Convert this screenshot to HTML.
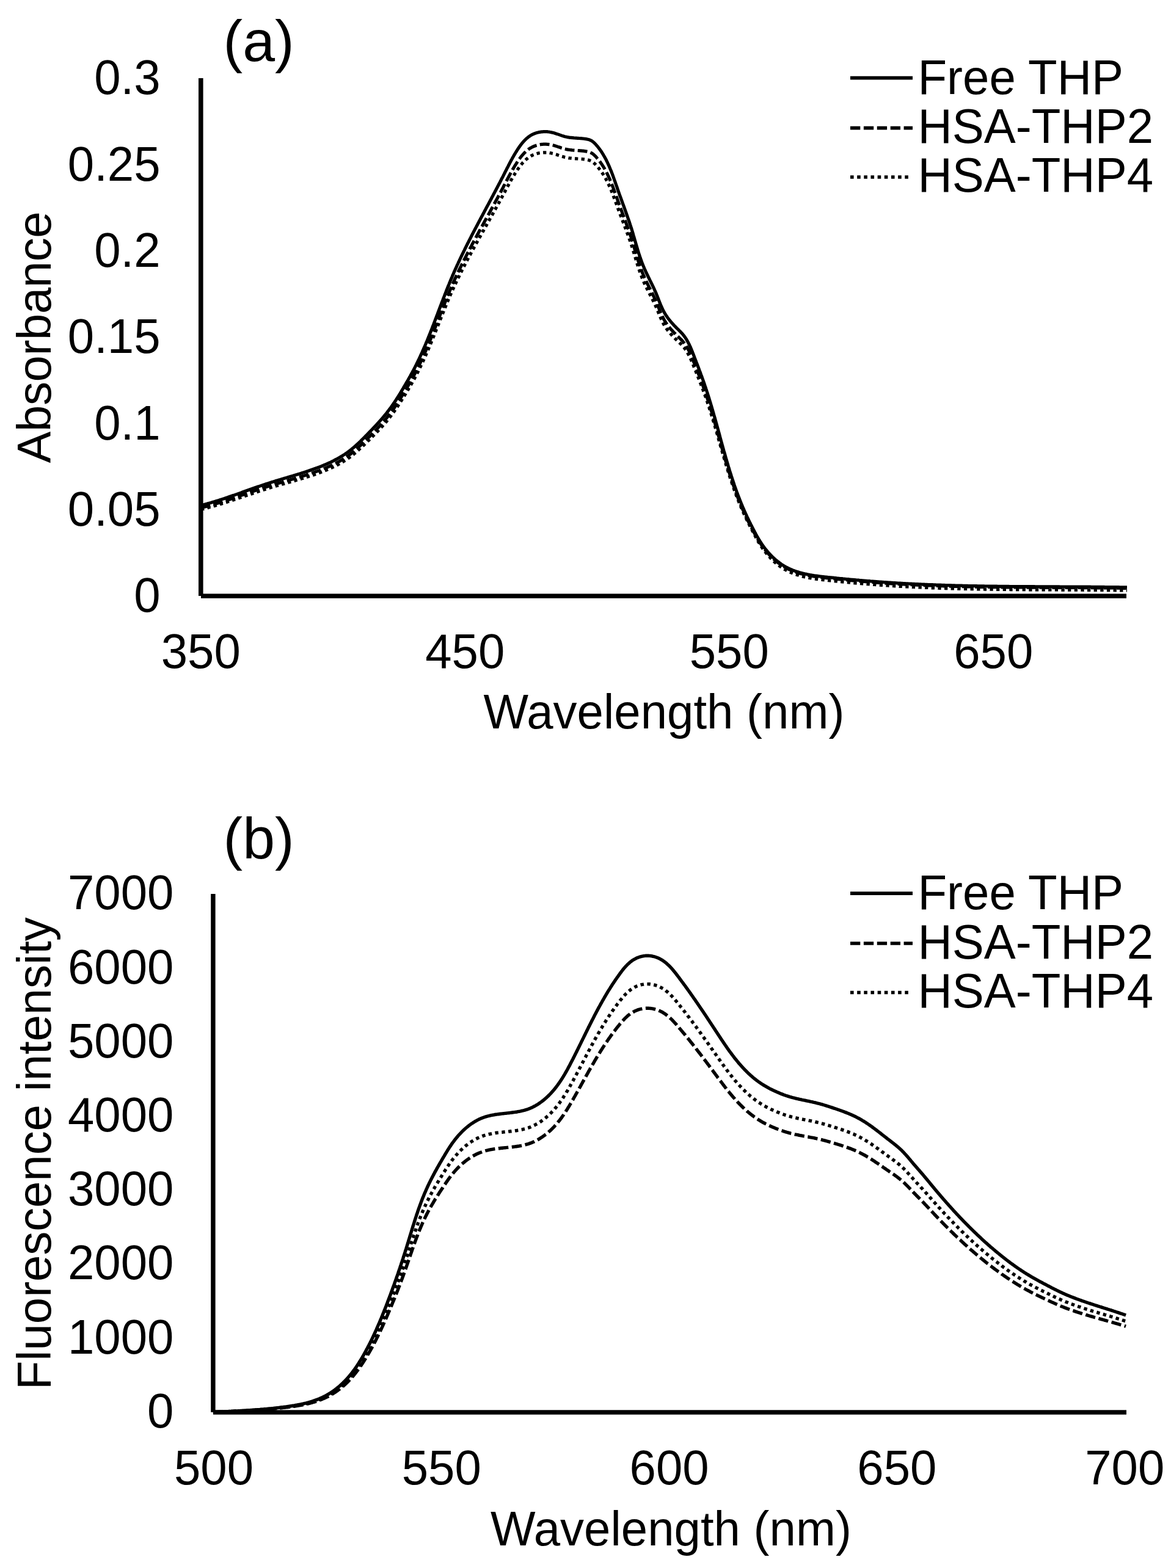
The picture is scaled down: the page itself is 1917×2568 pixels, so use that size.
<!DOCTYPE html>
<html><head><meta charset="utf-8"><title>Absorbance and fluorescence spectra</title>
<style>html,body{margin:0;padding:0;background:#fff;overflow:hidden;}svg{display:block;}</style></head>
<body>
<svg width="1917" height="2568" viewBox="0 0 1917 2568" font-family="'Liberation Sans', sans-serif" font-size="78" fill="#000">
<rect width="1917" height="2568" fill="#fff"/>
<!-- panel a -->
<text x="365.5" y="100.3" font-size="95">(a)</text>
<path d="M329.0 827.7L330.5 827.3L331.9 826.9L333.4 826.5L334.8 826.2L336.3 825.8L337.7 825.4L339.2 825.0L340.6 824.6L342.1 824.2L343.5 823.8L345.0 823.4L346.4 822.9L347.8 822.5L349.3 822.1L350.7 821.7L352.1 821.2L353.6 820.8L355.0 820.3L356.4 819.9L357.9 819.4L359.3 819.0L360.7 818.5L362.2 818.1L363.6 817.6L365.0 817.1L366.5 816.7L367.9 816.2L369.3 815.7L370.7 815.2L372.2 814.8L373.6 814.3L375.0 813.8L376.4 813.3L377.8 812.8L379.3 812.3L380.7 811.8L382.1 811.3L383.5 810.9L384.9 810.4L386.4 809.9L387.8 809.4L389.2 808.9L390.6 808.4L392.0 807.9L393.4 807.4L394.9 806.9L396.3 806.3L397.7 805.8L399.1 805.3L400.5 804.8L401.9 804.3L403.4 803.8L404.8 803.3L406.2 802.8L407.6 802.3L409.0 801.8L410.4 801.3L411.9 800.8L413.3 800.3L414.7 799.8L416.1 799.3L417.5 798.8L418.9 798.3L420.4 797.8L421.8 797.3L423.2 796.8L424.6 796.4L426.0 795.9L427.5 795.4L428.9 794.9L430.3 794.4L431.7 793.9L433.2 793.5L434.6 793.0L436.0 792.5L437.4 792.1L438.9 791.6L440.3 791.1L441.7 790.7L443.1 790.2L444.6 789.8L446.0 789.3L447.4 788.9L448.9 788.4L450.3 788.0L451.7 787.5L453.2 787.1L454.6 786.7L456.0 786.2L457.5 785.8L458.9 785.4L460.3 784.9L461.8 784.5L463.2 784.1L464.7 783.6L466.1 783.2L467.5 782.8L469.0 782.4L470.4 781.9L471.8 781.5L473.3 781.1L474.7 780.6L476.2 780.2L477.6 779.8L479.0 779.4L480.5 778.9L481.9 778.5L483.4 778.1L484.8 777.6L486.2 777.2L487.7 776.8L489.1 776.3L490.5 775.9L492.0 775.4L493.4 775.0L494.8 774.5L496.3 774.1L497.7 773.6L499.1 773.1L500.6 772.7L502.0 772.2L503.4 771.7L504.8 771.3L506.3 770.8L507.7 770.3L509.1 769.8L510.5 769.3L512.0 768.8L513.4 768.3L514.8 767.8L516.2 767.3L517.6 766.8L519.0 766.3L520.5 765.7L521.9 765.2L523.3 764.7L524.7 764.1L526.1 763.6L527.5 763.0L528.9 762.4L530.2 761.8L531.6 761.3L533.0 760.7L534.4 760.1L535.8 759.5L537.1 758.9L538.5 758.2L539.9 757.6L541.2 757.0L542.6 756.3L543.9 755.7L545.2 755.0L546.6 754.3L547.9 753.6L549.2 752.9L550.6 752.2L551.9 751.5L553.2 750.8L554.5 750.1L555.8 749.3L557.0 748.6L558.3 747.8L559.6 747.0L560.9 746.2L562.1 745.4L563.4 744.6L564.6 743.8L565.8 743.0L567.1 742.1L568.3 741.3L569.5 740.4L570.7 739.5L571.9 738.6L573.1 737.7L574.3 736.8L575.4 735.8L576.6 734.9L577.7 733.9L578.9 733.0L580.0 732.0L581.2 731.0L582.3 730.0L583.4 729.0L584.5 728.0L585.6 726.9L586.7 725.9L587.8 724.9L588.9 723.8L590.0 722.8L591.1 721.7L592.1 720.7L593.2 719.6L594.3 718.5L595.4 717.5L596.4 716.4L597.5 715.3L598.6 714.2L599.6 713.2L600.7 712.1L601.7 711.0L602.8 709.9L603.8 708.8L604.9 707.7L605.9 706.7L607.0 705.6L608.0 704.5L609.1 703.4L610.1 702.3L611.1 701.2L612.2 700.1L613.2 699.0L614.2 697.9L615.3 696.8L616.3 695.7L617.3 694.6L618.3 693.5L619.3 692.4L620.3 691.3L621.3 690.2L622.3 689.1L623.3 687.9L624.3 686.8L625.3 685.7L626.2 684.6L627.2 683.4L628.2 682.3L629.1 681.1L630.1 680.0L631.0 678.8L632.0 677.7L632.9 676.5L633.8 675.3L634.7 674.1L635.6 673.0L636.5 671.8L637.4 670.6L638.3 669.4L639.2 668.2L640.1 667.0L640.9 665.8L641.8 664.6L642.7 663.3L643.5 662.1L644.4 660.9L645.2 659.6L646.0 658.4L646.8 657.2L647.7 655.9L648.5 654.7L649.3 653.4L650.1 652.1L650.9 650.9L651.7 649.6L652.5 648.4L653.3 647.1L654.1 645.8L654.9 644.5L655.6 643.3L656.4 642.0L657.2 640.7L658.0 639.4L658.7 638.1L659.5 636.8L660.3 635.5L661.0 634.2L661.8 632.9L662.6 631.6L663.3 630.3L664.1 629.0L664.8 627.7L665.6 626.4L666.4 625.1L667.1 623.8L667.9 622.5L668.6 621.2L669.3 619.9L670.1 618.6L670.8 617.3L671.6 616.0L672.3 614.6L673.0 613.3L673.7 612.0L674.5 610.7L675.2 609.3L675.9 608.0L676.6 606.7L677.3 605.4L678.0 604.0L678.7 602.7L679.4 601.4L680.0 600.0L680.7 598.7L681.4 597.3L682.1 596.0L682.7 594.6L683.4 593.3L684.0 591.9L684.7 590.6L685.3 589.2L686.0 587.9L686.6 586.5L687.3 585.2L687.9 583.8L688.5 582.4L689.1 581.1L689.8 579.7L690.4 578.3L691.0 577.0L691.6 575.6L692.2 574.2L692.8 572.9L693.4 571.5L694.0 570.1L694.6 568.7L695.2 567.3L695.8 566.0L696.4 564.6L697.0 563.2L697.5 561.8L698.1 560.4L698.7 559.1L699.3 557.7L699.8 556.3L700.4 554.9L701.0 553.5L701.5 552.1L702.1 550.7L702.6 549.3L703.2 547.9L703.8 546.6L704.3 545.2L704.9 543.8L705.4 542.4L706.0 541.0L706.5 539.6L707.1 538.2L707.6 536.8L708.1 535.4L708.7 534.0L709.2 532.6L709.8 531.2L710.3 529.8L710.8 528.4L711.4 527.0L711.9 525.6L712.4 524.2L713.0 522.8L713.5 521.4L714.0 520.0L714.6 518.6L715.1 517.2L715.6 515.8L716.2 514.4L716.7 512.9L717.2 511.5L717.8 510.1L718.3 508.7L718.8 507.3L719.3 505.9L719.9 504.5L720.4 503.1L720.9 501.7L721.5 500.3L722.0 498.9L722.5 497.5L723.1 496.1L723.6 494.7L724.1 493.3L724.7 491.9L725.2 490.5L725.7 489.1L726.3 487.7L726.8 486.3L727.4 484.9L727.9 483.5L728.4 482.1L729.0 480.7L729.5 479.3L730.1 477.9L730.6 476.5L731.2 475.1L731.7 473.7L732.3 472.3L732.8 470.9L733.4 469.5L733.9 468.1L734.5 466.8L735.1 465.4L735.6 464.0L736.2 462.6L736.8 461.2L737.3 459.8L737.9 458.4L738.5 457.0L739.1 455.7L739.7 454.3L740.3 452.9L740.8 451.5L741.4 450.1L742.0 448.8L742.6 447.4L743.2 446.0L743.8 444.6L744.4 443.3L745.0 441.9L745.7 440.5L746.3 439.2L746.9 437.8L747.5 436.4L748.1 435.1L748.7 433.7L749.4 432.3L750.0 431.0L750.6 429.6L751.3 428.3L751.9 426.9L752.5 425.5L753.2 424.2L753.8 422.8L754.5 421.5L755.1 420.1L755.8 418.8L756.4 417.4L757.1 416.1L757.7 414.7L758.4 413.4L759.0 412.0L759.7 410.7L760.4 409.3L761.0 408.0L761.7 406.6L762.4 405.3L763.0 403.9L763.7 402.6L764.4 401.2L765.0 399.9L765.7 398.6L766.4 397.2L767.1 395.9L767.8 394.5L768.4 393.2L769.1 391.9L769.8 390.5L770.5 389.2L771.2 387.8L771.9 386.5L772.5 385.2L773.2 383.8L773.9 382.5L774.6 381.2L775.3 379.8L776.0 378.5L776.7 377.2L777.4 375.8L778.1 374.5L778.8 373.2L779.5 371.9L780.2 370.5L780.9 369.2L781.6 367.9L782.3 366.5L783.0 365.2L783.7 363.9L784.4 362.6L785.1 361.2L785.8 359.9L786.5 358.6L787.2 357.2L787.9 355.9L788.6 354.6L789.4 353.3L790.1 351.9L790.8 350.6L791.5 349.3L792.2 348.0L792.9 346.6L793.6 345.3L794.3 344.0L795.0 342.7L795.7 341.3L796.4 340.0L797.1 338.7L797.8 337.4L798.6 336.0L799.3 334.7L800.0 333.4L800.7 332.1L801.4 330.8L802.1 329.4L802.8 328.1L803.5 326.8L804.2 325.5L804.9 324.1L805.6 322.8L806.3 321.5L807.0 320.2L807.7 318.8L808.4 317.5L809.1 316.2L809.8 314.9L810.5 313.5L811.2 312.2L811.9 310.9L812.6 309.6L813.3 308.2L814.0 306.9L814.7 305.6L815.4 304.3L816.1 302.9L816.8 301.6L817.5 300.3L818.2 299.0L818.9 297.6L819.6 296.3L820.2 295.0L820.9 293.6L821.6 292.3L822.3 291.0L823.0 289.7L823.7 288.3L824.3 287.0L825.0 285.7L825.7 284.3L826.4 283.0L827.0 281.7L827.7 280.3L828.4 279.0L829.1 277.7L829.7 276.3L830.4 275.0L831.1 273.7L831.8 272.4L832.5 271.0L833.1 269.7L833.8 268.4L834.5 267.1L835.2 265.7L835.9 264.4L836.6 263.1L837.3 261.8L838.1 260.5L838.8 259.1L839.5 257.8L840.3 256.5L841.0 255.2L841.8 253.9L842.5 252.6L843.3 251.3L844.1 250.0L844.9 248.7L845.7 247.5L846.5 246.2L847.3 244.9L848.1 243.6L849.0 242.4L849.8 241.1L850.7 239.9L851.6 238.6L852.5 237.4L853.4 236.2L854.3 235.0L855.3 233.8L856.3 232.7L857.3 231.6L858.3 230.5L859.3 229.4L860.4 228.4L861.4 227.4L862.5 226.4L863.7 225.4L864.8 224.5L866.0 223.7L867.2 222.8L868.4 222.0L869.7 221.3L870.9 220.6L872.3 219.9L873.6 219.3L875.0 218.8L876.4 218.2L877.8 217.8L879.2 217.3L880.7 217.0L882.1 216.6L883.6 216.3L885.1 216.1L886.6 215.9L888.1 215.8L889.7 215.7L891.2 215.6L892.7 215.6L894.2 215.7L895.7 215.7L897.3 215.9L898.8 216.0L900.3 216.3L901.8 216.5L903.2 216.9L904.7 217.2L906.2 217.6L907.6 218.0L909.1 218.5L910.5 219.0L911.9 219.4L913.4 219.9L914.8 220.4L916.2 220.9L917.6 221.4L919.0 221.9L920.5 222.4L921.9 222.8L923.3 223.3L924.7 223.7L926.2 224.0L927.6 224.3L929.0 224.6L930.5 224.8L931.9 225.1L933.4 225.3L934.9 225.4L936.4 225.6L937.8 225.7L939.3 225.9L940.8 226.0L942.3 226.1L943.8 226.2L945.3 226.3L946.8 226.4L948.4 226.5L949.9 226.6L951.4 226.7L953.0 226.8L954.5 227.0L956.1 227.2L957.6 227.3L959.1 227.6L960.7 227.9L962.2 228.2L963.6 228.6L965.0 229.0L966.4 229.6L967.7 230.2L969.0 230.9L970.2 231.8L971.3 232.7L972.4 233.6L973.4 234.7L974.5 235.7L975.5 236.8L976.5 237.9L977.4 239.0L978.4 240.1L979.3 241.3L980.2 242.5L981.1 243.6L982.0 244.9L982.9 246.1L983.7 247.3L984.6 248.6L985.4 249.8L986.2 251.1L987.0 252.4L987.8 253.7L988.5 255.0L989.3 256.3L990.0 257.6L990.7 258.9L991.5 260.3L992.2 261.6L992.8 263.0L993.5 264.3L994.2 265.7L994.8 267.0L995.4 268.4L996.1 269.8L996.7 271.1L997.3 272.5L997.9 273.9L998.5 275.3L999.0 276.7L999.6 278.1L1000.2 279.4L1000.7 280.8L1001.3 282.2L1001.8 283.6L1002.3 285.0L1002.9 286.4L1003.4 287.8L1003.9 289.3L1004.4 290.7L1004.9 292.1L1005.4 293.5L1005.9 294.9L1006.4 296.3L1006.9 297.7L1007.4 299.1L1007.9 300.6L1008.4 302.0L1008.9 303.4L1009.4 304.8L1009.9 306.2L1010.4 307.6L1010.8 309.1L1011.3 310.5L1011.8 311.9L1012.3 313.3L1012.8 314.7L1013.3 316.1L1013.8 317.5L1014.3 319.0L1014.8 320.4L1015.3 321.8L1015.9 323.2L1016.4 324.6L1016.9 326.0L1017.4 327.4L1017.9 328.8L1018.4 330.2L1018.9 331.6L1019.4 333.1L1019.9 334.5L1020.5 335.9L1021.0 337.3L1021.5 338.7L1022.0 340.1L1022.5 341.5L1023.0 342.9L1023.5 344.3L1024.0 345.8L1024.5 347.2L1025.0 348.6L1025.5 350.0L1026.0 351.4L1026.5 352.8L1027.0 354.2L1027.5 355.7L1028.0 357.1L1028.5 358.5L1029.0 359.9L1029.5 361.3L1030.0 362.8L1030.4 364.2L1030.9 365.6L1031.4 367.0L1031.8 368.5L1032.3 369.9L1032.8 371.3L1033.2 372.8L1033.7 374.2L1034.1 375.6L1034.6 377.1L1035.0 378.5L1035.4 379.9L1035.9 381.4L1036.3 382.8L1036.7 384.3L1037.1 385.7L1037.6 387.2L1038.0 388.6L1038.4 390.1L1038.8 391.5L1039.2 393.0L1039.6 394.4L1040.1 395.8L1040.5 397.3L1040.9 398.7L1041.3 400.2L1041.7 401.6L1042.2 403.1L1042.6 404.5L1043.0 406.0L1043.4 407.4L1043.9 408.8L1044.3 410.3L1044.7 411.7L1045.2 413.1L1045.6 414.6L1046.1 416.0L1046.6 417.4L1047.0 418.9L1047.5 420.3L1048.0 421.7L1048.5 423.1L1049.0 424.5L1049.5 425.9L1050.0 427.4L1050.5 428.8L1051.0 430.2L1051.5 431.6L1052.1 432.9L1052.6 434.3L1053.2 435.7L1053.8 437.1L1054.4 438.5L1054.9 439.9L1055.6 441.2L1056.2 442.6L1056.8 444.0L1057.4 445.3L1058.0 446.7L1058.7 448.0L1059.3 449.4L1060.0 450.7L1060.6 452.1L1061.3 453.4L1061.9 454.8L1062.6 456.1L1063.3 457.5L1063.9 458.8L1064.6 460.2L1065.3 461.5L1065.9 462.9L1066.6 464.2L1067.3 465.6L1067.9 466.9L1068.6 468.3L1069.2 469.6L1069.8 471.0L1070.5 472.4L1071.1 473.7L1071.7 475.1L1072.4 476.5L1073.0 477.9L1073.6 479.3L1074.1 480.6L1074.7 482.0L1075.3 483.4L1075.9 484.8L1076.4 486.2L1077.0 487.7L1077.5 489.1L1078.1 490.5L1078.6 491.9L1079.2 493.3L1079.7 494.7L1080.3 496.1L1080.8 497.5L1081.4 498.9L1082.0 500.3L1082.6 501.6L1083.2 503.0L1083.8 504.4L1084.4 505.7L1085.1 507.1L1085.7 508.4L1086.4 509.7L1087.1 511.0L1087.8 512.3L1088.6 513.6L1089.3 514.9L1090.1 516.1L1090.9 517.3L1091.8 518.6L1092.6 519.8L1093.5 521.0L1094.4 522.2L1095.3 523.3L1096.2 524.5L1097.2 525.7L1098.1 526.8L1099.1 528.0L1100.1 529.1L1101.1 530.2L1102.1 531.3L1103.1 532.4L1104.1 533.5L1105.2 534.6L1106.2 535.7L1107.3 536.8L1108.4 537.9L1109.5 538.9L1110.6 540.0L1111.6 541.1L1112.7 542.1L1113.8 543.2L1114.8 544.3L1115.9 545.4L1116.9 546.5L1117.9 547.7L1118.8 548.8L1119.8 550.0L1120.6 551.2L1121.5 552.4L1122.3 553.6L1123.2 554.9L1123.9 556.2L1124.7 557.4L1125.4 558.7L1126.1 560.0L1126.8 561.4L1127.5 562.7L1128.2 564.0L1128.8 565.4L1129.5 566.8L1130.1 568.1L1130.7 569.5L1131.3 570.9L1131.8 572.3L1132.4 573.7L1133.0 575.1L1133.5 576.5L1134.1 577.9L1134.6 579.3L1135.2 580.7L1135.7 582.1L1136.2 583.5L1136.8 585.0L1137.3 586.4L1137.9 587.8L1138.4 589.2L1139.0 590.6L1139.5 592.0L1140.0 593.4L1140.6 594.8L1141.1 596.2L1141.6 597.6L1142.2 599.0L1142.7 600.4L1143.2 601.8L1143.8 603.2L1144.3 604.6L1144.8 606.0L1145.3 607.4L1145.9 608.8L1146.4 610.2L1146.9 611.6L1147.4 613.0L1147.9 614.4L1148.5 615.8L1149.0 617.2L1149.5 618.7L1150.0 620.1L1150.5 621.5L1151.0 622.9L1151.5 624.3L1152.0 625.7L1152.5 627.1L1153.0 628.5L1153.5 629.9L1153.9 631.3L1154.4 632.8L1154.9 634.2L1155.4 635.6L1155.8 637.0L1156.3 638.4L1156.8 639.9L1157.2 641.3L1157.7 642.7L1158.2 644.1L1158.6 645.6L1159.1 647.0L1159.5 648.4L1160.0 649.8L1160.4 651.3L1160.9 652.7L1161.3 654.1L1161.7 655.6L1162.2 657.0L1162.6 658.4L1163.0 659.9L1163.5 661.3L1163.9 662.8L1164.3 664.2L1164.8 665.6L1165.2 667.1L1165.6 668.5L1166.0 670.0L1166.4 671.4L1166.9 672.8L1167.3 674.3L1167.7 675.7L1168.1 677.2L1168.5 678.6L1168.9 680.1L1169.3 681.5L1169.7 682.9L1170.2 684.4L1170.6 685.8L1171.0 687.3L1171.4 688.7L1171.8 690.2L1172.2 691.6L1172.6 693.1L1173.0 694.5L1173.4 696.0L1173.8 697.4L1174.2 698.9L1174.6 700.3L1175.0 701.8L1175.4 703.2L1175.8 704.7L1176.2 706.1L1176.6 707.6L1177.0 709.0L1177.4 710.5L1177.8 711.9L1178.1 713.4L1178.5 714.8L1178.9 716.3L1179.3 717.7L1179.7 719.2L1180.1 720.7L1180.5 722.1L1180.9 723.6L1181.3 725.0L1181.7 726.5L1182.1 727.9L1182.5 729.4L1182.9 730.8L1183.3 732.3L1183.7 733.7L1184.1 735.2L1184.5 736.6L1184.9 738.1L1185.3 739.5L1185.8 740.9L1186.2 742.4L1186.6 743.8L1187.0 745.3L1187.4 746.7L1187.8 748.2L1188.2 749.6L1188.6 751.1L1189.1 752.5L1189.5 754.0L1189.9 755.4L1190.3 756.8L1190.7 758.3L1191.2 759.7L1191.6 761.2L1192.0 762.6L1192.4 764.0L1192.9 765.5L1193.3 766.9L1193.8 768.3L1194.2 769.8L1194.6 771.2L1195.1 772.7L1195.5 774.1L1196.0 775.5L1196.4 776.9L1196.9 778.4L1197.3 779.8L1197.8 781.2L1198.3 782.7L1198.7 784.1L1199.2 785.5L1199.7 786.9L1200.1 788.4L1200.6 789.8L1201.1 791.2L1201.6 792.6L1202.0 794.0L1202.5 795.5L1203.0 796.9L1203.5 798.3L1204.0 799.7L1204.5 801.1L1205.0 802.5L1205.5 803.9L1206.0 805.3L1206.5 806.7L1207.1 808.1L1207.6 809.5L1208.1 810.9L1208.6 812.3L1209.2 813.7L1209.7 815.1L1210.3 816.5L1210.8 817.9L1211.3 819.3L1211.9 820.7L1212.5 822.1L1213.0 823.5L1213.6 824.9L1214.2 826.3L1214.7 827.6L1215.3 829.0L1215.9 830.4L1216.5 831.8L1217.1 833.2L1217.7 834.5L1218.3 835.9L1218.9 837.3L1219.5 838.6L1220.1 840.0L1220.7 841.4L1221.4 842.7L1222.0 844.1L1222.6 845.4L1223.2 846.8L1223.9 848.2L1224.5 849.5L1225.2 850.9L1225.8 852.2L1226.5 853.6L1227.1 854.9L1227.8 856.2L1228.5 857.6L1229.1 858.9L1229.8 860.3L1230.5 861.6L1231.2 862.9L1231.8 864.3L1232.5 865.6L1233.2 866.9L1233.9 868.3L1234.6 869.6L1235.3 870.9L1236.0 872.2L1236.7 873.5L1237.4 874.9L1238.1 876.2L1238.8 877.5L1239.6 878.8L1240.3 880.1L1241.0 881.4L1241.8 882.7L1242.6 884.0L1243.4 885.2L1244.2 886.5L1245.0 887.8L1245.8 889.0L1246.6 890.3L1247.5 891.5L1248.3 892.8L1249.2 894.0L1250.1 895.2L1251.0 896.5L1251.9 897.7L1252.8 898.9L1253.8 900.1L1254.7 901.2L1255.7 902.4L1256.7 903.6L1257.6 904.7L1258.6 905.8L1259.7 907.0L1260.7 908.1L1261.7 909.2L1262.8 910.2L1263.8 911.3L1264.9 912.4L1266.0 913.4L1267.1 914.4L1268.2 915.4L1269.3 916.4L1270.5 917.4L1271.6 918.4L1272.8 919.3L1274.0 920.2L1275.2 921.1L1276.4 922.0L1277.6 922.9L1278.8 923.8L1280.0 924.6L1281.3 925.4L1282.5 926.2L1283.8 927.0L1285.1 927.7L1286.4 928.5L1287.7 929.2L1289.0 929.8L1290.4 930.5L1291.7 931.2L1293.1 931.8L1294.4 932.4L1295.8 933.0L1297.2 933.6L1298.6 934.1L1300.0 934.6L1301.4 935.2L1302.8 935.7L1304.3 936.1L1305.7 936.6L1307.1 937.0L1308.6 937.5L1310.0 937.9L1311.5 938.3L1313.0 938.7L1314.4 939.1L1315.9 939.4L1317.4 939.8L1318.9 940.1L1320.3 940.4L1321.8 940.7L1323.3 941.0L1324.8 941.3L1326.3 941.6L1327.8 941.8L1329.3 942.1L1330.7 942.3L1332.2 942.6L1333.7 942.8L1335.2 943.0L1336.7 943.2L1338.2 943.4L1339.7 943.6L1341.2 943.8L1342.6 944.0L1344.1 944.2L1345.6 944.3L1347.1 944.5L1348.6 944.7L1350.1 944.8L1351.6 945.0L1353.1 945.1L1354.5 945.3L1356.0 945.5L1357.5 945.6L1359.0 945.8L1360.5 945.9L1362.0 946.1L1363.5 946.2L1365.0 946.4L1366.5 946.6L1368.0 946.7L1369.5 946.9L1370.9 947.0L1372.4 947.2L1373.9 947.3L1375.4 947.5L1376.9 947.6L1378.4 947.7L1379.9 947.9L1381.4 948.0L1382.9 948.2L1384.4 948.3L1385.9 948.5L1387.4 948.6L1388.9 948.7L1390.4 948.9L1391.8 949.0L1393.3 949.2L1394.8 949.3L1396.3 949.4L1397.8 949.6L1399.3 949.7L1400.8 949.8L1402.3 950.0L1403.8 950.1L1405.3 950.2L1406.8 950.4L1408.3 950.5L1409.8 950.6L1411.3 950.8L1412.8 950.9L1414.3 951.0L1415.8 951.1L1417.3 951.3L1418.8 951.4L1420.3 951.5L1421.8 951.6L1423.3 951.7L1424.8 951.9L1426.3 952.0L1427.8 952.1L1429.3 952.2L1430.8 952.3L1432.3 952.4L1433.7 952.6L1435.2 952.7L1436.7 952.8L1438.2 952.9L1439.7 953.0L1441.2 953.1L1442.7 953.2L1444.2 953.3L1445.7 953.4L1447.2 953.5L1448.7 953.6L1450.2 953.7L1451.7 953.8L1453.2 953.9L1454.7 954.0L1456.2 954.1L1457.7 954.2L1459.2 954.3L1460.7 954.4L1462.2 954.5L1463.7 954.6L1465.2 954.7L1466.7 954.8L1468.2 954.9L1469.7 955.0L1471.2 955.1L1472.7 955.2L1474.2 955.2L1475.7 955.3L1477.2 955.4L1478.7 955.5L1480.2 955.6L1481.7 955.7L1483.2 955.8L1484.7 955.8L1486.2 955.9L1487.7 956.0L1489.2 956.1L1490.7 956.1L1492.2 956.2L1493.7 956.3L1495.2 956.4L1496.7 956.4L1498.2 956.5L1499.7 956.6L1501.2 956.7L1502.7 956.7L1504.2 956.8L1505.7 956.9L1507.2 956.9L1508.7 957.0L1510.2 957.1L1511.7 957.1L1513.2 957.2L1514.7 957.3L1516.2 957.3L1517.7 957.4L1519.2 957.5L1520.7 957.5L1522.2 957.6L1523.7 957.6L1525.2 957.7L1526.7 957.7L1528.2 957.8L1529.7 957.9L1531.2 957.9L1532.7 958.0L1534.2 958.0L1535.7 958.1L1537.2 958.1L1538.7 958.2L1540.2 958.2L1541.7 958.3L1543.2 958.3L1544.7 958.4L1546.2 958.4L1547.7 958.5L1549.2 958.5L1550.7 958.6L1552.2 958.6L1553.7 958.7L1555.2 958.7L1556.7 958.7L1558.2 958.8L1559.7 958.8L1561.2 958.9L1562.7 958.9L1564.2 959.0L1565.7 959.0L1567.2 959.0L1568.7 959.1L1570.2 959.1L1571.7 959.2L1573.2 959.2L1574.7 959.2L1576.2 959.3L1577.7 959.3L1579.2 959.3L1580.7 959.4L1582.2 959.4L1583.7 959.4L1585.2 959.5L1586.7 959.5L1588.2 959.5L1589.7 959.6L1591.2 959.6L1592.7 959.6L1594.2 959.6L1595.7 959.7L1597.2 959.7L1598.8 959.7L1600.3 959.8L1601.8 959.8L1603.3 959.8L1604.8 959.8L1606.3 959.9L1607.8 959.9L1609.3 959.9L1610.8 959.9L1612.3 960.0L1613.8 960.0L1615.3 960.0L1616.8 960.0L1618.3 960.1L1619.8 960.1L1621.3 960.1L1622.8 960.1L1624.3 960.1L1625.8 960.2L1627.3 960.2L1628.8 960.2L1630.3 960.2L1631.8 960.2L1633.3 960.3L1634.8 960.3L1636.3 960.3L1637.8 960.3L1639.3 960.3L1640.8 960.3L1642.3 960.4L1643.8 960.4L1645.3 960.4L1646.8 960.4L1648.3 960.4L1649.8 960.4L1651.3 960.4L1652.8 960.5L1654.3 960.5L1655.8 960.5L1657.3 960.5L1658.8 960.5L1660.3 960.5L1661.8 960.5L1663.3 960.5L1664.8 960.6L1666.3 960.6L1667.8 960.6L1669.3 960.6L1670.8 960.6L1672.3 960.6L1673.8 960.6L1675.3 960.6L1676.8 960.6L1678.3 960.7L1679.8 960.7L1681.3 960.7L1682.8 960.7L1684.3 960.7L1685.8 960.7L1687.3 960.7L1688.8 960.7L1690.3 960.7L1691.8 960.7L1693.3 960.7L1694.8 960.8L1696.3 960.8L1697.9 960.8L1699.4 960.8L1700.9 960.8L1702.4 960.8L1703.9 960.8L1705.4 960.8L1706.9 960.8L1708.4 960.8L1709.9 960.8L1711.4 960.8L1712.9 960.8L1714.4 960.9L1715.9 960.9L1717.4 960.9L1718.9 960.9L1720.4 960.9L1721.9 960.9L1723.4 960.9L1724.9 960.9L1726.4 960.9L1727.9 960.9L1729.4 960.9L1730.9 960.9L1732.4 960.9L1733.9 960.9L1735.4 961.0L1736.9 961.0L1738.4 961.0L1739.9 961.0L1741.4 961.0L1742.9 961.0L1744.4 961.0L1745.9 961.0L1747.4 961.0L1748.9 961.0L1750.4 961.0L1751.9 961.0L1753.4 961.0L1754.9 961.0L1756.4 961.1L1757.9 961.1L1759.4 961.1L1760.9 961.1L1762.4 961.1L1763.9 961.1L1765.4 961.1L1766.9 961.1L1768.4 961.1L1769.9 961.1L1771.4 961.1L1772.9 961.2L1774.4 961.2L1775.9 961.2L1777.4 961.2L1778.9 961.2L1780.4 961.2L1781.9 961.2L1783.4 961.2L1784.9 961.2L1786.4 961.3L1787.9 961.3L1789.4 961.3L1791.0 961.3L1792.5 961.3L1794.0 961.3L1795.5 961.3L1797.0 961.3L1798.5 961.4L1800.0 961.4L1801.5 961.4L1803.0 961.4L1804.5 961.4L1806.0 961.4L1807.5 961.4L1809.0 961.5L1810.5 961.5L1812.0 961.5L1813.5 961.5L1815.0 961.5L1816.5 961.5L1818.0 961.6L1819.5 961.6L1821.0 961.6L1822.5 961.6L1824.0 961.6L1825.5 961.7L1827.0 961.7L1828.5 961.7L1830.0 961.7L1831.5 961.7L1833.0 961.8L1834.5 961.8L1836.0 961.8L1837.5 961.8L1839.0 961.8L1840.5 961.9L1842.0 961.9L1843.5 961.9L1845.0 961.9" fill="none" stroke="#000" stroke-width="5.2" stroke-linejoin="round"/>
<path d="M329.0 831.7L330.5 831.3L331.9 830.9L333.4 830.6L334.8 830.2L336.3 829.8L337.7 829.5L339.2 829.1L340.6 828.7L342.1 828.3L343.5 827.9L345.0 827.5L346.4 827.1L347.8 826.7L349.3 826.2L350.7 825.8L352.1 825.4L353.6 825.0L355.0 824.5L356.4 824.1L357.9 823.7L359.3 823.2L360.7 822.8L362.2 822.3L363.6 821.9L365.0 821.4L366.5 821.0L367.9 820.5L369.3 820.0L370.7 819.6L372.2 819.1L373.6 818.6L375.0 818.2L376.4 817.7L377.8 817.2L379.3 816.7L380.7 816.3L382.1 815.8L383.5 815.3L384.9 814.8L386.4 814.3L387.8 813.9L389.2 813.4L390.6 812.9L392.0 812.4L393.4 811.9L394.9 811.4L396.3 810.9L397.7 810.4L399.1 809.9L400.5 809.5L401.9 809.0L403.4 808.5L404.8 808.0L406.2 807.5L407.6 807.0L409.0 806.5L410.4 806.0L411.9 805.5L413.3 805.1L414.7 804.6L416.1 804.1L417.5 803.6L418.9 803.1L420.4 802.6L421.8 802.2L423.2 801.7L424.6 801.2L426.0 800.7L427.5 800.3L428.9 799.8L430.3 799.3L431.7 798.9L433.2 798.4L434.6 797.9L436.0 797.5L437.4 797.0L438.9 796.6L440.3 796.1L441.7 795.7L443.1 795.2L444.6 794.8L446.0 794.3L447.4 793.9L448.9 793.5L450.3 793.0L451.7 792.6L453.2 792.2L454.6 791.8L456.0 791.3L457.5 790.9L458.9 790.5L460.3 790.1L461.8 789.7L463.2 789.2L464.7 788.8L466.1 788.4L467.5 788.0L469.0 787.6L470.4 787.2L471.8 786.8L473.3 786.3L474.7 785.9L476.2 785.5L477.6 785.1L479.0 784.7L480.5 784.2L481.9 783.8L483.4 783.4L484.8 783.0L486.2 782.6L487.7 782.1L489.1 781.7L490.5 781.3L492.0 780.8L493.4 780.4L494.8 780.0L496.3 779.5L497.7 779.1L499.1 778.6L500.6 778.2L502.0 777.7L503.4 777.3L504.8 776.8L506.3 776.3L507.7 775.9L509.1 775.4L510.5 774.9L512.0 774.4L513.4 773.9L514.8 773.4L516.2 772.9L517.6 772.4L519.0 771.9L520.5 771.4L521.9 770.9L523.3 770.4L524.7 769.8L526.1 769.3L527.5 768.7L528.9 768.2L530.2 767.6L531.6 767.1L533.0 766.5L534.4 765.9L535.8 765.3L537.1 764.7L538.5 764.1L539.9 763.5L541.2 762.9L542.6 762.2L543.9 761.6L545.2 761.0L546.6 760.3L547.9 759.6L549.2 759.0L550.6 758.3L551.9 757.6L553.2 756.9L554.5 756.2L555.8 755.4L557.0 754.7L558.3 754.0L559.6 753.2L560.9 752.4L562.1 751.7L563.4 750.9L564.6 750.1L565.8 749.3L567.1 748.4L568.3 747.6L569.5 746.7L570.7 745.9L571.9 745.0L573.1 744.1L574.3 743.2L575.4 742.3L576.6 741.4L577.7 740.5L578.9 739.5L580.0 738.6L581.2 737.6L582.3 736.6L583.4 735.7L584.5 734.7L585.6 733.7L586.7 732.7L587.8 731.7L588.9 730.6L590.0 729.6L591.1 728.6L592.1 727.6L593.2 726.5L594.3 725.5L595.4 724.4L596.4 723.4L597.5 722.4L598.6 721.3L599.6 720.3L600.7 719.2L601.7 718.2L602.8 717.1L603.8 716.0L604.9 715.0L605.9 713.9L607.0 712.9L608.0 711.8L609.1 710.8L610.1 709.7L611.1 708.6L612.2 707.6L613.2 706.5L614.2 705.4L615.3 704.4L616.3 703.3L617.3 702.2L618.3 701.2L619.3 700.1L620.3 699.0L621.3 697.9L622.3 696.8L623.3 695.7L624.3 694.6L625.3 693.5L626.2 692.4L627.2 691.3L628.2 690.2L629.1 689.1L630.1 688.0L631.0 686.8L632.0 685.7L632.9 684.6L633.8 683.4L634.7 682.3L635.6 681.2L636.5 680.0L637.4 678.8L638.3 677.7L639.2 676.5L640.1 675.3L640.9 674.2L641.8 673.0L642.7 671.8L643.5 670.6L644.4 669.4L645.2 668.2L646.0 667.0L646.8 665.8L647.7 664.6L648.5 663.3L649.3 662.1L650.1 660.9L650.9 659.7L651.7 658.4L652.5 657.2L653.3 656.0L654.1 654.7L654.9 653.5L655.6 652.2L656.4 651.0L657.2 649.7L658.0 648.5L658.7 647.2L659.5 646.0L660.3 644.7L661.0 643.5L661.8 642.2L662.6 640.9L663.3 639.7L664.1 638.4L664.8 637.1L665.6 635.9L666.4 634.6L667.1 633.3L667.9 632.1L668.6 630.8L669.3 629.5L670.1 628.2L670.8 627.0L671.6 625.7L672.3 624.4L673.0 623.1L673.7 621.8L674.5 620.5L675.2 619.2L675.9 618.0L676.6 616.7L677.3 615.4L678.0 614.1L678.7 612.8L679.4 611.5L680.0 610.2L680.7 608.9L681.4 607.6L682.1 606.2L682.7 604.9L683.4 603.6L684.0 602.3L684.7 601.0L685.3 599.7L686.0 598.4L686.6 597.0L687.3 595.7L687.9 594.4L688.5 593.1L689.1 591.7L689.8 590.4L690.4 589.1L691.0 587.7L691.6 586.4L692.2 585.1L692.8 583.7L693.4 582.4L694.0 581.1L694.6 579.7L695.2 578.4L695.8 577.0L696.4 575.7L697.0 574.4L697.5 573.0L698.1 571.7L698.7 570.3L699.3 569.0L699.8 567.6L700.4 566.3L701.0 564.9L701.5 563.6L702.1 562.2L702.6 560.9L703.2 559.5L703.8 558.1L704.3 556.8L704.9 555.4L705.4 554.1L706.0 552.7L706.5 551.4L707.1 550.0L707.6 548.6L708.1 547.3L708.7 545.9L709.2 544.6L709.8 543.2L710.3 541.8L710.8 540.5L711.4 539.1L711.9 537.7L712.4 536.4L713.0 535.0L713.5 533.6L714.0 532.3L714.6 530.9L715.1 529.5L715.6 528.2L716.2 526.8L716.7 525.5L717.2 524.1L717.8 522.7L718.3 521.4L718.8 520.0L719.3 518.6L719.9 517.3L720.4 515.9L720.9 514.5L721.5 513.2L722.0 511.8L722.5 510.4L723.1 509.1L723.6 507.7L724.1 506.3L724.7 505.0L725.2 503.6L725.7 502.2L726.3 500.9L726.8 499.5L727.4 498.2L727.9 496.8L728.4 495.4L729.0 494.1L729.5 492.7L730.1 491.4L730.6 490.0L731.2 488.6L731.7 487.3L732.3 485.9L732.8 484.6L733.4 483.2L733.9 481.9L734.5 480.5L735.1 479.2L735.6 477.8L736.2 476.5L736.8 475.1L737.3 473.8L737.9 472.4L738.5 471.1L739.1 469.7L739.7 468.4L740.3 467.0L740.8 465.7L741.4 464.3L742.0 463.0L742.6 461.7L743.2 460.3L743.8 459.0L744.4 457.7L745.0 456.3L745.7 455.0L746.3 453.7L746.9 452.3L747.5 451.0L748.1 449.7L748.7 448.3L749.4 447.0L750.0 445.7L750.6 444.4L751.3 443.0L751.9 441.7L752.5 440.4L753.2 439.1L753.8 437.8L754.5 436.4L755.1 435.1L755.8 433.8L756.4 432.5L757.1 431.2L757.7 429.9L758.4 428.5L759.0 427.2L759.7 425.9L760.4 424.6L761.0 423.3L761.7 422.0L762.4 420.7L763.0 419.4L763.7 418.1L764.4 416.8L765.0 415.5L765.7 414.1L766.4 412.8L767.1 411.5L767.8 410.2L768.4 408.9L769.1 407.6L769.8 406.3L770.5 405.0L771.2 403.7L771.9 402.4L772.5 401.1L773.2 399.8L773.9 398.5L774.6 397.2L775.3 395.9L776.0 394.6L776.7 393.3L777.4 392.0L778.1 390.8L778.8 389.5L779.5 388.2L780.2 386.9L780.9 385.6L781.6 384.3L782.3 383.0L783.0 381.7L783.7 380.4L784.4 379.1L785.1 377.8L785.8 376.5L786.5 375.2L787.2 374.0L787.9 372.7L788.6 371.4L789.4 370.1L790.1 368.8L790.8 367.5L791.5 366.2L792.2 364.9L792.9 363.6L793.6 362.3L794.3 361.1L795.0 359.8L795.7 358.5L796.4 357.2L797.1 355.9L797.8 354.6L798.6 353.3L799.3 352.0L800.0 350.8L800.7 349.5L801.4 348.2L802.1 346.9L802.8 345.6L803.5 344.3L804.2 343.0L804.9 341.7L805.6 340.4L806.3 339.2L807.0 337.9L807.7 336.6L808.4 335.3L809.1 334.0L809.8 332.7L810.5 331.4L811.2 330.1L811.9 328.9L812.6 327.6L813.3 326.3L814.0 325.0L814.7 323.7L815.4 322.4L816.1 321.1L816.8 319.8L817.5 318.5L818.2 317.2L818.9 315.9L819.6 314.7L820.2 313.4L820.9 312.1L821.6 310.8L822.3 309.5L823.0 308.2L823.7 306.9L824.3 305.6L825.0 304.3L825.7 303.0L826.4 301.7L827.0 300.4L827.7 299.1L828.4 297.8L829.1 296.5L829.7 295.2L830.4 293.9L831.1 292.6L831.8 291.4L832.5 290.1L833.1 288.8L833.8 287.5L834.5 286.2L835.2 284.9L835.9 283.6L836.6 282.3L837.3 281.1L838.1 279.8L838.8 278.5L839.5 277.2L840.3 276.0L841.0 274.7L841.8 273.4L842.5 272.2L843.3 270.9L844.1 269.6L844.9 268.4L845.7 267.1L846.5 265.9L847.3 264.6L848.1 263.4L849.0 262.2L849.8 260.9L850.7 259.7L851.6 258.5L852.5 257.3L853.4 256.2L854.3 255.0L855.3 253.9L856.3 252.8L857.3 251.7L858.3 250.6L859.3 249.6L860.4 248.6L861.4 247.6L862.5 246.6L863.7 245.7L864.8 244.8L866.0 244.0L867.2 243.2L868.4 242.4L869.7 241.7L870.9 241.0L872.3 240.3L873.6 239.7L875.0 239.2L876.4 238.7L877.8 238.2L879.2 237.8L880.7 237.5L882.1 237.1L883.6 236.9L885.1 236.6L886.6 236.4L888.1 236.3L889.7 236.2L891.2 236.1L892.7 236.1L894.2 236.2L895.7 236.3L897.3 236.4L898.8 236.6L900.3 236.8L901.8 237.0L903.2 237.4L904.7 237.7L906.2 238.1L907.6 238.5L909.1 238.9L910.5 239.4L911.9 239.9L913.4 240.4L914.8 240.8L916.2 241.3L917.6 241.8L919.0 242.3L920.5 242.7L921.9 243.2L923.3 243.6L924.7 244.0L926.2 244.3L927.6 244.6L929.0 244.9L930.5 245.1L931.9 245.3L933.4 245.5L934.9 245.7L936.4 245.9L937.8 246.0L939.3 246.1L940.8 246.2L942.3 246.3L943.8 246.4L945.3 246.5L946.8 246.6L948.4 246.7L949.9 246.8L951.4 246.9L953.0 247.1L954.5 247.2L956.1 247.4L957.6 247.6L959.1 247.8L960.7 248.1L962.2 248.4L963.6 248.8L965.0 249.2L966.4 249.7L967.7 250.3L969.0 251.0L970.2 251.8L971.3 252.7L972.4 253.7L973.4 254.7L974.5 255.7L975.5 256.7L976.5 257.8L977.4 258.9L978.4 260.0L979.3 261.1L980.2 262.3L981.1 263.4L982.0 264.6L982.9 265.8L983.7 267.0L984.6 268.2L985.4 269.4L986.2 270.7L987.0 271.9L987.8 273.2L988.5 274.4L989.3 275.7L990.0 277.0L990.7 278.3L991.5 279.6L992.2 280.9L992.8 282.2L993.5 283.5L994.2 284.8L994.8 286.2L995.4 287.5L996.1 288.8L996.7 290.2L997.3 291.5L997.9 292.9L998.5 294.2L999.0 295.5L999.6 296.9L1000.2 298.3L1000.7 299.6L1001.3 301.0L1001.8 302.3L1002.3 303.7L1002.9 305.1L1003.4 306.4L1003.9 307.8L1004.4 309.2L1004.9 310.5L1005.4 311.9L1005.9 313.3L1006.4 314.7L1006.9 316.0L1007.4 317.4L1007.9 318.8L1008.4 320.2L1008.9 321.6L1009.4 322.9L1009.9 324.3L1010.4 325.7L1010.8 327.1L1011.3 328.4L1011.8 329.8L1012.3 331.2L1012.8 332.6L1013.3 333.9L1013.8 335.3L1014.3 336.7L1014.8 338.1L1015.3 339.4L1015.9 340.8L1016.4 342.2L1016.9 343.6L1017.4 344.9L1017.9 346.3L1018.4 347.7L1018.9 349.0L1019.4 350.4L1019.9 351.8L1020.5 353.2L1021.0 354.5L1021.5 355.9L1022.0 357.3L1022.5 358.6L1023.0 360.0L1023.5 361.4L1024.0 362.8L1024.5 364.1L1025.0 365.5L1025.5 366.9L1026.0 368.3L1026.5 369.6L1027.0 371.0L1027.5 372.4L1028.0 373.8L1028.5 375.2L1029.0 376.5L1029.5 377.9L1030.0 379.3L1030.4 380.7L1030.9 382.1L1031.4 383.5L1031.8 384.9L1032.3 386.3L1032.8 387.7L1033.2 389.0L1033.7 390.4L1034.1 391.8L1034.6 393.2L1035.0 394.6L1035.4 396.0L1035.9 397.4L1036.3 398.8L1036.7 400.3L1037.1 401.7L1037.6 403.1L1038.0 404.5L1038.4 405.9L1038.8 407.3L1039.2 408.7L1039.6 410.1L1040.1 411.5L1040.5 412.9L1040.9 414.3L1041.3 415.7L1041.7 417.1L1042.2 418.5L1042.6 419.9L1043.0 421.3L1043.4 422.7L1043.9 424.1L1044.3 425.5L1044.7 426.9L1045.2 428.3L1045.6 429.7L1046.1 431.1L1046.6 432.5L1047.0 433.9L1047.5 435.3L1048.0 436.7L1048.5 438.0L1049.0 439.4L1049.5 440.8L1050.0 442.2L1050.5 443.5L1051.0 444.9L1051.5 446.3L1052.1 447.6L1052.6 449.0L1053.2 450.3L1053.8 451.7L1054.4 453.0L1054.9 454.3L1055.6 455.7L1056.2 457.0L1056.8 458.3L1057.4 459.6L1058.0 461.0L1058.7 462.3L1059.3 463.6L1060.0 464.9L1060.6 466.2L1061.3 467.5L1061.9 468.9L1062.6 470.2L1063.3 471.5L1063.9 472.8L1064.6 474.1L1065.3 475.4L1065.9 476.7L1066.6 478.0L1067.3 479.4L1067.9 480.7L1068.6 482.0L1069.2 483.3L1069.8 484.6L1070.5 486.0L1071.1 487.3L1071.7 488.6L1072.4 490.0L1073.0 491.3L1073.6 492.7L1074.1 494.0L1074.7 495.4L1075.3 496.7L1075.9 498.1L1076.4 499.5L1077.0 500.8L1077.5 502.2L1078.1 503.6L1078.6 504.9L1079.2 506.3L1079.7 507.7L1080.3 509.0L1080.8 510.4L1081.4 511.8L1082.0 513.1L1082.6 514.4L1083.2 515.8L1083.8 517.1L1084.4 518.4L1085.1 519.7L1085.7 521.0L1086.4 522.3L1087.1 523.6L1087.8 524.8L1088.6 526.1L1089.3 527.3L1090.1 528.5L1090.9 529.7L1091.8 530.9L1092.6 532.1L1093.5 533.3L1094.4 534.4L1095.3 535.6L1096.2 536.7L1097.2 537.8L1098.1 538.9L1099.1 540.1L1100.1 541.2L1101.1 542.2L1102.1 543.3L1103.1 544.4L1104.1 545.5L1105.2 546.5L1106.2 547.6L1107.3 548.6L1108.4 549.7L1109.5 550.7L1110.6 551.8L1111.6 552.8L1112.7 553.9L1113.8 554.9L1114.8 556.0L1115.9 557.0L1116.9 558.1L1117.9 559.2L1118.8 560.4L1119.8 561.5L1120.6 562.7L1121.5 563.8L1122.3 565.0L1123.2 566.3L1123.9 567.5L1124.7 568.7L1125.4 570.0L1126.1 571.3L1126.8 572.6L1127.5 573.9L1128.2 575.2L1128.8 576.5L1129.5 577.8L1130.1 579.1L1130.7 580.5L1131.3 581.8L1131.8 583.2L1132.4 584.6L1133.0 585.9L1133.5 587.3L1134.1 588.7L1134.6 590.0L1135.2 591.4L1135.7 592.8L1136.2 594.1L1136.8 595.5L1137.3 596.9L1137.9 598.2L1138.4 599.6L1139.0 601.0L1139.5 602.4L1140.0 603.7L1140.6 605.1L1141.1 606.5L1141.6 607.8L1142.2 609.2L1142.7 610.5L1143.2 611.9L1143.8 613.3L1144.3 614.6L1144.8 616.0L1145.3 617.4L1145.9 618.7L1146.4 620.1L1146.9 621.5L1147.4 622.8L1147.9 624.2L1148.5 625.6L1149.0 626.9L1149.5 628.3L1150.0 629.7L1150.5 631.0L1151.0 632.4L1151.5 633.8L1152.0 635.2L1152.5 636.5L1153.0 637.9L1153.5 639.3L1153.9 640.7L1154.4 642.0L1154.9 643.4L1155.4 644.8L1155.8 646.2L1156.3 647.6L1156.8 648.9L1157.2 650.3L1157.7 651.7L1158.2 653.1L1158.6 654.5L1159.1 655.9L1159.5 657.3L1160.0 658.7L1160.4 660.0L1160.9 661.4L1161.3 662.8L1161.7 664.2L1162.2 665.6L1162.6 667.0L1163.0 668.4L1163.5 669.8L1163.9 671.2L1164.3 672.6L1164.8 674.0L1165.2 675.4L1165.6 676.8L1166.0 678.2L1166.4 679.6L1166.9 681.0L1167.3 682.4L1167.7 683.8L1168.1 685.2L1168.5 686.6L1168.9 688.0L1169.3 689.5L1169.7 690.9L1170.2 692.3L1170.6 693.7L1171.0 695.1L1171.4 696.5L1171.8 697.9L1172.2 699.3L1172.6 700.7L1173.0 702.1L1173.4 703.5L1173.8 705.0L1174.2 706.4L1174.6 707.8L1175.0 709.2L1175.4 710.6L1175.8 712.0L1176.2 713.4L1176.6 714.8L1177.0 716.2L1177.4 717.7L1177.8 719.1L1178.1 720.5L1178.5 721.9L1178.9 723.3L1179.3 724.7L1179.7 726.1L1180.1 727.5L1180.5 729.0L1180.9 730.4L1181.3 731.8L1181.7 733.2L1182.1 734.6L1182.5 736.0L1182.9 737.4L1183.3 738.8L1183.7 740.2L1184.1 741.7L1184.5 743.1L1184.9 744.5L1185.3 745.9L1185.8 747.3L1186.2 748.7L1186.6 750.1L1187.0 751.5L1187.4 752.9L1187.8 754.3L1188.2 755.7L1188.6 757.1L1189.1 758.5L1189.5 759.9L1189.9 761.4L1190.3 762.8L1190.7 764.2L1191.2 765.6L1191.6 767.0L1192.0 768.4L1192.4 769.8L1192.9 771.2L1193.3 772.6L1193.8 774.0L1194.2 775.4L1194.6 776.7L1195.1 778.1L1195.5 779.5L1196.0 780.9L1196.4 782.3L1196.9 783.7L1197.3 785.1L1197.8 786.5L1198.3 787.9L1198.7 789.3L1199.2 790.7L1199.7 792.0L1200.1 793.4L1200.6 794.8L1201.1 796.2L1201.6 797.6L1202.0 798.9L1202.5 800.3L1203.0 801.7L1203.5 803.1L1204.0 804.5L1204.5 805.8L1205.0 807.2L1205.5 808.6L1206.0 809.9L1206.5 811.3L1207.1 812.7L1207.6 814.0L1208.1 815.4L1208.6 816.8L1209.2 818.1L1209.7 819.5L1210.3 820.8L1210.8 822.2L1211.3 823.6L1211.9 824.9L1212.5 826.3L1213.0 827.6L1213.6 829.0L1214.2 830.3L1214.7 831.6L1215.3 833.0L1215.9 834.3L1216.5 835.7L1217.1 837.0L1217.7 838.3L1218.3 839.7L1218.9 841.0L1219.5 842.3L1220.1 843.7L1220.7 845.0L1221.4 846.3L1222.0 847.6L1222.6 849.0L1223.2 850.3L1223.9 851.6L1224.5 852.9L1225.2 854.2L1225.8 855.6L1226.5 856.9L1227.1 858.2L1227.8 859.5L1228.5 860.8L1229.1 862.1L1229.8 863.4L1230.5 864.7L1231.2 866.0L1231.8 867.3L1232.5 868.6L1233.2 869.9L1233.9 871.2L1234.6 872.5L1235.3 873.7L1236.0 875.0L1236.7 876.3L1237.4 877.6L1238.1 878.9L1238.8 880.1L1239.6 881.4L1240.3 882.7L1241.0 883.9L1241.8 885.2L1242.6 886.4L1243.4 887.7L1244.2 888.9L1245.0 890.2L1245.8 891.4L1246.6 892.6L1247.5 893.8L1248.3 895.0L1249.2 896.2L1250.1 897.4L1251.0 898.6L1251.9 899.8L1252.8 900.9L1253.8 902.1L1254.7 903.2L1255.7 904.4L1256.7 905.5L1257.6 906.6L1258.6 907.7L1259.7 908.8L1260.7 909.9L1261.7 911.0L1262.8 912.0L1263.8 913.1L1264.9 914.1L1266.0 915.1L1267.1 916.1L1268.2 917.1L1269.3 918.0L1270.5 919.0L1271.6 919.9L1272.8 920.8L1274.0 921.7L1275.2 922.6L1276.4 923.5L1277.6 924.3L1278.8 925.2L1280.0 926.0L1281.3 926.8L1282.5 927.6L1283.8 928.4L1285.1 929.1L1286.4 929.9L1287.7 930.6L1289.0 931.3L1290.4 931.9L1291.7 932.6L1293.1 933.2L1294.4 933.8L1295.8 934.4L1297.2 935.0L1298.6 935.5L1300.0 936.1L1301.4 936.6L1302.8 937.1L1304.3 937.5L1305.7 938.0L1307.1 938.5L1308.6 938.9L1310.0 939.3L1311.5 939.7L1313.0 940.1L1314.4 940.5L1315.9 940.8L1317.4 941.2L1318.9 941.5L1320.3 941.8L1321.8 942.1L1323.3 942.4L1324.8 942.7L1326.3 943.0L1327.8 943.3L1329.3 943.5L1330.7 943.7L1332.2 944.0L1333.7 944.2L1335.2 944.4L1336.7 944.6L1338.2 944.8L1339.7 945.0L1341.2 945.2L1342.6 945.4L1344.1 945.6L1345.6 945.7L1347.1 945.9L1348.6 946.1L1350.1 946.2L1351.6 946.4L1353.1 946.6L1354.5 946.7L1356.0 946.9L1357.5 947.0L1359.0 947.2L1360.5 947.3L1362.0 947.5L1363.5 947.7L1365.0 947.8L1366.5 948.0L1368.0 948.1L1369.5 948.3L1370.9 948.4L1372.4 948.6L1373.9 948.7L1375.4 948.9L1376.9 949.0L1378.4 949.2L1379.9 949.3L1381.4 949.5L1382.9 949.6L1384.4 949.7L1385.9 949.9L1387.4 950.0L1388.9 950.2L1390.4 950.3L1391.8 950.4L1393.3 950.6L1394.8 950.7L1396.3 950.9L1397.8 951.0L1399.3 951.1L1400.8 951.3L1402.3 951.4L1403.8 951.5L1405.3 951.7L1406.8 951.8L1408.3 951.9L1409.8 952.0L1411.3 952.2L1412.8 952.3L1414.3 952.4L1415.8 952.5L1417.3 952.7L1418.8 952.8L1420.3 952.9L1421.8 953.0L1423.3 953.2L1424.8 953.3L1426.3 953.4L1427.8 953.5L1429.3 953.6L1430.8 953.7L1432.3 953.9L1433.7 954.0L1435.2 954.1L1436.7 954.2L1438.2 954.3L1439.7 954.4L1441.2 954.5L1442.7 954.6L1444.2 954.7L1445.7 954.8L1447.2 954.9L1448.7 955.1L1450.2 955.2L1451.7 955.3L1453.2 955.4L1454.7 955.5L1456.2 955.6L1457.7 955.7L1459.2 955.8L1460.7 955.8L1462.2 955.9L1463.7 956.0L1465.2 956.1L1466.7 956.2L1468.2 956.3L1469.7 956.4L1471.2 956.5L1472.7 956.6L1474.2 956.7L1475.7 956.7L1477.2 956.8L1478.7 956.9L1480.2 957.0L1481.7 957.1L1483.2 957.2L1484.7 957.2L1486.2 957.3L1487.7 957.4L1489.2 957.5L1490.7 957.6L1492.2 957.6L1493.7 957.7L1495.2 957.8L1496.7 957.9L1498.2 957.9L1499.7 958.0L1501.2 958.1L1502.7 958.1L1504.2 958.2L1505.7 958.3L1507.2 958.4L1508.7 958.4L1510.2 958.5L1511.7 958.5L1513.2 958.6L1514.7 958.7L1516.2 958.7L1517.7 958.8L1519.2 958.9L1520.7 958.9L1522.2 959.0L1523.7 959.0L1525.2 959.1L1526.7 959.2L1528.2 959.2L1529.7 959.3L1531.2 959.3L1532.7 959.4L1534.2 959.4L1535.7 959.5L1537.2 959.5L1538.7 959.6L1540.2 959.6L1541.7 959.7L1543.2 959.7L1544.7 959.8L1546.2 959.8L1547.7 959.9L1549.2 959.9L1550.7 960.0L1552.2 960.0L1553.7 960.1L1555.2 960.1L1556.7 960.2L1558.2 960.2L1559.7 960.2L1561.2 960.3L1562.7 960.3L1564.2 960.4L1565.7 960.4L1567.2 960.4L1568.7 960.5L1570.2 960.5L1571.7 960.6L1573.2 960.6L1574.7 960.6L1576.2 960.7L1577.7 960.7L1579.2 960.7L1580.7 960.8L1582.2 960.8L1583.7 960.8L1585.2 960.9L1586.7 960.9L1588.2 960.9L1589.7 961.0L1591.2 961.0L1592.7 961.0L1594.2 961.1L1595.7 961.1L1597.2 961.1L1598.8 961.1L1600.3 961.2L1601.8 961.2L1603.3 961.2L1604.8 961.3L1606.3 961.3L1607.8 961.3L1609.3 961.3L1610.8 961.4L1612.3 961.4L1613.8 961.4L1615.3 961.4L1616.8 961.4L1618.3 961.5L1619.8 961.5L1621.3 961.5L1622.8 961.5L1624.3 961.6L1625.8 961.6L1627.3 961.6L1628.8 961.6L1630.3 961.6L1631.8 961.6L1633.3 961.7L1634.8 961.7L1636.3 961.7L1637.8 961.7L1639.3 961.7L1640.8 961.8L1642.3 961.8L1643.8 961.8L1645.3 961.8L1646.8 961.8L1648.3 961.8L1649.8 961.8L1651.3 961.9L1652.8 961.9L1654.3 961.9L1655.8 961.9L1657.3 961.9L1658.8 961.9L1660.3 961.9L1661.8 962.0L1663.3 962.0L1664.8 962.0L1666.3 962.0L1667.8 962.0L1669.3 962.0L1670.8 962.0L1672.3 962.0L1673.8 962.0L1675.3 962.1L1676.8 962.1L1678.3 962.1L1679.8 962.1L1681.3 962.1L1682.8 962.1L1684.3 962.1L1685.8 962.1L1687.3 962.1L1688.8 962.1L1690.3 962.1L1691.8 962.2L1693.3 962.2L1694.8 962.2L1696.3 962.2L1697.9 962.2L1699.4 962.2L1700.9 962.2L1702.4 962.2L1703.9 962.2L1705.4 962.2L1706.9 962.2L1708.4 962.2L1709.9 962.2L1711.4 962.3L1712.9 962.3L1714.4 962.3L1715.9 962.3L1717.4 962.3L1718.9 962.3L1720.4 962.3L1721.9 962.3L1723.4 962.3L1724.9 962.3L1726.4 962.3L1727.9 962.3L1729.4 962.3L1730.9 962.3L1732.4 962.4L1733.9 962.4L1735.4 962.4L1736.9 962.4L1738.4 962.4L1739.9 962.4L1741.4 962.4L1742.9 962.4L1744.4 962.4L1745.9 962.4L1747.4 962.4L1748.9 962.4L1750.4 962.4L1751.9 962.4L1753.4 962.5L1754.9 962.5L1756.4 962.5L1757.9 962.5L1759.4 962.5L1760.9 962.5L1762.4 962.5L1763.9 962.5L1765.4 962.5L1766.9 962.5L1768.4 962.5L1769.9 962.5L1771.4 962.6L1772.9 962.6L1774.4 962.6L1775.9 962.6L1777.4 962.6L1778.9 962.6L1780.4 962.6L1781.9 962.6L1783.4 962.6L1784.9 962.7L1786.4 962.7L1787.9 962.7L1789.4 962.7L1791.0 962.7L1792.5 962.7L1794.0 962.7L1795.5 962.7L1797.0 962.8L1798.5 962.8L1800.0 962.8L1801.5 962.8L1803.0 962.8L1804.5 962.8L1806.0 962.8L1807.5 962.9L1809.0 962.9L1810.5 962.9L1812.0 962.9L1813.5 962.9L1815.0 962.9L1816.5 963.0L1818.0 963.0L1819.5 963.0L1821.0 963.0L1822.5 963.0L1824.0 963.0L1825.5 963.1L1827.0 963.1L1828.5 963.1L1830.0 963.1L1831.5 963.1L1833.0 963.2L1834.5 963.2L1836.0 963.2L1837.5 963.2L1839.0 963.3L1840.5 963.3L1842.0 963.3L1843.5 963.3L1845.0 963.4" fill="none" stroke="#000" stroke-width="5.2" stroke-dasharray="15.8 5.3" stroke-linejoin="round"/>
<path d="M329.0 834.3L330.5 834.0L331.9 833.6L333.4 833.3L334.8 832.9L336.3 832.5L337.7 832.2L339.2 831.8L340.6 831.4L342.1 831.0L343.5 830.6L345.0 830.2L346.4 829.8L347.8 829.4L349.3 829.0L350.7 828.6L352.1 828.2L353.6 827.8L355.0 827.3L356.4 826.9L357.9 826.5L359.3 826.0L360.7 825.6L362.2 825.2L363.6 824.7L365.0 824.3L366.5 823.8L367.9 823.4L369.3 822.9L370.7 822.5L372.2 822.0L373.6 821.6L375.0 821.1L376.4 820.6L377.8 820.2L379.3 819.7L380.7 819.2L382.1 818.8L383.5 818.3L384.9 817.8L386.4 817.3L387.8 816.9L389.2 816.4L390.6 815.9L392.0 815.4L393.4 814.9L394.9 814.5L396.3 814.0L397.7 813.5L399.1 813.0L400.5 812.5L401.9 812.1L403.4 811.6L404.8 811.1L406.2 810.6L407.6 810.1L409.0 809.7L410.4 809.2L411.9 808.7L413.3 808.2L414.7 807.7L416.1 807.3L417.5 806.8L418.9 806.3L420.4 805.8L421.8 805.4L423.2 804.9L424.6 804.4L426.0 804.0L427.5 803.5L428.9 803.1L430.3 802.6L431.7 802.1L433.2 801.7L434.6 801.2L436.0 800.8L437.4 800.3L438.9 799.9L440.3 799.4L441.7 799.0L443.1 798.6L444.6 798.1L446.0 797.7L447.4 797.3L448.9 796.9L450.3 796.4L451.7 796.0L453.2 795.6L454.6 795.2L456.0 794.8L457.5 794.3L458.9 793.9L460.3 793.5L461.8 793.1L463.2 792.7L464.7 792.3L466.1 791.9L467.5 791.5L469.0 791.1L470.4 790.7L471.8 790.3L473.3 789.8L474.7 789.4L476.2 789.0L477.6 788.6L479.0 788.2L480.5 787.8L481.9 787.4L483.4 787.0L484.8 786.6L486.2 786.1L487.7 785.7L489.1 785.3L490.5 784.9L492.0 784.4L493.4 784.0L494.8 783.6L496.3 783.2L497.7 782.7L499.1 782.3L500.6 781.8L502.0 781.4L503.4 780.9L504.8 780.5L506.3 780.0L507.7 779.6L509.1 779.1L510.5 778.6L512.0 778.2L513.4 777.7L514.8 777.2L516.2 776.7L517.6 776.2L519.0 775.7L520.5 775.2L521.9 774.7L523.3 774.2L524.7 773.6L526.1 773.1L527.5 772.6L528.9 772.0L530.2 771.5L531.6 770.9L533.0 770.4L534.4 769.8L535.8 769.2L537.1 768.6L538.5 768.0L539.9 767.4L541.2 766.8L542.6 766.2L543.9 765.6L545.2 764.9L546.6 764.3L547.9 763.6L549.2 763.0L550.6 762.3L551.9 761.6L553.2 760.9L554.5 760.2L555.8 759.5L557.0 758.8L558.3 758.1L559.6 757.3L560.9 756.6L562.1 755.8L563.4 755.0L564.6 754.2L565.8 753.5L567.1 752.6L568.3 751.8L569.5 751.0L570.7 750.1L571.9 749.3L573.1 748.4L574.3 747.5L575.4 746.6L576.6 745.7L577.7 744.8L578.9 743.9L580.0 743.0L581.2 742.0L582.3 741.1L583.4 740.1L584.5 739.1L585.6 738.2L586.7 737.2L587.8 736.2L588.9 735.2L590.0 734.2L591.1 733.2L592.1 732.2L593.2 731.1L594.3 730.1L595.4 729.1L596.4 728.1L597.5 727.0L598.6 726.0L599.6 725.0L600.7 724.0L601.7 722.9L602.8 721.9L603.8 720.9L604.9 719.8L605.9 718.8L607.0 717.7L608.0 716.7L609.1 715.7L610.1 714.6L611.1 713.6L612.2 712.5L613.2 711.5L614.2 710.5L615.3 709.4L616.3 708.3L617.3 707.3L618.3 706.2L619.3 705.2L620.3 704.1L621.3 703.0L622.3 702.0L623.3 700.9L624.3 699.8L625.3 698.7L626.2 697.7L627.2 696.6L628.2 695.5L629.1 694.4L630.1 693.3L631.0 692.2L632.0 691.1L632.9 690.0L633.8 688.9L634.7 687.7L635.6 686.6L636.5 685.5L637.4 684.3L638.3 683.2L639.2 682.0L640.1 680.9L640.9 679.7L641.8 678.6L642.7 677.4L643.5 676.2L644.4 675.1L645.2 673.9L646.0 672.7L646.8 671.5L647.7 670.3L648.5 669.1L649.3 667.9L650.1 666.7L650.9 665.5L651.7 664.3L652.5 663.1L653.3 661.9L654.1 660.7L654.9 659.4L655.6 658.2L656.4 657.0L657.2 655.8L658.0 654.5L658.7 653.3L659.5 652.1L660.3 650.8L661.0 649.6L661.8 648.4L662.6 647.1L663.3 645.9L664.1 644.7L664.8 643.4L665.6 642.2L666.4 640.9L667.1 639.7L667.9 638.4L668.6 637.2L669.3 635.9L670.1 634.7L670.8 633.4L671.6 632.2L672.3 630.9L673.0 629.6L673.7 628.4L674.5 627.1L675.2 625.8L675.9 624.6L676.6 623.3L677.3 622.0L678.0 620.8L678.7 619.5L679.4 618.2L680.0 616.9L680.7 615.7L681.4 614.4L682.1 613.1L682.7 611.8L683.4 610.5L684.0 609.2L684.7 607.9L685.3 606.6L686.0 605.3L686.6 604.0L687.3 602.7L687.9 601.4L688.5 600.1L689.1 598.8L689.8 597.5L690.4 596.2L691.0 594.9L691.6 593.6L692.2 592.3L692.8 591.0L693.4 589.7L694.0 588.4L694.6 587.1L695.2 585.7L695.8 584.4L696.4 583.1L697.0 581.8L697.5 580.5L698.1 579.1L698.7 577.8L699.3 576.5L699.8 575.2L700.4 573.8L701.0 572.5L701.5 571.2L702.1 569.9L702.6 568.5L703.2 567.2L703.8 565.9L704.3 564.5L704.9 563.2L705.4 561.9L706.0 560.5L706.5 559.2L707.1 557.9L707.6 556.5L708.1 555.2L708.7 553.9L709.2 552.5L709.8 551.2L710.3 549.9L710.8 548.5L711.4 547.2L711.9 545.8L712.4 544.5L713.0 543.2L713.5 541.8L714.0 540.5L714.6 539.1L715.1 537.8L715.6 536.5L716.2 535.1L716.7 533.8L717.2 532.4L717.8 531.1L718.3 529.8L718.8 528.4L719.3 527.1L719.9 525.7L720.4 524.4L720.9 523.1L721.5 521.7L722.0 520.4L722.5 519.0L723.1 517.7L723.6 516.4L724.1 515.0L724.7 513.7L725.2 512.3L725.7 511.0L726.3 509.7L726.8 508.3L727.4 507.0L727.9 505.7L728.4 504.3L729.0 503.0L729.5 501.7L730.1 500.3L730.6 499.0L731.2 497.7L731.7 496.3L732.3 495.0L732.8 493.7L733.4 492.3L733.9 491.0L734.5 489.7L735.1 488.3L735.6 487.0L736.2 485.7L736.8 484.4L737.3 483.0L737.9 481.7L738.5 480.4L739.1 479.1L739.7 477.8L740.3 476.4L740.8 475.1L741.4 473.8L742.0 472.5L742.6 471.2L743.2 469.9L743.8 468.6L744.4 467.2L745.0 465.9L745.7 464.6L746.3 463.3L746.9 462.0L747.5 460.7L748.1 459.4L748.7 458.1L749.4 456.8L750.0 455.5L750.6 454.2L751.3 452.9L751.9 451.6L752.5 450.3L753.2 449.0L753.8 447.7L754.5 446.4L755.1 445.1L755.8 443.8L756.4 442.5L757.1 441.3L757.7 440.0L758.4 438.7L759.0 437.4L759.7 436.1L760.4 434.8L761.0 433.5L761.7 432.2L762.4 431.0L763.0 429.7L763.7 428.4L764.4 427.1L765.0 425.8L765.7 424.5L766.4 423.3L767.1 422.0L767.8 420.7L768.4 419.4L769.1 418.1L769.8 416.9L770.5 415.6L771.2 414.3L771.9 413.0L772.5 411.8L773.2 410.5L773.9 409.2L774.6 407.9L775.3 406.7L776.0 405.4L776.7 404.1L777.4 402.9L778.1 401.6L778.8 400.3L779.5 399.0L780.2 397.8L780.9 396.5L781.6 395.2L782.3 394.0L783.0 392.7L783.7 391.4L784.4 390.2L785.1 388.9L785.8 387.6L786.5 386.4L787.2 385.1L787.9 383.8L788.6 382.6L789.4 381.3L790.1 380.0L790.8 378.8L791.5 377.5L792.2 376.2L792.9 375.0L793.6 373.7L794.3 372.4L795.0 371.2L795.7 369.9L796.4 368.6L797.1 367.4L797.8 366.1L798.6 364.8L799.3 363.6L800.0 362.3L800.7 361.1L801.4 359.8L802.1 358.5L802.8 357.3L803.5 356.0L804.2 354.7L804.9 353.5L805.6 352.2L806.3 350.9L807.0 349.7L807.7 348.4L808.4 347.1L809.1 345.9L809.8 344.6L810.5 343.4L811.2 342.1L811.9 340.8L812.6 339.6L813.3 338.3L814.0 337.0L814.7 335.8L815.4 334.5L816.1 333.2L816.8 332.0L817.5 330.7L818.2 329.4L818.9 328.2L819.6 326.9L820.2 325.6L820.9 324.4L821.6 323.1L822.3 321.8L823.0 320.5L823.7 319.3L824.3 318.0L825.0 316.7L825.7 315.5L826.4 314.2L827.0 312.9L827.7 311.6L828.4 310.4L829.1 309.1L829.7 307.8L830.4 306.6L831.1 305.3L831.8 304.0L832.5 302.8L833.1 301.5L833.8 300.2L834.5 299.0L835.2 297.7L835.9 296.4L836.6 295.2L837.3 293.9L838.1 292.7L838.8 291.4L839.5 290.2L840.3 288.9L841.0 287.7L841.8 286.4L842.5 285.2L843.3 283.9L844.1 282.7L844.9 281.5L845.7 280.2L846.5 279.0L847.3 277.8L848.1 276.6L849.0 275.4L849.8 274.2L850.7 273.0L851.6 271.8L852.5 270.6L853.4 269.5L854.3 268.4L855.3 267.2L856.3 266.1L857.3 265.1L858.3 264.0L859.3 263.0L860.4 262.0L861.4 261.0L862.5 260.1L863.7 259.2L864.8 258.3L866.0 257.5L867.2 256.7L868.4 256.0L869.7 255.2L870.9 254.6L872.3 253.9L873.6 253.4L875.0 252.8L876.4 252.3L877.8 251.9L879.2 251.5L880.7 251.1L882.1 250.8L883.6 250.5L885.1 250.3L886.6 250.1L888.1 250.0L889.7 249.9L891.2 249.8L892.7 249.8L894.2 249.9L895.7 249.9L897.3 250.1L898.8 250.2L900.3 250.5L901.8 250.7L903.2 251.0L904.7 251.4L906.2 251.7L907.6 252.1L909.1 252.6L910.5 253.0L911.9 253.5L913.4 254.0L914.8 254.4L916.2 254.9L917.6 255.4L919.0 255.9L920.5 256.3L921.9 256.7L923.3 257.1L924.7 257.5L926.2 257.8L927.6 258.1L929.0 258.4L930.5 258.7L931.9 258.9L933.4 259.0L934.9 259.2L936.4 259.4L937.8 259.5L939.3 259.6L940.8 259.7L942.3 259.8L943.8 259.9L945.3 260.0L946.8 260.1L948.4 260.2L949.9 260.3L951.4 260.4L953.0 260.5L954.5 260.7L956.1 260.8L957.6 261.0L959.1 261.3L960.7 261.5L962.2 261.8L963.6 262.2L965.0 262.6L966.4 263.2L967.7 263.8L969.0 264.5L970.2 265.2L971.3 266.1L972.4 267.0L973.4 268.0L974.5 269.0L975.5 270.1L976.5 271.1L977.4 272.2L978.4 273.3L979.3 274.4L980.2 275.5L981.1 276.6L982.0 277.8L982.9 278.9L983.7 280.1L984.6 281.3L985.4 282.5L986.2 283.7L987.0 284.9L987.8 286.2L988.5 287.4L989.3 288.7L990.0 289.9L990.7 291.2L991.5 292.5L992.2 293.8L992.8 295.0L993.5 296.3L994.2 297.6L994.8 298.9L995.4 300.2L996.1 301.5L996.7 302.9L997.3 304.2L997.9 305.5L998.5 306.8L999.0 308.1L999.6 309.5L1000.2 310.8L1000.7 312.1L1001.3 313.5L1001.8 314.8L1002.3 316.1L1002.9 317.5L1003.4 318.8L1003.9 320.2L1004.4 321.5L1004.9 322.9L1005.4 324.2L1005.9 325.5L1006.4 326.9L1006.9 328.3L1007.4 329.6L1007.9 331.0L1008.4 332.3L1008.9 333.7L1009.4 335.0L1009.9 336.4L1010.4 337.7L1010.8 339.1L1011.3 340.4L1011.8 341.8L1012.3 343.1L1012.8 344.5L1013.3 345.8L1013.8 347.2L1014.3 348.5L1014.8 349.9L1015.3 351.2L1015.9 352.6L1016.4 353.9L1016.9 355.3L1017.4 356.6L1017.9 358.0L1018.4 359.3L1018.9 360.6L1019.4 362.0L1019.9 363.3L1020.5 364.7L1021.0 366.0L1021.5 367.4L1022.0 368.7L1022.5 370.1L1023.0 371.4L1023.5 372.8L1024.0 374.1L1024.5 375.5L1025.0 376.8L1025.5 378.2L1026.0 379.5L1026.5 380.9L1027.0 382.2L1027.5 383.6L1028.0 384.9L1028.5 386.3L1029.0 387.6L1029.5 389.0L1030.0 390.4L1030.4 391.7L1030.9 393.1L1031.4 394.4L1031.8 395.8L1032.3 397.2L1032.8 398.5L1033.2 399.9L1033.7 401.3L1034.1 402.6L1034.6 404.0L1035.0 405.4L1035.4 406.8L1035.9 408.1L1036.3 409.5L1036.7 410.9L1037.1 412.3L1037.6 413.7L1038.0 415.0L1038.4 416.4L1038.8 417.8L1039.2 419.2L1039.6 420.6L1040.1 422.0L1040.5 423.3L1040.9 424.7L1041.3 426.1L1041.7 427.5L1042.2 428.9L1042.6 430.2L1043.0 431.6L1043.4 433.0L1043.9 434.4L1044.3 435.7L1044.7 437.1L1045.2 438.5L1045.6 439.8L1046.1 441.2L1046.6 442.6L1047.0 443.9L1047.5 445.3L1048.0 446.6L1048.5 448.0L1049.0 449.3L1049.5 450.7L1050.0 452.0L1050.5 453.4L1051.0 454.7L1051.5 456.1L1052.1 457.4L1052.6 458.7L1053.2 460.0L1053.8 461.4L1054.4 462.7L1054.9 464.0L1055.6 465.3L1056.2 466.6L1056.8 467.9L1057.4 469.2L1058.0 470.5L1058.7 471.8L1059.3 473.1L1060.0 474.4L1060.6 475.7L1061.3 476.9L1061.9 478.2L1062.6 479.5L1063.3 480.8L1063.9 482.1L1064.6 483.4L1065.3 484.7L1065.9 486.0L1066.6 487.3L1067.3 488.5L1067.9 489.8L1068.6 491.1L1069.2 492.4L1069.8 493.7L1070.5 495.0L1071.1 496.3L1071.7 497.7L1072.4 499.0L1073.0 500.3L1073.6 501.6L1074.1 502.9L1074.7 504.3L1075.3 505.6L1075.9 506.9L1076.4 508.3L1077.0 509.6L1077.5 511.0L1078.1 512.3L1078.6 513.7L1079.2 515.0L1079.7 516.3L1080.3 517.7L1080.8 519.0L1081.4 520.3L1082.0 521.7L1082.6 523.0L1083.2 524.3L1083.8 525.6L1084.4 526.9L1085.1 528.2L1085.7 529.4L1086.4 530.7L1087.1 531.9L1087.8 533.2L1088.6 534.4L1089.3 535.6L1090.1 536.8L1090.9 538.0L1091.8 539.2L1092.6 540.3L1093.5 541.5L1094.4 542.6L1095.3 543.7L1096.2 544.8L1097.2 545.9L1098.1 547.0L1099.1 548.1L1100.1 549.2L1101.1 550.3L1102.1 551.3L1103.1 552.4L1104.1 553.4L1105.2 554.5L1106.2 555.5L1107.3 556.5L1108.4 557.6L1109.5 558.6L1110.6 559.6L1111.6 560.6L1112.7 561.7L1113.8 562.7L1114.8 563.7L1115.9 564.8L1116.9 565.9L1117.9 566.9L1118.8 568.0L1119.8 569.2L1120.6 570.3L1121.5 571.5L1122.3 572.6L1123.2 573.8L1123.9 575.0L1124.7 576.3L1125.4 577.5L1126.1 578.8L1126.8 580.0L1127.5 581.3L1128.2 582.6L1128.8 583.9L1129.5 585.2L1130.1 586.5L1130.7 587.8L1131.3 589.1L1131.8 590.5L1132.4 591.8L1133.0 593.1L1133.5 594.5L1134.1 595.8L1134.6 597.2L1135.2 598.5L1135.7 599.9L1136.2 601.2L1136.8 602.6L1137.3 603.9L1137.9 605.2L1138.4 606.6L1139.0 607.9L1139.5 609.3L1140.0 610.6L1140.6 611.9L1141.1 613.3L1141.6 614.6L1142.2 616.0L1142.7 617.3L1143.2 618.6L1143.8 620.0L1144.3 621.3L1144.8 622.7L1145.3 624.0L1145.9 625.3L1146.4 626.7L1146.9 628.0L1147.4 629.4L1147.9 630.7L1148.5 632.0L1149.0 633.4L1149.5 634.7L1150.0 636.1L1150.5 637.4L1151.0 638.8L1151.5 640.1L1152.0 641.5L1152.5 642.8L1153.0 644.2L1153.5 645.5L1153.9 646.9L1154.4 648.2L1154.9 649.6L1155.4 650.9L1155.8 652.3L1156.3 653.6L1156.8 655.0L1157.2 656.3L1157.7 657.7L1158.2 659.1L1158.6 660.4L1159.1 661.8L1159.5 663.2L1160.0 664.5L1160.4 665.9L1160.9 667.3L1161.3 668.6L1161.7 670.0L1162.2 671.4L1162.6 672.7L1163.0 674.1L1163.5 675.5L1163.9 676.9L1164.3 678.2L1164.8 679.6L1165.2 681.0L1165.6 682.3L1166.0 683.7L1166.4 685.1L1166.9 686.5L1167.3 687.9L1167.7 689.2L1168.1 690.6L1168.5 692.0L1168.9 693.4L1169.3 694.8L1169.7 696.1L1170.2 697.5L1170.6 698.9L1171.0 700.3L1171.4 701.7L1171.8 703.0L1172.2 704.4L1172.6 705.8L1173.0 707.2L1173.4 708.6L1173.8 710.0L1174.2 711.4L1174.6 712.7L1175.0 714.1L1175.4 715.5L1175.8 716.9L1176.2 718.3L1176.6 719.7L1177.0 721.1L1177.4 722.4L1177.8 723.8L1178.1 725.2L1178.5 726.6L1178.9 728.0L1179.3 729.4L1179.7 730.8L1180.1 732.1L1180.5 733.5L1180.9 734.9L1181.3 736.3L1181.7 737.7L1182.1 739.1L1182.5 740.5L1182.9 741.8L1183.3 743.2L1183.7 744.6L1184.1 746.0L1184.5 747.4L1184.9 748.8L1185.3 750.1L1185.8 751.5L1186.2 752.9L1186.6 754.3L1187.0 755.7L1187.4 757.0L1187.8 758.4L1188.2 759.8L1188.6 761.2L1189.1 762.6L1189.5 763.9L1189.9 765.3L1190.3 766.7L1190.7 768.1L1191.2 769.5L1191.6 770.8L1192.0 772.2L1192.4 773.6L1192.9 774.9L1193.3 776.3L1193.8 777.7L1194.2 779.1L1194.6 780.4L1195.1 781.8L1195.5 783.2L1196.0 784.5L1196.4 785.9L1196.9 787.3L1197.3 788.6L1197.8 790.0L1198.3 791.4L1198.7 792.7L1199.2 794.1L1199.7 795.4L1200.1 796.8L1200.6 798.2L1201.1 799.5L1201.6 800.9L1202.0 802.2L1202.5 803.6L1203.0 804.9L1203.5 806.3L1204.0 807.6L1204.5 809.0L1205.0 810.3L1205.5 811.7L1206.0 813.0L1206.5 814.4L1207.1 815.7L1207.6 817.0L1208.1 818.4L1208.6 819.7L1209.2 821.0L1209.7 822.4L1210.3 823.7L1210.8 825.0L1211.3 826.4L1211.9 827.7L1212.5 829.0L1213.0 830.4L1213.6 831.7L1214.2 833.0L1214.7 834.3L1215.3 835.6L1215.9 837.0L1216.5 838.3L1217.1 839.6L1217.7 840.9L1218.3 842.2L1218.9 843.5L1219.5 844.8L1220.1 846.1L1220.7 847.4L1221.4 848.7L1222.0 850.0L1222.6 851.3L1223.2 852.6L1223.9 853.9L1224.5 855.2L1225.2 856.5L1225.8 857.8L1226.5 859.1L1227.1 860.4L1227.8 861.6L1228.5 862.9L1229.1 864.2L1229.8 865.5L1230.5 866.8L1231.2 868.0L1231.8 869.4L1232.5 870.7L1233.2 872.0L1233.9 873.3L1234.6 874.7L1235.3 876.0L1236.0 877.3L1236.7 878.6L1237.4 879.9L1238.1 881.3L1238.8 882.6L1239.6 883.9L1240.3 885.2L1241.0 886.5L1241.8 887.8L1242.6 889.0L1243.4 890.3L1244.2 891.6L1245.0 892.9L1245.8 894.1L1246.6 895.4L1247.5 896.6L1248.3 897.9L1249.2 899.1L1250.1 900.3L1251.0 901.5L1251.9 902.8L1252.8 904.0L1253.8 905.1L1254.7 906.3L1255.7 907.5L1256.7 908.6L1257.6 909.8L1258.6 910.9L1259.7 912.0L1260.7 913.1L1261.7 914.2L1262.8 915.3L1263.8 916.4L1264.9 917.4L1266.0 918.5L1267.1 919.5L1268.2 920.5L1269.3 921.5L1270.5 922.5L1271.6 923.4L1272.8 924.4L1274.0 925.3L1275.2 926.2L1276.4 927.1L1277.6 928.0L1278.8 928.8L1280.0 929.7L1281.3 930.5L1282.5 931.3L1283.8 932.1L1285.1 932.8L1286.4 933.5L1287.7 934.2L1289.0 934.9L1290.4 935.6L1291.7 936.3L1293.1 936.9L1294.4 937.5L1295.8 938.1L1297.2 938.6L1298.6 939.2L1300.0 939.7L1301.4 940.2L1302.8 940.7L1304.3 941.2L1305.7 941.7L1307.1 942.1L1308.6 942.6L1310.0 943.0L1311.5 943.4L1313.0 943.8L1314.4 944.2L1315.9 944.5L1317.4 944.9L1318.9 945.2L1320.3 945.5L1321.8 945.8L1323.3 946.1L1324.8 946.4L1326.3 946.7L1327.8 946.9L1329.3 947.2L1330.7 947.4L1332.2 947.7L1333.7 947.9L1335.2 948.1L1336.7 948.3L1338.2 948.5L1339.7 948.7L1341.2 948.9L1342.6 949.1L1344.1 949.2L1345.6 949.4L1347.1 949.6L1348.6 949.7L1350.1 949.9L1351.6 950.1L1353.1 950.2L1354.5 950.4L1356.0 950.6L1357.5 950.7L1359.0 950.9L1360.5 951.0L1362.0 951.2L1363.5 951.3L1365.0 951.5L1366.5 951.6L1368.0 951.8L1369.5 951.9L1370.9 952.1L1372.4 952.2L1373.9 952.4L1375.4 952.5L1376.9 952.7L1378.4 952.8L1379.9 953.0L1381.4 953.1L1382.9 953.3L1384.4 953.4L1385.9 953.6L1387.4 953.7L1388.9 953.8L1390.4 954.0L1391.8 954.1L1393.3 954.3L1394.8 954.4L1396.3 954.5L1397.8 954.7L1399.3 954.8L1400.8 954.9L1402.3 955.1L1403.8 955.2L1405.3 955.3L1406.8 955.5L1408.3 955.6L1409.8 955.7L1411.3 955.8L1412.8 956.0L1414.3 956.1L1415.8 956.2L1417.3 956.3L1418.8 956.5L1420.3 956.6L1421.8 956.7L1423.3 956.8L1424.8 957.0L1426.3 957.1L1427.8 957.2L1429.3 957.3L1430.8 957.4L1432.3 957.5L1433.7 957.6L1435.2 957.8L1436.7 957.9L1438.2 958.0L1439.7 958.1L1441.2 958.2L1442.7 958.3L1444.2 958.4L1445.7 958.5L1447.2 958.6L1448.7 958.7L1450.2 958.8L1451.7 958.9L1453.2 959.0L1454.7 959.1L1456.2 959.2L1457.7 959.3L1459.2 959.4L1460.7 959.5L1462.2 959.6L1463.7 959.7L1465.2 959.8L1466.7 959.9L1468.2 960.0L1469.7 960.1L1471.2 960.2L1472.7 960.3L1474.2 960.3L1475.7 960.4L1477.2 960.5L1478.7 960.6L1480.2 960.7L1481.7 960.8L1483.2 960.8L1484.7 960.9L1486.2 961.0L1487.7 961.1L1489.2 961.2L1490.7 961.2L1492.2 961.3L1493.7 961.4L1495.2 961.5L1496.7 961.5L1498.2 961.6L1499.7 961.7L1501.2 961.7L1502.7 961.8L1504.2 961.9L1505.7 962.0L1507.2 962.0L1508.7 962.1L1510.2 962.2L1511.7 962.2L1513.2 962.3L1514.7 962.4L1516.2 962.4L1517.7 962.5L1519.2 962.5L1520.7 962.6L1522.2 962.7L1523.7 962.7L1525.2 962.8L1526.7 962.8L1528.2 962.9L1529.7 962.9L1531.2 963.0L1532.7 963.1L1534.2 963.1L1535.7 963.2L1537.2 963.2L1538.7 963.3L1540.2 963.3L1541.7 963.4L1543.2 963.4L1544.7 963.5L1546.2 963.5L1547.7 963.6L1549.2 963.6L1550.7 963.7L1552.2 963.7L1553.7 963.7L1555.2 963.8L1556.7 963.8L1558.2 963.9L1559.7 963.9L1561.2 964.0L1562.7 964.0L1564.2 964.0L1565.7 964.1L1567.2 964.1L1568.7 964.2L1570.2 964.2L1571.7 964.2L1573.2 964.3L1574.7 964.3L1576.2 964.3L1577.7 964.4L1579.2 964.4L1580.7 964.5L1582.2 964.5L1583.7 964.5L1585.2 964.6L1586.7 964.6L1588.2 964.6L1589.7 964.6L1591.2 964.7L1592.7 964.7L1594.2 964.7L1595.7 964.8L1597.2 964.8L1598.8 964.8L1600.3 964.8L1601.8 964.9L1603.3 964.9L1604.8 964.9L1606.3 965.0L1607.8 965.0L1609.3 965.0L1610.8 965.0L1612.3 965.1L1613.8 965.1L1615.3 965.1L1616.8 965.1L1618.3 965.1L1619.8 965.2L1621.3 965.2L1622.8 965.2L1624.3 965.2L1625.8 965.2L1627.3 965.3L1628.8 965.3L1630.3 965.3L1631.8 965.3L1633.3 965.3L1634.8 965.4L1636.3 965.4L1637.8 965.4L1639.3 965.4L1640.8 965.4L1642.3 965.4L1643.8 965.5L1645.3 965.5L1646.8 965.5L1648.3 965.5L1649.8 965.5L1651.3 965.5L1652.8 965.5L1654.3 965.6L1655.8 965.6L1657.3 965.6L1658.8 965.6L1660.3 965.6L1661.8 965.6L1663.3 965.6L1664.8 965.6L1666.3 965.7L1667.8 965.7L1669.3 965.7L1670.8 965.7L1672.3 965.7L1673.8 965.7L1675.3 965.7L1676.8 965.7L1678.3 965.7L1679.8 965.8L1681.3 965.8L1682.8 965.8L1684.3 965.8L1685.8 965.8L1687.3 965.8L1688.8 965.8L1690.3 965.8L1691.8 965.8L1693.3 965.8L1694.8 965.8L1696.3 965.9L1697.9 965.9L1699.4 965.9L1700.9 965.9L1702.4 965.9L1703.9 965.9L1705.4 965.9L1706.9 965.9L1708.4 965.9L1709.9 965.9L1711.4 965.9L1712.9 965.9L1714.4 965.9L1715.9 965.9L1717.4 966.0L1718.9 966.0L1720.4 966.0L1721.9 966.0L1723.4 966.0L1724.9 966.0L1726.4 966.0L1727.9 966.0L1729.4 966.0L1730.9 966.0L1732.4 966.0L1733.9 966.0L1735.4 966.0L1736.9 966.0L1738.4 966.1L1739.9 966.1L1741.4 966.1L1742.9 966.1L1744.4 966.1L1745.9 966.1L1747.4 966.1L1748.9 966.1L1750.4 966.1L1751.9 966.1L1753.4 966.1L1754.9 966.1L1756.4 966.1L1757.9 966.2L1759.4 966.2L1760.9 966.2L1762.4 966.2L1763.9 966.2L1765.4 966.2L1766.9 966.2L1768.4 966.2L1769.9 966.2L1771.4 966.2L1772.9 966.2L1774.4 966.3L1775.9 966.3L1777.4 966.3L1778.9 966.3L1780.4 966.3L1781.9 966.3L1783.4 966.3L1784.9 966.3L1786.4 966.3L1787.9 966.4L1789.4 966.4L1791.0 966.4L1792.5 966.4L1794.0 966.4L1795.5 966.4L1797.0 966.4L1798.5 966.4L1800.0 966.5L1801.5 966.5L1803.0 966.5L1804.5 966.5L1806.0 966.5L1807.5 966.5L1809.0 966.5L1810.5 966.6L1812.0 966.6L1813.5 966.6L1815.0 966.6L1816.5 966.6L1818.0 966.6L1819.5 966.7L1821.0 966.7L1822.5 966.7L1824.0 966.7L1825.5 966.7L1827.0 966.8L1828.5 966.8L1830.0 966.8L1831.5 966.8L1833.0 966.8L1834.5 966.9L1836.0 966.9L1837.5 966.9L1839.0 966.9L1840.5 967.0L1842.0 967.0L1843.5 967.0L1845.0 967.0" fill="none" stroke="#000" stroke-width="5.2" stroke-dasharray="5.3 5.34" stroke-linejoin="round"/>
<rect x="325" y="128" width="7.6" height="848"/>
<rect x="329" y="972.4" width="1515" height="7.4"/>
<text transform="translate(262.6 154.3) scale(1 1.025)" text-anchor="end">0.3</text><text transform="translate(262.6 295.6) scale(1 1.025)" text-anchor="end">0.25</text><text transform="translate(262.6 436.9) scale(1 1.025)" text-anchor="end">0.2</text><text transform="translate(262.6 578.2) scale(1 1.025)" text-anchor="end">0.15</text><text transform="translate(262.6 719.5) scale(1 1.025)" text-anchor="end">0.1</text><text transform="translate(262.6 860.8) scale(1 1.025)" text-anchor="end">0.05</text><text transform="translate(262.6 1002.1) scale(1 1.025)" text-anchor="end">0</text>
<text transform="translate(328.8 1093.6) scale(1 1.025)" text-anchor="middle">350</text><text transform="translate(761.3 1093.6) scale(1 1.025)" text-anchor="middle">450</text><text transform="translate(1193.8 1093.6) scale(1 1.025)" text-anchor="middle">550</text><text transform="translate(1626.3 1093.6) scale(1 1.025)" text-anchor="middle">650</text>
<text transform="translate(791.5 1193.3) scale(1 1.025)">Wavelength (nm)</text>
<text transform="translate(82.6 758.5) rotate(-90)" letter-spacing="-0.45">Absorbance</text>
<line x1="1392" y1="127.7" x2="1494" y2="127.7" stroke="#000" stroke-width="5.8"/>
<line x1="1392" y1="209.6" x2="1494" y2="209.6" stroke="#000" stroke-width="5.6" stroke-dasharray="16.3 5.6"/>
<line x1="1392" y1="290.0" x2="1488" y2="290.0" stroke="#000" stroke-width="5.5" stroke-dasharray="5.6 5.56"/>
<text transform="translate(1502.4 154.0) scale(1 1.025)">Free THP</text>
<text transform="translate(1502.4 234.3) scale(1 1.025)">HSA-THP2</text>
<text transform="translate(1502.4 314.2) scale(1 1.025)">HSA-THP4</text>
<!-- panel b -->
<text x="365.5" y="1405.9" font-size="95">(b)</text>
<path d="M348.9 2312.6L350.5 2312.6L352.0 2312.5L353.5 2312.5L355.0 2312.4L356.5 2312.3L358.1 2312.3L359.6 2312.2L361.1 2312.1L362.6 2312.1L364.1 2312.0L365.6 2311.9L367.1 2311.9L368.6 2311.8L370.2 2311.7L371.7 2311.7L373.2 2311.6L374.7 2311.5L376.2 2311.4L377.7 2311.4L379.2 2311.3L380.7 2311.2L382.2 2311.2L383.7 2311.1L385.2 2311.0L386.7 2310.9L388.2 2310.9L389.7 2310.8L391.1 2310.7L392.6 2310.6L394.1 2310.5L395.6 2310.5L397.1 2310.4L398.6 2310.3L400.1 2310.2L401.6 2310.1L403.1 2310.0L404.6 2309.9L406.1 2309.8L407.6 2309.7L409.0 2309.6L410.5 2309.5L412.0 2309.4L413.5 2309.3L415.0 2309.2L416.5 2309.1L418.0 2309.0L419.5 2308.9L420.9 2308.8L422.4 2308.7L423.9 2308.6L425.4 2308.5L426.9 2308.3L428.4 2308.2L429.9 2308.1L431.4 2308.0L432.9 2307.8L434.3 2307.7L435.8 2307.6L437.3 2307.4L438.8 2307.3L440.3 2307.2L441.8 2307.0L443.3 2306.9L444.8 2306.7L446.3 2306.6L447.8 2306.4L449.3 2306.2L450.8 2306.1L452.2 2305.9L453.7 2305.7L455.2 2305.6L456.7 2305.4L458.2 2305.2L459.7 2305.0L461.2 2304.8L462.7 2304.7L464.2 2304.5L465.7 2304.3L467.2 2304.1L468.7 2303.9L470.2 2303.7L471.8 2303.4L473.3 2303.2L474.8 2303.0L476.3 2302.8L477.8 2302.5L479.3 2302.3L480.8 2302.1L482.3 2301.8L483.8 2301.5L485.3 2301.3L486.8 2301.0L488.3 2300.7L489.7 2300.4L491.2 2300.1L492.7 2299.8L494.2 2299.5L495.7 2299.2L497.2 2298.8L498.6 2298.5L500.1 2298.1L501.6 2297.8L503.0 2297.4L504.5 2297.0L505.9 2296.6L507.4 2296.2L508.8 2295.7L510.2 2295.3L511.7 2294.8L513.1 2294.4L514.5 2293.9L515.9 2293.4L517.3 2292.9L518.7 2292.4L520.1 2291.8L521.5 2291.3L522.9 2290.7L524.2 2290.1L525.6 2289.5L527.0 2288.9L528.3 2288.3L529.6 2287.6L531.0 2287.0L532.3 2286.3L533.6 2285.6L534.9 2284.9L536.2 2284.1L537.5 2283.4L538.7 2282.6L540.0 2281.8L541.3 2281.0L542.5 2280.2L543.7 2279.4L545.0 2278.5L546.2 2277.7L547.4 2276.8L548.6 2275.9L549.8 2275.0L551.0 2274.1L552.1 2273.1L553.3 2272.2L554.4 2271.2L555.6 2270.2L556.7 2269.3L557.8 2268.3L558.9 2267.2L560.0 2266.2L561.1 2265.2L562.2 2264.1L563.3 2263.1L564.3 2262.0L565.4 2260.9L566.4 2259.8L567.4 2258.7L568.4 2257.6L569.5 2256.5L570.4 2255.3L571.4 2254.2L572.4 2253.0L573.4 2251.9L574.3 2250.7L575.3 2249.5L576.2 2248.3L577.1 2247.1L578.0 2245.9L578.9 2244.7L579.8 2243.5L580.7 2242.3L581.6 2241.1L582.4 2239.8L583.3 2238.6L584.1 2237.3L585.0 2236.1L585.8 2234.8L586.6 2233.6L587.4 2232.3L588.2 2231.0L589.0 2229.7L589.8 2228.4L590.6 2227.1L591.4 2225.9L592.1 2224.6L592.9 2223.3L593.7 2222.0L594.4 2220.7L595.2 2219.3L595.9 2218.0L596.6 2216.7L597.4 2215.4L598.1 2214.1L598.8 2212.8L599.5 2211.4L600.2 2210.1L600.9 2208.8L601.6 2207.5L602.3 2206.1L603.0 2204.8L603.7 2203.5L604.4 2202.1L605.1 2200.8L605.8 2199.5L606.4 2198.1L607.1 2196.8L607.8 2195.4L608.4 2194.1L609.1 2192.7L609.7 2191.4L610.4 2190.0L611.0 2188.7L611.7 2187.3L612.3 2186.0L612.9 2184.6L613.5 2183.2L614.2 2181.9L614.8 2180.5L615.4 2179.1L616.0 2177.8L616.6 2176.4L617.2 2175.0L617.8 2173.7L618.4 2172.3L619.0 2170.9L619.6 2169.5L620.2 2168.1L620.8 2166.8L621.4 2165.4L622.0 2164.0L622.6 2162.6L623.1 2161.2L623.7 2159.9L624.3 2158.5L624.9 2157.1L625.4 2155.7L626.0 2154.3L626.6 2152.9L627.1 2151.5L627.7 2150.1L628.2 2148.7L628.8 2147.3L629.3 2145.9L629.9 2144.5L630.4 2143.1L631.0 2141.8L631.5 2140.4L632.1 2139.0L632.6 2137.6L633.1 2136.2L633.7 2134.7L634.2 2133.3L634.8 2131.9L635.3 2130.5L635.8 2129.1L636.3 2127.7L636.9 2126.3L637.4 2124.9L637.9 2123.5L638.5 2122.1L639.0 2120.7L639.5 2119.3L640.0 2117.9L640.5 2116.5L641.1 2115.1L641.6 2113.7L642.1 2112.2L642.6 2110.8L643.1 2109.4L643.6 2108.0L644.2 2106.6L644.7 2105.2L645.2 2103.8L645.7 2102.4L646.2 2100.9L646.7 2099.5L647.2 2098.1L647.7 2096.7L648.2 2095.3L648.7 2093.9L649.2 2092.4L649.7 2091.0L650.2 2089.6L650.7 2088.2L651.2 2086.8L651.7 2085.3L652.1 2083.9L652.6 2082.5L653.1 2081.1L653.6 2079.6L654.1 2078.2L654.6 2076.8L655.0 2075.4L655.5 2074.0L656.0 2072.5L656.5 2071.1L656.9 2069.7L657.4 2068.2L657.9 2066.8L658.4 2065.4L658.8 2064.0L659.3 2062.5L659.8 2061.1L660.2 2059.7L660.7 2058.2L661.1 2056.8L661.6 2055.4L662.1 2054.0L662.5 2052.5L663.0 2051.1L663.4 2049.7L663.9 2048.2L664.3 2046.8L664.8 2045.3L665.2 2043.9L665.6 2042.5L666.1 2041.0L666.5 2039.6L667.0 2038.2L667.4 2036.7L667.8 2035.3L668.3 2033.9L668.7 2032.4L669.1 2031.0L669.6 2029.5L670.0 2028.1L670.5 2026.7L670.9 2025.2L671.3 2023.8L671.8 2022.4L672.2 2020.9L672.6 2019.5L673.1 2018.0L673.5 2016.6L674.0 2015.2L674.4 2013.7L674.8 2012.3L675.3 2010.9L675.7 2009.4L676.2 2008.0L676.6 2006.6L677.1 2005.1L677.5 2003.7L678.0 2002.3L678.4 2000.8L678.9 1999.4L679.3 1998.0L679.8 1996.6L680.2 1995.1L680.7 1993.7L681.2 1992.3L681.6 1990.9L682.1 1989.4L682.6 1988.0L683.1 1986.6L683.6 1985.2L684.0 1983.8L684.5 1982.3L685.0 1980.9L685.5 1979.5L686.0 1978.1L686.5 1976.7L687.0 1975.3L687.5 1973.9L688.1 1972.5L688.6 1971.0L689.1 1969.6L689.6 1968.2L690.2 1966.8L690.7 1965.4L691.2 1964.0L691.8 1962.6L692.3 1961.3L692.9 1959.9L693.5 1958.5L694.0 1957.1L694.6 1955.7L695.2 1954.3L695.8 1952.9L696.4 1951.6L697.0 1950.2L697.6 1948.8L698.2 1947.4L698.8 1946.1L699.4 1944.7L700.1 1943.3L700.7 1942.0L701.3 1940.6L702.0 1939.2L702.6 1937.9L703.3 1936.5L704.0 1935.2L704.6 1933.8L705.3 1932.5L706.0 1931.1L706.7 1929.8L707.4 1928.4L708.1 1927.1L708.8 1925.8L709.5 1924.4L710.2 1923.1L710.9 1921.8L711.6 1920.4L712.3 1919.1L713.0 1917.8L713.8 1916.5L714.5 1915.2L715.2 1913.8L716.0 1912.5L716.7 1911.2L717.5 1909.9L718.2 1908.6L718.9 1907.3L719.7 1906.0L720.4 1904.7L721.2 1903.4L722.0 1902.1L722.7 1900.8L723.5 1899.5L724.2 1898.2L725.0 1896.9L725.7 1895.6L726.5 1894.4L727.3 1893.1L728.0 1891.8L728.8 1890.5L729.5 1889.2L730.3 1888.0L731.1 1886.7L731.9 1885.4L732.6 1884.2L733.4 1882.9L734.2 1881.6L735.0 1880.4L735.8 1879.1L736.6 1877.9L737.5 1876.6L738.3 1875.4L739.1 1874.2L740.0 1872.9L740.9 1871.7L741.8 1870.5L742.7 1869.3L743.6 1868.1L744.5 1866.9L745.4 1865.7L746.4 1864.5L747.4 1863.3L748.3 1862.2L749.3 1861.0L750.3 1859.8L751.3 1858.7L752.4 1857.6L753.4 1856.5L754.5 1855.4L755.5 1854.3L756.6 1853.2L757.7 1852.1L758.8 1851.1L759.9 1850.0L761.0 1849.0L762.1 1848.0L763.3 1847.0L764.5 1846.0L765.6 1845.1L766.8 1844.1L768.0 1843.2L769.2 1842.3L770.4 1841.4L771.6 1840.5L772.9 1839.7L774.1 1838.9L775.4 1838.1L776.7 1837.3L777.9 1836.5L779.2 1835.8L780.5 1835.1L781.8 1834.4L783.2 1833.7L784.5 1833.0L785.8 1832.4L787.2 1831.8L788.6 1831.3L789.9 1830.7L791.3 1830.2L792.7 1829.7L794.1 1829.2L795.5 1828.8L797.0 1828.4L798.4 1828.0L799.8 1827.6L801.3 1827.3L802.7 1826.9L804.2 1826.6L805.6 1826.3L807.1 1826.1L808.6 1825.8L810.1 1825.5L811.6 1825.3L813.1 1825.1L814.5 1824.9L816.0 1824.7L817.6 1824.5L819.1 1824.3L820.6 1824.1L822.1 1823.9L823.6 1823.8L825.1 1823.6L826.6 1823.4L828.1 1823.3L829.6 1823.1L831.1 1822.9L832.7 1822.8L834.2 1822.6L835.7 1822.4L837.2 1822.2L838.7 1822.0L840.2 1821.8L841.7 1821.6L843.2 1821.4L844.7 1821.2L846.2 1821.0L847.7 1820.7L849.1 1820.4L850.6 1820.2L852.1 1819.9L853.5 1819.5L855.0 1819.2L856.4 1818.9L857.9 1818.5L859.3 1818.1L860.7 1817.7L862.1 1817.2L863.6 1816.8L865.0 1816.3L866.3 1815.7L867.7 1815.2L869.1 1814.6L870.4 1814.0L871.8 1813.4L873.1 1812.7L874.4 1812.0L875.7 1811.3L877.1 1810.6L878.3 1809.8L879.6 1809.1L880.9 1808.3L882.1 1807.4L883.4 1806.6L884.6 1805.7L885.8 1804.8L887.0 1803.9L888.2 1803.0L889.4 1802.1L890.6 1801.1L891.8 1800.1L892.9 1799.2L894.0 1798.1L895.2 1797.1L896.3 1796.1L897.4 1795.0L898.4 1794.0L899.5 1792.9L900.6 1791.8L901.6 1790.7L902.6 1789.6L903.6 1788.5L904.6 1787.4L905.6 1786.2L906.6 1785.1L907.6 1783.9L908.5 1782.8L909.4 1781.6L910.4 1780.4L911.3 1779.2L912.2 1778.0L913.1 1776.8L913.9 1775.6L914.8 1774.4L915.7 1773.2L916.5 1771.9L917.3 1770.7L918.2 1769.5L919.0 1768.2L919.8 1766.9L920.6 1765.7L921.4 1764.4L922.2 1763.1L922.9 1761.9L923.7 1760.6L924.5 1759.3L925.2 1758.0L926.0 1756.7L926.7 1755.4L927.4 1754.1L928.2 1752.8L928.9 1751.5L929.6 1750.2L930.3 1748.8L931.0 1747.5L931.8 1746.2L932.5 1744.9L933.2 1743.5L933.8 1742.2L934.5 1740.9L935.2 1739.5L935.9 1738.2L936.6 1736.9L937.3 1735.5L938.0 1734.2L938.7 1732.8L939.3 1731.5L940.0 1730.2L940.7 1728.8L941.4 1727.5L942.0 1726.1L942.7 1724.8L943.4 1723.4L944.1 1722.1L944.7 1720.7L945.4 1719.4L946.1 1718.0L946.7 1716.7L947.4 1715.3L948.1 1714.0L948.7 1712.6L949.4 1711.3L950.1 1709.9L950.7 1708.6L951.4 1707.2L952.0 1705.9L952.7 1704.5L953.4 1703.2L954.0 1701.8L954.7 1700.5L955.4 1699.1L956.0 1697.8L956.7 1696.4L957.4 1695.1L958.0 1693.7L958.7 1692.4L959.3 1691.0L960.0 1689.7L960.7 1688.3L961.3 1687.0L962.0 1685.6L962.7 1684.3L963.3 1682.9L964.0 1681.6L964.7 1680.2L965.4 1678.9L966.0 1677.6L966.7 1676.2L967.4 1674.9L968.1 1673.5L968.7 1672.2L969.4 1670.9L970.1 1669.5L970.8 1668.2L971.5 1666.8L972.2 1665.5L972.8 1664.2L973.5 1662.8L974.2 1661.5L974.9 1660.2L975.6 1658.9L976.3 1657.5L977.0 1656.2L977.7 1654.9L978.4 1653.6L979.1 1652.2L979.8 1650.9L980.5 1649.6L981.3 1648.3L982.0 1647.0L982.7 1645.7L983.4 1644.4L984.1 1643.1L984.9 1641.8L985.6 1640.5L986.3 1639.2L987.1 1637.9L987.8 1636.6L988.6 1635.3L989.3 1634.0L990.1 1632.7L990.8 1631.4L991.6 1630.1L992.3 1628.8L993.1 1627.5L993.9 1626.3L994.6 1625.0L995.4 1623.7L996.2 1622.4L997.0 1621.1L997.8 1619.9L998.6 1618.6L999.4 1617.3L1000.2 1616.1L1001.0 1614.8L1001.8 1613.5L1002.6 1612.3L1003.4 1611.0L1004.3 1609.8L1005.1 1608.5L1006.0 1607.3L1006.8 1606.0L1007.6 1604.8L1008.5 1603.5L1009.4 1602.3L1010.2 1601.0L1011.1 1599.8L1012.0 1598.6L1012.9 1597.3L1013.8 1596.1L1014.6 1594.9L1015.5 1593.6L1016.5 1592.4L1017.4 1591.2L1018.3 1590.0L1019.2 1588.8L1020.2 1587.6L1021.1 1586.4L1022.1 1585.3L1023.1 1584.1L1024.1 1583.0L1025.1 1581.9L1026.2 1580.8L1027.2 1579.7L1028.3 1578.7L1029.4 1577.7L1030.5 1576.7L1031.6 1575.7L1032.8 1574.8L1034.0 1573.9L1035.2 1573.1L1036.4 1572.3L1037.7 1571.5L1038.9 1570.8L1040.3 1570.1L1041.6 1569.4L1042.9 1568.8L1044.3 1568.2L1045.7 1567.7L1047.1 1567.2L1048.6 1566.8L1050.0 1566.4L1051.5 1566.1L1052.9 1565.8L1054.4 1565.6L1055.9 1565.4L1057.4 1565.3L1058.8 1565.2L1060.3 1565.2L1061.8 1565.3L1063.3 1565.4L1064.8 1565.5L1066.2 1565.7L1067.7 1566.0L1069.2 1566.3L1070.6 1566.6L1072.1 1567.0L1073.5 1567.5L1074.9 1568.0L1076.3 1568.5L1077.6 1569.1L1079.0 1569.7L1080.3 1570.4L1081.6 1571.1L1082.9 1571.8L1084.2 1572.6L1085.4 1573.4L1086.6 1574.2L1087.8 1575.1L1089.0 1576.0L1090.1 1576.9L1091.3 1577.9L1092.4 1578.9L1093.5 1579.9L1094.6 1580.9L1095.6 1582.0L1096.7 1583.0L1097.7 1584.1L1098.8 1585.3L1099.8 1586.4L1100.8 1587.5L1101.8 1588.7L1102.7 1589.9L1103.7 1591.0L1104.7 1592.2L1105.6 1593.4L1106.6 1594.6L1107.5 1595.8L1108.4 1597.1L1109.4 1598.3L1110.3 1599.5L1111.2 1600.7L1112.1 1601.9L1113.0 1603.1L1113.9 1604.3L1114.8 1605.5L1115.7 1606.8L1116.6 1608.0L1117.5 1609.2L1118.4 1610.4L1119.3 1611.6L1120.2 1612.8L1121.1 1614.0L1122.0 1615.2L1122.8 1616.4L1123.7 1617.6L1124.6 1618.9L1125.5 1620.1L1126.3 1621.3L1127.2 1622.5L1128.1 1623.7L1128.9 1624.9L1129.8 1626.1L1130.6 1627.3L1131.5 1628.6L1132.4 1629.8L1133.2 1631.0L1134.1 1632.2L1134.9 1633.4L1135.8 1634.7L1136.6 1635.9L1137.5 1637.1L1138.3 1638.3L1139.2 1639.6L1140.0 1640.8L1140.9 1642.0L1141.7 1643.2L1142.5 1644.5L1143.4 1645.7L1144.2 1647.0L1145.1 1648.2L1145.9 1649.4L1146.8 1650.7L1147.6 1651.9L1148.4 1653.2L1149.3 1654.4L1150.1 1655.7L1151.0 1656.9L1151.8 1658.1L1152.6 1659.4L1153.5 1660.6L1154.3 1661.9L1155.2 1663.1L1156.0 1664.4L1156.8 1665.7L1157.7 1666.9L1158.5 1668.2L1159.3 1669.4L1160.2 1670.7L1161.0 1671.9L1161.8 1673.2L1162.6 1674.4L1163.5 1675.7L1164.3 1677.0L1165.1 1678.2L1166.0 1679.5L1166.8 1680.7L1167.6 1682.0L1168.4 1683.2L1169.3 1684.5L1170.1 1685.8L1170.9 1687.0L1171.7 1688.3L1172.6 1689.5L1173.4 1690.8L1174.2 1692.1L1175.0 1693.3L1175.9 1694.6L1176.7 1695.8L1177.5 1697.1L1178.3 1698.3L1179.2 1699.6L1180.0 1700.8L1180.8 1702.1L1181.7 1703.3L1182.5 1704.6L1183.3 1705.8L1184.2 1707.1L1185.0 1708.3L1185.8 1709.5L1186.7 1710.8L1187.5 1712.0L1188.4 1713.2L1189.2 1714.5L1190.1 1715.7L1190.9 1716.9L1191.8 1718.2L1192.7 1719.4L1193.5 1720.6L1194.4 1721.8L1195.3 1723.0L1196.2 1724.2L1197.1 1725.4L1198.0 1726.6L1198.9 1727.8L1199.8 1729.0L1200.7 1730.2L1201.6 1731.4L1202.5 1732.6L1203.4 1733.8L1204.4 1734.9L1205.3 1736.1L1206.3 1737.3L1207.2 1738.4L1208.2 1739.6L1209.1 1740.7L1210.1 1741.9L1211.1 1743.0L1212.1 1744.1L1213.1 1745.3L1214.1 1746.4L1215.1 1747.5L1216.1 1748.6L1217.1 1749.7L1218.2 1750.8L1219.2 1751.9L1220.3 1752.9L1221.3 1754.0L1222.4 1755.1L1223.4 1756.1L1224.5 1757.2L1225.6 1758.2L1226.7 1759.2L1227.8 1760.2L1228.9 1761.3L1230.1 1762.2L1231.2 1763.2L1232.3 1764.2L1233.5 1765.2L1234.6 1766.1L1235.8 1767.1L1237.0 1768.0L1238.1 1768.9L1239.3 1769.8L1240.5 1770.7L1241.7 1771.6L1243.0 1772.5L1244.2 1773.3L1245.4 1774.2L1246.7 1775.0L1247.9 1775.8L1249.2 1776.6L1250.5 1777.4L1251.8 1778.2L1253.1 1778.9L1254.4 1779.7L1255.7 1780.4L1257.0 1781.2L1258.3 1781.9L1259.6 1782.6L1261.0 1783.3L1262.3 1784.0L1263.7 1784.6L1265.0 1785.3L1266.4 1785.9L1267.7 1786.6L1269.1 1787.2L1270.5 1787.8L1271.8 1788.4L1273.2 1789.0L1274.6 1789.6L1276.0 1790.2L1277.3 1790.8L1278.7 1791.4L1280.1 1791.9L1281.5 1792.4L1282.9 1793.0L1284.3 1793.5L1285.7 1794.0L1287.1 1794.5L1288.6 1794.9L1290.0 1795.4L1291.4 1795.8L1292.8 1796.3L1294.3 1796.7L1295.7 1797.1L1297.1 1797.5L1298.6 1797.9L1300.0 1798.2L1301.5 1798.6L1302.9 1799.0L1304.4 1799.3L1305.9 1799.6L1307.3 1800.0L1308.8 1800.3L1310.2 1800.6L1311.7 1800.9L1313.2 1801.3L1314.6 1801.6L1316.1 1801.9L1317.6 1802.2L1319.1 1802.5L1320.5 1802.8L1322.0 1803.1L1323.5 1803.4L1324.9 1803.7L1326.4 1804.1L1327.9 1804.4L1329.3 1804.7L1330.8 1805.0L1332.3 1805.4L1333.7 1805.7L1335.2 1806.0L1336.7 1806.4L1338.1 1806.8L1339.6 1807.1L1341.0 1807.5L1342.5 1807.9L1343.9 1808.3L1345.4 1808.7L1346.8 1809.1L1348.2 1809.5L1349.7 1810.0L1351.1 1810.4L1352.6 1810.9L1354.0 1811.3L1355.4 1811.8L1356.9 1812.2L1358.3 1812.7L1359.7 1813.2L1361.1 1813.6L1362.6 1814.1L1364.0 1814.6L1365.4 1815.1L1366.8 1815.5L1368.3 1816.0L1369.7 1816.5L1371.1 1817.0L1372.5 1817.5L1374.0 1818.0L1375.4 1818.5L1376.8 1819.0L1378.2 1819.5L1379.6 1820.0L1381.0 1820.5L1382.4 1821.1L1383.8 1821.6L1385.2 1822.1L1386.6 1822.7L1388.0 1823.3L1389.4 1823.8L1390.8 1824.4L1392.2 1825.0L1393.5 1825.6L1394.9 1826.2L1396.2 1826.8L1397.6 1827.4L1398.9 1828.1L1400.3 1828.7L1401.6 1829.4L1402.9 1830.1L1404.3 1830.8L1405.6 1831.5L1406.9 1832.2L1408.2 1832.9L1409.5 1833.7L1410.8 1834.4L1412.0 1835.2L1413.3 1836.0L1414.6 1836.7L1415.9 1837.5L1417.1 1838.3L1418.4 1839.2L1419.6 1840.0L1420.9 1840.8L1422.1 1841.7L1423.3 1842.5L1424.5 1843.4L1425.8 1844.2L1427.0 1845.1L1428.2 1846.0L1429.4 1846.9L1430.6 1847.8L1431.8 1848.7L1433.0 1849.6L1434.2 1850.5L1435.4 1851.4L1436.6 1852.3L1437.8 1853.2L1439.0 1854.2L1440.2 1855.1L1441.4 1856.0L1442.6 1856.9L1443.7 1857.9L1444.9 1858.8L1446.1 1859.7L1447.3 1860.7L1448.5 1861.6L1449.7 1862.5L1450.8 1863.4L1452.0 1864.4L1453.2 1865.3L1454.4 1866.2L1455.6 1867.1L1456.8 1868.0L1458.0 1869.0L1459.2 1869.9L1460.4 1870.8L1461.5 1871.7L1462.7 1872.6L1463.9 1873.6L1465.1 1874.5L1466.2 1875.4L1467.4 1876.4L1468.5 1877.3L1469.7 1878.3L1470.8 1879.3L1471.9 1880.3L1473.0 1881.3L1474.1 1882.3L1475.2 1883.3L1476.3 1884.3L1477.3 1885.4L1478.4 1886.4L1479.4 1887.5L1480.4 1888.6L1481.4 1889.7L1482.4 1890.8L1483.4 1891.9L1484.4 1893.0L1485.4 1894.1L1486.4 1895.3L1487.3 1896.4L1488.3 1897.6L1489.3 1898.7L1490.2 1899.9L1491.2 1901.0L1492.1 1902.2L1493.1 1903.3L1494.1 1904.5L1495.0 1905.6L1496.0 1906.7L1497.0 1907.9L1498.0 1909.0L1499.0 1910.1L1499.9 1911.3L1500.9 1912.4L1501.9 1913.5L1502.9 1914.7L1503.9 1915.8L1504.9 1916.9L1505.9 1918.1L1506.9 1919.2L1507.8 1920.3L1508.8 1921.5L1509.8 1922.6L1510.8 1923.8L1511.7 1924.9L1512.7 1926.1L1513.7 1927.2L1514.6 1928.4L1515.6 1929.5L1516.6 1930.7L1517.5 1931.8L1518.5 1933.0L1519.4 1934.1L1520.4 1935.3L1521.3 1936.4L1522.3 1937.6L1523.2 1938.8L1524.2 1939.9L1525.1 1941.1L1526.1 1942.2L1527.1 1943.4L1528.0 1944.5L1529.0 1945.7L1529.9 1946.9L1530.9 1948.0L1531.9 1949.2L1532.8 1950.3L1533.8 1951.5L1534.8 1952.6L1535.7 1953.7L1536.7 1954.9L1537.7 1956.0L1538.7 1957.2L1539.6 1958.3L1540.6 1959.5L1541.6 1960.6L1542.6 1961.7L1543.6 1962.9L1544.5 1964.0L1545.5 1965.1L1546.5 1966.3L1547.5 1967.4L1548.5 1968.5L1549.5 1969.7L1550.5 1970.8L1551.5 1971.9L1552.5 1973.0L1553.5 1974.2L1554.5 1975.3L1555.5 1976.4L1556.5 1977.5L1557.5 1978.6L1558.5 1979.7L1559.5 1980.8L1560.5 1982.0L1561.5 1983.1L1562.5 1984.2L1563.6 1985.3L1564.6 1986.4L1565.6 1987.5L1566.6 1988.6L1567.7 1989.7L1568.7 1990.8L1569.7 1991.9L1570.7 1993.0L1571.8 1994.1L1572.8 1995.1L1573.8 1996.2L1574.9 1997.3L1575.9 1998.4L1577.0 1999.5L1578.0 2000.6L1579.0 2001.6L1580.1 2002.7L1581.1 2003.8L1582.2 2004.8L1583.3 2005.9L1584.3 2007.0L1585.4 2008.0L1586.4 2009.1L1587.5 2010.2L1588.5 2011.2L1589.6 2012.3L1590.7 2013.3L1591.8 2014.4L1592.8 2015.4L1593.9 2016.5L1595.0 2017.5L1596.1 2018.6L1597.1 2019.6L1598.2 2020.6L1599.3 2021.7L1600.4 2022.7L1601.5 2023.7L1602.6 2024.8L1603.7 2025.8L1604.8 2026.8L1605.9 2027.8L1607.0 2028.9L1608.1 2029.9L1609.2 2030.9L1610.3 2031.9L1611.4 2032.9L1612.5 2033.9L1613.6 2034.9L1614.7 2035.9L1615.9 2036.9L1617.0 2037.9L1618.1 2038.9L1619.2 2039.9L1620.4 2040.9L1621.5 2041.9L1622.6 2042.9L1623.8 2043.8L1624.9 2044.8L1626.0 2045.8L1627.2 2046.8L1628.3 2047.7L1629.5 2048.7L1630.6 2049.7L1631.8 2050.6L1633.0 2051.6L1634.1 2052.5L1635.3 2053.5L1636.4 2054.4L1637.6 2055.4L1638.8 2056.3L1639.9 2057.3L1641.1 2058.2L1642.3 2059.1L1643.5 2060.1L1644.7 2061.0L1645.8 2061.9L1647.0 2062.8L1648.2 2063.8L1649.4 2064.7L1650.6 2065.6L1651.8 2066.5L1653.0 2067.4L1654.2 2068.3L1655.4 2069.2L1656.6 2070.1L1657.9 2070.9L1659.1 2071.8L1660.3 2072.7L1661.5 2073.6L1662.7 2074.4L1664.0 2075.3L1665.2 2076.2L1666.4 2077.0L1667.7 2077.9L1668.9 2078.7L1670.2 2079.5L1671.4 2080.4L1672.7 2081.2L1673.9 2082.0L1675.2 2082.8L1676.4 2083.7L1677.7 2084.5L1679.0 2085.3L1680.2 2086.1L1681.5 2086.8L1682.8 2087.6L1684.1 2088.4L1685.4 2089.2L1686.6 2089.9L1687.9 2090.7L1689.2 2091.5L1690.5 2092.2L1691.8 2093.0L1693.1 2093.7L1694.4 2094.4L1695.7 2095.2L1697.1 2095.9L1698.4 2096.6L1699.7 2097.3L1701.0 2098.1L1702.3 2098.8L1703.6 2099.5L1705.0 2100.2L1706.3 2100.9L1707.6 2101.6L1708.9 2102.3L1710.3 2103.0L1711.6 2103.7L1712.9 2104.4L1714.2 2105.1L1715.6 2105.8L1716.9 2106.5L1718.2 2107.2L1719.6 2107.9L1720.9 2108.6L1722.2 2109.3L1723.6 2110.0L1724.9 2110.6L1726.2 2111.3L1727.6 2112.0L1728.9 2112.7L1730.3 2113.4L1731.6 2114.0L1732.9 2114.7L1734.3 2115.3L1735.7 2116.0L1737.0 2116.6L1738.4 2117.2L1739.7 2117.9L1741.1 2118.5L1742.5 2119.1L1743.8 2119.7L1745.2 2120.3L1746.6 2120.9L1748.0 2121.5L1749.4 2122.0L1750.7 2122.6L1752.1 2123.2L1753.5 2123.7L1754.9 2124.3L1756.3 2124.8L1757.7 2125.4L1759.1 2125.9L1760.5 2126.4L1761.9 2127.0L1763.3 2127.5L1764.7 2128.0L1766.1 2128.5L1767.5 2129.0L1769.0 2129.5L1770.4 2130.1L1771.8 2130.6L1773.2 2131.0L1774.6 2131.5L1776.0 2132.0L1777.5 2132.5L1778.9 2133.0L1780.3 2133.5L1781.7 2134.0L1783.2 2134.4L1784.6 2134.9L1786.0 2135.4L1787.4 2135.8L1788.9 2136.3L1790.3 2136.8L1791.7 2137.2L1793.2 2137.7L1794.6 2138.2L1796.0 2138.6L1797.5 2139.1L1798.9 2139.5L1800.3 2140.0L1801.8 2140.4L1803.2 2140.9L1804.6 2141.4L1806.1 2141.8L1807.5 2142.3L1808.9 2142.7L1810.4 2143.2L1811.8 2143.6L1813.2 2144.1L1814.7 2144.5L1816.1 2145.0L1817.5 2145.4L1819.0 2145.9L1820.4 2146.4L1821.8 2146.8L1823.2 2147.3L1824.7 2147.7L1826.1 2148.2L1827.5 2148.7L1828.9 2149.2L1830.4 2149.6L1831.8 2150.1L1833.2 2150.6L1834.6 2151.1L1836.1 2151.5L1837.5 2152.0L1838.9 2152.5L1840.3 2153.0L1841.7 2153.5L1843.1 2154.0" fill="none" stroke="#000" stroke-width="5.4" stroke-linejoin="round"/>
<path d="M348.9 2312.7L350.5 2312.6L352.0 2312.6L353.5 2312.5L355.0 2312.5L356.5 2312.4L358.1 2312.3L359.6 2312.3L361.1 2312.2L362.6 2312.2L364.1 2312.1L365.6 2312.0L367.1 2312.0L368.6 2311.9L370.2 2311.9L371.7 2311.8L373.2 2311.7L374.7 2311.7L376.2 2311.6L377.7 2311.6L379.2 2311.5L380.7 2311.4L382.2 2311.4L383.7 2311.3L385.2 2311.2L386.7 2311.2L388.2 2311.1L389.7 2311.0L391.1 2311.0L392.6 2310.9L394.1 2310.8L395.6 2310.7L397.1 2310.7L398.6 2310.6L400.1 2310.5L401.6 2310.4L403.1 2310.4L404.6 2310.3L406.1 2310.2L407.6 2310.1L409.0 2310.0L410.5 2309.9L412.0 2309.9L413.5 2309.8L415.0 2309.7L416.5 2309.6L418.0 2309.5L419.5 2309.4L420.9 2309.3L422.4 2309.2L423.9 2309.1L425.4 2309.0L426.9 2308.9L428.4 2308.8L429.9 2308.7L431.4 2308.5L432.9 2308.4L434.3 2308.3L435.8 2308.2L437.3 2308.1L438.8 2308.0L440.3 2307.8L441.8 2307.7L443.3 2307.6L444.8 2307.4L446.3 2307.3L447.8 2307.2L449.3 2307.0L450.8 2306.9L452.2 2306.7L453.7 2306.6L455.2 2306.4L456.7 2306.3L458.2 2306.1L459.7 2305.9L461.2 2305.8L462.7 2305.6L464.2 2305.4L465.7 2305.3L467.2 2305.1L468.7 2304.9L470.2 2304.7L471.8 2304.5L473.3 2304.3L474.8 2304.2L476.3 2303.9L477.8 2303.7L479.3 2303.5L480.8 2303.3L482.3 2303.1L483.8 2302.9L485.3 2302.6L486.8 2302.4L488.3 2302.1L489.7 2301.9L491.2 2301.6L492.7 2301.3L494.2 2301.0L495.7 2300.8L497.2 2300.5L498.6 2300.2L500.1 2299.8L501.6 2299.5L503.0 2299.2L504.5 2298.8L505.9 2298.5L507.4 2298.1L508.8 2297.7L510.2 2297.3L511.7 2296.9L513.1 2296.5L514.5 2296.1L515.9 2295.7L517.3 2295.2L518.7 2294.7L520.1 2294.3L521.5 2293.8L522.9 2293.3L524.2 2292.8L525.6 2292.2L527.0 2291.7L528.3 2291.1L529.6 2290.6L531.0 2290.0L532.3 2289.4L533.6 2288.7L534.9 2288.1L536.2 2287.5L537.5 2286.8L538.7 2286.1L540.0 2285.4L541.3 2284.7L542.5 2284.0L543.7 2283.2L545.0 2282.5L546.2 2281.7L547.4 2281.0L548.6 2280.2L549.8 2279.4L551.0 2278.5L552.1 2277.7L553.3 2276.9L554.4 2276.0L555.6 2275.2L556.7 2274.3L557.8 2273.4L558.9 2272.5L560.0 2271.6L561.1 2270.7L562.2 2269.7L563.3 2268.8L564.3 2267.9L565.4 2266.9L566.4 2265.9L567.4 2265.0L568.4 2264.0L569.5 2263.0L570.4 2262.0L571.4 2261.0L572.4 2259.9L573.4 2258.9L574.3 2257.9L575.3 2256.8L576.2 2255.8L577.1 2254.7L578.0 2253.7L578.9 2252.6L579.8 2251.5L580.7 2250.4L581.6 2249.3L582.4 2248.2L583.3 2247.1L584.1 2246.0L585.0 2244.9L585.8 2243.8L586.6 2242.7L587.4 2241.6L588.2 2240.4L589.0 2239.3L589.8 2238.2L590.6 2237.0L591.4 2235.9L592.1 2234.7L592.9 2233.6L593.7 2232.4L594.4 2231.3L595.2 2230.1L595.9 2229.0L596.6 2227.8L597.4 2226.6L598.1 2225.5L598.8 2224.3L599.5 2223.1L600.2 2222.0L600.9 2220.8L601.6 2219.6L602.3 2218.4L603.0 2217.2L603.7 2216.1L604.4 2214.9L605.1 2213.7L605.8 2212.5L606.4 2211.3L607.1 2210.1L607.8 2208.9L608.4 2207.8L609.1 2206.6L609.7 2205.4L610.4 2204.2L611.0 2203.0L611.7 2201.8L612.3 2200.6L612.9 2199.4L613.5 2198.2L614.2 2196.9L614.8 2195.7L615.4 2194.5L616.0 2193.3L616.6 2192.1L617.2 2190.9L617.8 2189.7L618.4 2188.5L619.0 2187.2L619.6 2186.0L620.2 2184.8L620.8 2183.6L621.4 2182.4L622.0 2181.1L622.6 2179.9L623.1 2178.7L623.7 2177.5L624.3 2176.2L624.9 2175.0L625.4 2173.8L626.0 2172.6L626.6 2171.3L627.1 2170.1L627.7 2168.9L628.2 2167.6L628.8 2166.4L629.3 2165.2L629.9 2163.9L630.4 2162.7L631.0 2161.4L631.5 2160.2L632.1 2159.0L632.6 2157.7L633.1 2156.5L633.7 2155.2L634.2 2154.0L634.8 2152.8L635.3 2151.5L635.8 2150.3L636.3 2149.0L636.9 2147.8L637.4 2146.5L637.9 2145.3L638.5 2144.1L639.0 2142.8L639.5 2141.6L640.0 2140.3L640.5 2139.1L641.1 2137.8L641.6 2136.6L642.1 2135.3L642.6 2134.1L643.1 2132.8L643.6 2131.6L644.2 2130.3L644.7 2129.1L645.2 2127.8L645.7 2126.6L646.2 2125.3L646.7 2124.1L647.2 2122.8L647.7 2121.6L648.2 2120.3L648.7 2119.1L649.2 2117.8L649.7 2116.5L650.2 2115.3L650.7 2114.0L651.2 2112.8L651.7 2111.5L652.1 2110.3L652.6 2109.0L653.1 2107.7L653.6 2106.5L654.1 2105.2L654.6 2104.0L655.0 2102.7L655.5 2101.4L656.0 2100.2L656.5 2098.9L656.9 2097.7L657.4 2096.4L657.9 2095.1L658.4 2093.9L658.8 2092.6L659.3 2091.3L659.8 2090.1L660.2 2088.8L660.7 2087.5L661.1 2086.3L661.6 2085.0L662.1 2083.7L662.5 2082.5L663.0 2081.2L663.4 2079.9L663.9 2078.7L664.3 2077.4L664.8 2076.1L665.2 2074.9L665.6 2073.6L666.1 2072.3L666.5 2071.0L667.0 2069.8L667.4 2068.5L667.8 2067.2L668.3 2066.0L668.7 2064.7L669.1 2063.4L669.6 2062.1L670.0 2060.9L670.5 2059.6L670.9 2058.3L671.3 2057.1L671.8 2055.8L672.2 2054.5L672.6 2053.2L673.1 2052.0L673.5 2050.7L674.0 2049.4L674.4 2048.2L674.8 2046.9L675.3 2045.6L675.7 2044.3L676.2 2043.1L676.6 2041.8L677.1 2040.5L677.5 2039.3L678.0 2038.0L678.4 2036.7L678.9 2035.5L679.3 2034.2L679.8 2032.9L680.2 2031.7L680.7 2030.4L681.2 2029.2L681.6 2027.9L682.1 2026.6L682.6 2025.4L683.1 2024.1L683.6 2022.9L684.0 2021.6L684.5 2020.4L685.0 2019.1L685.5 2017.9L686.0 2016.6L686.5 2015.4L687.0 2014.1L687.5 2012.9L688.1 2011.6L688.6 2010.4L689.1 2009.1L689.6 2007.9L690.2 2006.6L690.7 2005.4L691.2 2004.2L691.8 2002.9L692.3 2001.7L692.9 2000.5L693.5 1999.2L694.0 1998.0L694.6 1996.8L695.2 1995.6L695.8 1994.3L696.4 1993.1L697.0 1991.9L697.6 1990.7L698.2 1989.5L698.8 1988.3L699.4 1987.0L700.1 1985.8L700.7 1984.6L701.3 1983.4L702.0 1982.2L702.6 1981.0L703.3 1979.8L704.0 1978.6L704.6 1977.4L705.3 1976.2L706.0 1975.0L706.7 1973.9L707.4 1972.7L708.1 1971.5L708.8 1970.3L709.5 1969.1L710.2 1967.9L710.9 1966.8L711.6 1965.6L712.3 1964.4L713.0 1963.2L713.8 1962.1L714.5 1960.9L715.2 1959.7L716.0 1958.6L716.7 1957.4L717.5 1956.3L718.2 1955.1L718.9 1954.0L719.7 1952.8L720.4 1951.6L721.2 1950.5L722.0 1949.3L722.7 1948.2L723.5 1947.1L724.2 1945.9L725.0 1944.8L725.7 1943.6L726.5 1942.5L727.3 1941.4L728.0 1940.2L728.8 1939.1L729.5 1938.0L730.3 1936.8L731.1 1935.7L731.9 1934.6L732.6 1933.5L733.4 1932.4L734.2 1931.2L735.0 1930.1L735.8 1929.0L736.6 1927.9L737.5 1926.8L738.3 1925.7L739.1 1924.6L740.0 1923.5L740.9 1922.5L741.8 1921.4L742.7 1920.3L743.6 1919.2L744.5 1918.2L745.4 1917.1L746.4 1916.1L747.4 1915.0L748.3 1914.0L749.3 1913.0L750.3 1912.0L751.3 1911.0L752.4 1910.0L753.4 1909.0L754.5 1908.0L755.5 1907.0L756.6 1906.1L757.7 1905.1L758.8 1904.2L759.9 1903.3L761.0 1902.4L762.1 1901.5L763.3 1900.6L764.5 1899.7L765.6 1898.9L766.8 1898.1L768.0 1897.2L769.2 1896.4L770.4 1895.6L771.6 1894.9L772.9 1894.1L774.1 1893.4L775.4 1892.7L776.7 1892.0L777.9 1891.3L779.2 1890.7L780.5 1890.0L781.8 1889.4L783.2 1888.8L784.5 1888.2L785.8 1887.7L787.2 1887.2L788.6 1886.7L789.9 1886.2L791.3 1885.7L792.7 1885.3L794.1 1884.9L795.5 1884.5L797.0 1884.1L798.4 1883.8L799.8 1883.4L801.3 1883.1L802.7 1882.8L804.2 1882.6L805.6 1882.3L807.1 1882.1L808.6 1881.8L810.1 1881.6L811.6 1881.4L813.1 1881.2L814.5 1881.0L816.0 1880.8L817.6 1880.7L819.1 1880.5L820.6 1880.3L822.1 1880.2L823.6 1880.0L825.1 1879.9L826.6 1879.7L828.1 1879.6L829.6 1879.4L831.1 1879.3L832.7 1879.1L834.2 1879.0L835.7 1878.8L837.2 1878.7L838.7 1878.5L840.2 1878.3L841.7 1878.1L843.2 1877.9L844.7 1877.7L846.2 1877.5L847.7 1877.3L849.1 1877.1L850.6 1876.8L852.1 1876.6L853.5 1876.3L855.0 1876.0L856.4 1875.7L857.9 1875.4L859.3 1875.0L860.7 1874.6L862.1 1874.2L863.6 1873.8L865.0 1873.4L866.3 1872.9L867.7 1872.4L869.1 1871.9L870.4 1871.4L871.8 1870.8L873.1 1870.3L874.4 1869.7L875.7 1869.0L877.1 1868.4L878.3 1867.7L879.6 1867.0L880.9 1866.3L882.1 1865.6L883.4 1864.8L884.6 1864.1L885.8 1863.3L887.0 1862.5L888.2 1861.7L889.4 1860.8L890.6 1860.0L891.8 1859.1L892.9 1858.2L894.0 1857.4L895.2 1856.5L896.3 1855.5L897.4 1854.6L898.4 1853.7L899.5 1852.7L900.6 1851.8L901.6 1850.8L902.6 1849.8L903.6 1848.8L904.6 1847.8L905.6 1846.8L906.6 1845.8L907.6 1844.8L908.5 1843.7L909.4 1842.7L910.4 1841.7L911.3 1840.6L912.2 1839.5L913.1 1838.5L913.9 1837.4L914.8 1836.3L915.7 1835.2L916.5 1834.2L917.3 1833.1L918.2 1832.0L919.0 1830.9L919.8 1829.7L920.6 1828.6L921.4 1827.5L922.2 1826.4L922.9 1825.2L923.7 1824.1L924.5 1823.0L925.2 1821.8L926.0 1820.7L926.7 1819.5L927.4 1818.4L928.2 1817.2L928.9 1816.1L929.6 1814.9L930.3 1813.7L931.0 1812.6L931.8 1811.4L932.5 1810.2L933.2 1809.0L933.8 1807.9L934.5 1806.7L935.2 1805.5L935.9 1804.3L936.6 1803.1L937.3 1801.9L938.0 1800.8L938.7 1799.6L939.3 1798.4L940.0 1797.2L940.7 1796.0L941.4 1794.8L942.0 1793.6L942.7 1792.4L943.4 1791.2L944.1 1790.0L944.7 1788.9L945.4 1787.7L946.1 1786.5L946.7 1785.3L947.4 1784.1L948.1 1782.9L948.7 1781.7L949.4 1780.5L950.1 1779.3L950.7 1778.1L951.4 1776.9L952.0 1775.7L952.7 1774.5L953.4 1773.3L954.0 1772.1L954.7 1770.9L955.4 1769.7L956.0 1768.5L956.7 1767.3L957.4 1766.1L958.0 1764.9L958.7 1763.7L959.3 1762.6L960.0 1761.4L960.7 1760.2L961.3 1759.0L962.0 1757.8L962.7 1756.6L963.3 1755.4L964.0 1754.2L964.7 1753.0L965.4 1751.8L966.0 1750.6L966.7 1749.4L967.4 1748.3L968.1 1747.1L968.7 1745.9L969.4 1744.7L970.1 1743.5L970.8 1742.3L971.5 1741.2L972.2 1740.0L972.8 1738.8L973.5 1737.6L974.2 1736.4L974.9 1735.3L975.6 1734.1L976.3 1732.9L977.0 1731.7L977.7 1730.6L978.4 1729.4L979.1 1728.2L979.8 1727.1L980.5 1725.9L981.3 1724.7L982.0 1723.6L982.7 1722.4L983.4 1721.3L984.1 1720.1L984.9 1719.0L985.6 1717.8L986.3 1716.6L987.1 1715.5L987.8 1714.4L988.6 1713.2L989.3 1712.1L990.1 1710.9L990.8 1709.8L991.6 1708.6L992.3 1707.5L993.1 1706.4L993.9 1705.2L994.6 1704.1L995.4 1703.0L996.2 1701.8L997.0 1700.7L997.8 1699.6L998.6 1698.5L999.4 1697.3L1000.2 1696.2L1001.0 1695.1L1001.8 1694.0L1002.6 1692.9L1003.4 1691.8L1004.3 1690.6L1005.1 1689.5L1006.0 1688.4L1006.8 1687.3L1007.6 1686.2L1008.5 1685.1L1009.4 1684.0L1010.2 1682.9L1011.1 1681.8L1012.0 1680.7L1012.9 1679.6L1013.8 1678.5L1014.6 1677.5L1015.5 1676.4L1016.5 1675.3L1017.4 1674.2L1018.3 1673.1L1019.2 1672.1L1020.2 1671.0L1021.1 1670.0L1022.1 1669.0L1023.1 1667.9L1024.1 1666.9L1025.1 1666.0L1026.2 1665.0L1027.2 1664.1L1028.3 1663.1L1029.4 1662.2L1030.5 1661.4L1031.6 1660.5L1032.8 1659.7L1034.0 1658.9L1035.2 1658.2L1036.4 1657.5L1037.7 1656.8L1038.9 1656.1L1040.3 1655.5L1041.6 1654.9L1042.9 1654.4L1044.3 1653.9L1045.7 1653.4L1047.1 1653.0L1048.6 1652.6L1050.0 1652.3L1051.5 1652.0L1052.9 1651.8L1054.4 1651.6L1055.9 1651.4L1057.4 1651.3L1058.8 1651.2L1060.3 1651.2L1061.8 1651.3L1063.3 1651.4L1064.8 1651.5L1066.2 1651.7L1067.7 1651.9L1069.2 1652.2L1070.6 1652.5L1072.1 1652.8L1073.5 1653.2L1074.9 1653.7L1076.3 1654.1L1077.6 1654.6L1079.0 1655.2L1080.3 1655.8L1081.6 1656.4L1082.9 1657.0L1084.2 1657.7L1085.4 1658.4L1086.6 1659.2L1087.8 1659.9L1089.0 1660.7L1090.1 1661.6L1091.3 1662.4L1092.4 1663.3L1093.5 1664.2L1094.6 1665.1L1095.6 1666.0L1096.7 1667.0L1097.7 1668.0L1098.8 1668.9L1099.8 1669.9L1100.8 1671.0L1101.8 1672.0L1102.7 1673.0L1103.7 1674.1L1104.7 1675.1L1105.6 1676.2L1106.6 1677.2L1107.5 1678.3L1108.4 1679.4L1109.4 1680.5L1110.3 1681.5L1111.2 1682.6L1112.1 1683.7L1113.0 1684.8L1113.9 1685.8L1114.8 1686.9L1115.7 1688.0L1116.6 1689.0L1117.5 1690.1L1118.4 1691.2L1119.3 1692.3L1120.2 1693.3L1121.1 1694.4L1122.0 1695.5L1122.8 1696.5L1123.7 1697.6L1124.6 1698.7L1125.5 1699.8L1126.3 1700.8L1127.2 1701.9L1128.1 1703.0L1128.9 1704.0L1129.8 1705.1L1130.6 1706.2L1131.5 1707.3L1132.4 1708.3L1133.2 1709.4L1134.1 1710.5L1134.9 1711.6L1135.8 1712.7L1136.6 1713.7L1137.5 1714.8L1138.3 1715.9L1139.2 1717.0L1140.0 1718.1L1140.9 1719.2L1141.7 1720.3L1142.5 1721.4L1143.4 1722.5L1144.2 1723.5L1145.1 1724.6L1145.9 1725.7L1146.8 1726.8L1147.6 1727.9L1148.4 1729.0L1149.3 1730.1L1150.1 1731.2L1151.0 1732.3L1151.8 1733.5L1152.6 1734.6L1153.5 1735.7L1154.3 1736.8L1155.2 1737.9L1156.0 1739.0L1156.8 1740.1L1157.7 1741.2L1158.5 1742.3L1159.3 1743.4L1160.2 1744.5L1161.0 1745.7L1161.8 1746.8L1162.6 1747.9L1163.5 1749.0L1164.3 1750.1L1165.1 1751.2L1166.0 1752.3L1166.8 1753.4L1167.6 1754.6L1168.4 1755.7L1169.3 1756.8L1170.1 1757.9L1170.9 1759.0L1171.7 1760.1L1172.6 1761.2L1173.4 1762.3L1174.2 1763.5L1175.0 1764.6L1175.9 1765.7L1176.7 1766.8L1177.5 1767.9L1178.3 1769.0L1179.2 1770.1L1180.0 1771.2L1180.8 1772.3L1181.7 1773.4L1182.5 1774.5L1183.3 1775.6L1184.2 1776.7L1185.0 1777.8L1185.8 1778.9L1186.7 1780.0L1187.5 1781.1L1188.4 1782.2L1189.2 1783.3L1190.1 1784.4L1190.9 1785.5L1191.8 1786.6L1192.7 1787.6L1193.5 1788.7L1194.4 1789.8L1195.3 1790.9L1196.2 1791.9L1197.1 1793.0L1198.0 1794.1L1198.9 1795.1L1199.8 1796.2L1200.7 1797.2L1201.6 1798.3L1202.5 1799.3L1203.4 1800.4L1204.4 1801.4L1205.3 1802.4L1206.3 1803.5L1207.2 1804.5L1208.2 1805.5L1209.1 1806.5L1210.1 1807.5L1211.1 1808.5L1212.1 1809.6L1213.1 1810.5L1214.1 1811.5L1215.1 1812.5L1216.1 1813.5L1217.1 1814.5L1218.2 1815.4L1219.2 1816.4L1220.3 1817.4L1221.3 1818.3L1222.4 1819.2L1223.4 1820.2L1224.5 1821.1L1225.6 1822.0L1226.7 1822.9L1227.8 1823.8L1228.9 1824.7L1230.1 1825.6L1231.2 1826.5L1232.3 1827.3L1233.5 1828.2L1234.6 1829.0L1235.8 1829.8L1237.0 1830.7L1238.1 1831.5L1239.3 1832.3L1240.5 1833.1L1241.7 1833.9L1243.0 1834.6L1244.2 1835.4L1245.4 1836.1L1246.7 1836.9L1247.9 1837.6L1249.2 1838.3L1250.5 1839.0L1251.8 1839.7L1253.1 1840.4L1254.4 1841.0L1255.7 1841.7L1257.0 1842.3L1258.3 1843.0L1259.6 1843.6L1261.0 1844.2L1262.3 1844.8L1263.7 1845.4L1265.0 1846.0L1266.4 1846.6L1267.7 1847.1L1269.1 1847.7L1270.5 1848.2L1271.8 1848.8L1273.2 1849.3L1274.6 1849.8L1276.0 1850.3L1277.3 1850.8L1278.7 1851.3L1280.1 1851.8L1281.5 1852.3L1282.9 1852.8L1284.3 1853.2L1285.7 1853.7L1287.1 1854.1L1288.6 1854.5L1290.0 1854.9L1291.4 1855.3L1292.8 1855.7L1294.3 1856.1L1295.7 1856.4L1297.1 1856.8L1298.6 1857.1L1300.0 1857.4L1301.5 1857.8L1302.9 1858.1L1304.4 1858.4L1305.9 1858.7L1307.3 1859.0L1308.8 1859.3L1310.2 1859.6L1311.7 1859.8L1313.2 1860.1L1314.6 1860.4L1316.1 1860.7L1317.6 1860.9L1319.1 1861.2L1320.5 1861.5L1322.0 1861.8L1323.5 1862.0L1324.9 1862.3L1326.4 1862.6L1327.9 1862.9L1329.3 1863.1L1330.8 1863.4L1332.3 1863.7L1333.7 1864.0L1335.2 1864.3L1336.7 1864.7L1338.1 1865.0L1339.6 1865.3L1341.0 1865.6L1342.5 1866.0L1343.9 1866.3L1345.4 1866.7L1346.8 1867.1L1348.2 1867.4L1349.7 1867.8L1351.1 1868.2L1352.6 1868.6L1354.0 1869.0L1355.4 1869.4L1356.9 1869.8L1358.3 1870.2L1359.7 1870.6L1361.1 1871.1L1362.6 1871.5L1364.0 1871.9L1365.4 1872.3L1366.8 1872.7L1368.3 1873.2L1369.7 1873.6L1371.1 1874.0L1372.5 1874.5L1374.0 1874.9L1375.4 1875.3L1376.8 1875.8L1378.2 1876.2L1379.6 1876.7L1381.0 1877.2L1382.4 1877.6L1383.8 1878.1L1385.2 1878.6L1386.6 1879.1L1388.0 1879.6L1389.4 1880.1L1390.8 1880.6L1392.2 1881.1L1393.5 1881.6L1394.9 1882.2L1396.2 1882.7L1397.6 1883.3L1398.9 1883.9L1400.3 1884.4L1401.6 1885.0L1402.9 1885.6L1404.3 1886.2L1405.6 1886.9L1406.9 1887.5L1408.2 1888.1L1409.5 1888.8L1410.8 1889.5L1412.0 1890.1L1413.3 1890.8L1414.6 1891.5L1415.9 1892.2L1417.1 1892.9L1418.4 1893.7L1419.6 1894.4L1420.9 1895.1L1422.1 1895.9L1423.3 1896.6L1424.5 1897.4L1425.8 1898.2L1427.0 1898.9L1428.2 1899.7L1429.4 1900.5L1430.6 1901.3L1431.8 1902.1L1433.0 1902.9L1434.2 1903.7L1435.4 1904.5L1436.6 1905.3L1437.8 1906.1L1439.0 1906.9L1440.2 1907.8L1441.4 1908.6L1442.6 1909.4L1443.7 1910.2L1444.9 1911.0L1446.1 1911.9L1447.3 1912.7L1448.5 1913.5L1449.7 1914.3L1450.8 1915.1L1452.0 1916.0L1453.2 1916.8L1454.4 1917.6L1455.6 1918.4L1456.8 1919.2L1458.0 1920.0L1459.2 1920.8L1460.4 1921.7L1461.5 1922.5L1462.7 1923.3L1463.9 1924.1L1465.1 1924.9L1466.2 1925.8L1467.4 1926.6L1468.5 1927.4L1469.7 1928.3L1470.8 1929.2L1471.9 1930.0L1473.0 1930.9L1474.1 1931.8L1475.2 1932.7L1476.3 1933.6L1477.3 1934.5L1478.4 1935.5L1479.4 1936.4L1480.4 1937.4L1481.4 1938.3L1482.4 1939.3L1483.4 1940.3L1484.4 1941.3L1485.4 1942.3L1486.4 1943.3L1487.3 1944.3L1488.3 1945.3L1489.3 1946.4L1490.2 1947.4L1491.2 1948.4L1492.1 1949.4L1493.1 1950.4L1494.1 1951.4L1495.0 1952.4L1496.0 1953.5L1497.0 1954.5L1498.0 1955.5L1499.0 1956.5L1499.9 1957.5L1500.9 1958.5L1501.9 1959.5L1502.9 1960.5L1503.9 1961.5L1504.9 1962.5L1505.9 1963.5L1506.9 1964.5L1507.8 1965.5L1508.8 1966.5L1509.8 1967.5L1510.8 1968.5L1511.7 1969.5L1512.7 1970.5L1513.7 1971.6L1514.6 1972.6L1515.6 1973.6L1516.6 1974.6L1517.5 1975.6L1518.5 1976.7L1519.4 1977.7L1520.4 1978.7L1521.3 1979.7L1522.3 1980.8L1523.2 1981.8L1524.2 1982.8L1525.1 1983.8L1526.1 1984.9L1527.1 1985.9L1528.0 1986.9L1529.0 1987.9L1529.9 1989.0L1530.9 1990.0L1531.9 1991.0L1532.8 1992.0L1533.8 1993.0L1534.8 1994.0L1535.7 1995.1L1536.7 1996.1L1537.7 1997.1L1538.7 1998.1L1539.6 1999.1L1540.6 2000.1L1541.6 2001.1L1542.6 2002.1L1543.6 2003.1L1544.5 2004.1L1545.5 2005.1L1546.5 2006.1L1547.5 2007.1L1548.5 2008.1L1549.5 2009.1L1550.5 2010.1L1551.5 2011.1L1552.5 2012.1L1553.5 2013.1L1554.5 2014.1L1555.5 2015.1L1556.5 2016.1L1557.5 2017.1L1558.5 2018.1L1559.5 2019.0L1560.5 2020.0L1561.5 2021.0L1562.5 2022.0L1563.6 2023.0L1564.6 2023.9L1565.6 2024.9L1566.6 2025.9L1567.7 2026.9L1568.7 2027.8L1569.7 2028.8L1570.7 2029.8L1571.8 2030.7L1572.8 2031.7L1573.8 2032.7L1574.9 2033.6L1575.9 2034.6L1577.0 2035.5L1578.0 2036.5L1579.0 2037.4L1580.1 2038.4L1581.1 2039.3L1582.2 2040.3L1583.3 2041.2L1584.3 2042.2L1585.4 2043.1L1586.4 2044.1L1587.5 2045.0L1588.5 2045.9L1589.6 2046.9L1590.7 2047.8L1591.8 2048.7L1592.8 2049.7L1593.9 2050.6L1595.0 2051.5L1596.1 2052.4L1597.1 2053.3L1598.2 2054.3L1599.3 2055.2L1600.4 2056.1L1601.5 2057.0L1602.6 2057.9L1603.7 2058.8L1604.8 2059.7L1605.9 2060.6L1607.0 2061.5L1608.1 2062.4L1609.2 2063.3L1610.3 2064.2L1611.4 2065.1L1612.5 2066.0L1613.6 2066.9L1614.7 2067.8L1615.9 2068.7L1617.0 2069.6L1618.1 2070.4L1619.2 2071.3L1620.4 2072.2L1621.5 2073.1L1622.6 2073.9L1623.8 2074.8L1624.9 2075.7L1626.0 2076.5L1627.2 2077.4L1628.3 2078.2L1629.5 2079.1L1630.6 2079.9L1631.8 2080.8L1633.0 2081.6L1634.1 2082.5L1635.3 2083.3L1636.4 2084.2L1637.6 2085.0L1638.8 2085.8L1639.9 2086.7L1641.1 2087.5L1642.3 2088.3L1643.5 2089.2L1644.7 2090.0L1645.8 2090.8L1647.0 2091.6L1648.2 2092.4L1649.4 2093.2L1650.6 2094.0L1651.8 2094.8L1653.0 2095.6L1654.2 2096.4L1655.4 2097.2L1656.6 2098.0L1657.9 2098.8L1659.1 2099.6L1660.3 2100.3L1661.5 2101.1L1662.7 2101.9L1664.0 2102.6L1665.2 2103.4L1666.4 2104.2L1667.7 2104.9L1668.9 2105.6L1670.2 2106.4L1671.4 2107.1L1672.7 2107.9L1673.9 2108.6L1675.2 2109.3L1676.4 2110.0L1677.7 2110.7L1679.0 2111.5L1680.2 2112.2L1681.5 2112.9L1682.8 2113.5L1684.1 2114.2L1685.4 2114.9L1686.6 2115.6L1687.9 2116.3L1689.2 2116.9L1690.5 2117.6L1691.8 2118.3L1693.1 2118.9L1694.4 2119.6L1695.7 2120.2L1697.1 2120.9L1698.4 2121.5L1699.7 2122.1L1701.0 2122.8L1702.3 2123.4L1703.6 2124.0L1705.0 2124.7L1706.3 2125.3L1707.6 2125.9L1708.9 2126.5L1710.3 2127.2L1711.6 2127.8L1712.9 2128.4L1714.2 2129.0L1715.6 2129.6L1716.9 2130.2L1718.2 2130.9L1719.6 2131.5L1720.9 2132.1L1722.2 2132.7L1723.6 2133.3L1724.9 2133.9L1726.2 2134.5L1727.6 2135.1L1728.9 2135.7L1730.3 2136.3L1731.6 2136.9L1732.9 2137.5L1734.3 2138.1L1735.7 2138.6L1737.0 2139.2L1738.4 2139.8L1739.7 2140.3L1741.1 2140.8L1742.5 2141.4L1743.8 2141.9L1745.2 2142.4L1746.6 2143.0L1748.0 2143.5L1749.4 2144.0L1750.7 2144.5L1752.1 2145.0L1753.5 2145.5L1754.9 2146.0L1756.3 2146.5L1757.7 2146.9L1759.1 2147.4L1760.5 2147.9L1761.9 2148.4L1763.3 2148.8L1764.7 2149.3L1766.1 2149.7L1767.5 2150.2L1769.0 2150.6L1770.4 2151.1L1771.8 2151.5L1773.2 2152.0L1774.6 2152.4L1776.0 2152.8L1777.5 2153.3L1778.9 2153.7L1780.3 2154.1L1781.7 2154.5L1783.2 2155.0L1784.6 2155.4L1786.0 2155.8L1787.4 2156.2L1788.9 2156.6L1790.3 2157.0L1791.7 2157.5L1793.2 2157.9L1794.6 2158.3L1796.0 2158.7L1797.5 2159.1L1798.9 2159.5L1800.3 2159.9L1801.8 2160.3L1803.2 2160.7L1804.6 2161.1L1806.1 2161.5L1807.5 2161.9L1808.9 2162.3L1810.4 2162.7L1811.8 2163.1L1813.2 2163.5L1814.7 2163.9L1816.1 2164.3L1817.5 2164.7L1819.0 2165.1L1820.4 2165.5L1821.8 2165.9L1823.2 2166.3L1824.7 2166.8L1826.1 2167.2L1827.5 2167.6L1828.9 2168.0L1830.4 2168.4L1831.8 2168.8L1833.2 2169.3L1834.6 2169.7L1836.1 2170.1L1837.5 2170.5L1838.9 2171.0L1840.3 2171.4L1841.7 2171.8L1843.1 2172.3" fill="none" stroke="#000" stroke-width="5.4" stroke-dasharray="16.4 5.6" stroke-linejoin="round"/>
<path d="M348.9 2312.7L350.5 2312.6L352.0 2312.5L353.5 2312.5L355.0 2312.4L356.5 2312.4L358.1 2312.3L359.6 2312.2L361.1 2312.2L362.6 2312.1L364.1 2312.1L365.6 2312.0L367.1 2311.9L368.6 2311.9L370.2 2311.8L371.7 2311.7L373.2 2311.7L374.7 2311.6L376.2 2311.5L377.7 2311.5L379.2 2311.4L380.7 2311.3L382.2 2311.3L383.7 2311.2L385.2 2311.1L386.7 2311.1L388.2 2311.0L389.7 2310.9L391.1 2310.8L392.6 2310.8L394.1 2310.7L395.6 2310.6L397.1 2310.5L398.6 2310.5L400.1 2310.4L401.6 2310.3L403.1 2310.2L404.6 2310.1L406.1 2310.0L407.6 2309.9L409.0 2309.9L410.5 2309.8L412.0 2309.7L413.5 2309.6L415.0 2309.5L416.5 2309.4L418.0 2309.3L419.5 2309.2L420.9 2309.1L422.4 2309.0L423.9 2308.9L425.4 2308.7L426.9 2308.6L428.4 2308.5L429.9 2308.4L431.4 2308.3L432.9 2308.2L434.3 2308.0L435.8 2307.9L437.3 2307.8L438.8 2307.6L440.3 2307.5L441.8 2307.4L443.3 2307.2L444.8 2307.1L446.3 2307.0L447.8 2306.8L449.3 2306.7L450.8 2306.5L452.2 2306.3L453.7 2306.2L455.2 2306.0L456.7 2305.9L458.2 2305.7L459.7 2305.5L461.2 2305.3L462.7 2305.2L464.2 2305.0L465.7 2304.8L467.2 2304.6L468.7 2304.4L470.2 2304.2L471.8 2304.0L473.3 2303.8L474.8 2303.6L476.3 2303.4L477.8 2303.2L479.3 2303.0L480.8 2302.7L482.3 2302.5L483.8 2302.3L485.3 2302.0L486.8 2301.7L488.3 2301.5L489.7 2301.2L491.2 2300.9L492.7 2300.6L494.2 2300.3L495.7 2300.0L497.2 2299.7L498.6 2299.4L500.1 2299.0L501.6 2298.7L503.0 2298.3L504.5 2298.0L505.9 2297.6L507.4 2297.2L508.8 2296.8L510.2 2296.4L511.7 2296.0L513.1 2295.5L514.5 2295.1L515.9 2294.6L517.3 2294.1L518.7 2293.7L520.1 2293.2L521.5 2292.6L522.9 2292.1L524.2 2291.6L525.6 2291.0L527.0 2290.4L528.3 2289.8L529.6 2289.2L531.0 2288.6L532.3 2287.9L533.6 2287.3L534.9 2286.6L536.2 2285.9L537.5 2285.2L538.7 2284.5L540.0 2283.8L541.3 2283.0L542.5 2282.2L543.7 2281.5L545.0 2280.7L546.2 2279.9L547.4 2279.0L548.6 2278.2L549.8 2277.3L551.0 2276.5L552.1 2275.6L553.3 2274.7L554.4 2273.8L555.6 2272.9L556.7 2272.0L557.8 2271.0L558.9 2270.1L560.0 2269.1L561.1 2268.1L562.2 2267.2L563.3 2266.2L564.3 2265.2L565.4 2264.1L566.4 2263.1L567.4 2262.1L568.4 2261.0L569.5 2260.0L570.4 2258.9L571.4 2257.8L572.4 2256.8L573.4 2255.7L574.3 2254.6L575.3 2253.5L576.2 2252.4L577.1 2251.2L578.0 2250.1L578.9 2249.0L579.8 2247.8L580.7 2246.7L581.6 2245.5L582.4 2244.4L583.3 2243.2L584.1 2242.0L585.0 2240.8L585.8 2239.7L586.6 2238.5L587.4 2237.3L588.2 2236.1L589.0 2234.9L589.8 2233.7L590.6 2232.5L591.4 2231.3L592.1 2230.0L592.9 2228.8L593.7 2227.6L594.4 2226.4L595.2 2225.1L595.9 2223.9L596.6 2222.7L597.4 2221.5L598.1 2220.2L598.8 2219.0L599.5 2217.7L600.2 2216.5L600.9 2215.3L601.6 2214.0L602.3 2212.8L603.0 2211.5L603.7 2210.3L604.4 2209.0L605.1 2207.8L605.8 2206.5L606.4 2205.2L607.1 2204.0L607.8 2202.7L608.4 2201.4L609.1 2200.2L609.7 2198.9L610.4 2197.6L611.0 2196.4L611.7 2195.1L612.3 2193.8L612.9 2192.6L613.5 2191.3L614.2 2190.0L614.8 2188.7L615.4 2187.4L616.0 2186.2L616.6 2184.9L617.2 2183.6L617.8 2182.3L618.4 2181.0L619.0 2179.7L619.6 2178.4L620.2 2177.1L620.8 2175.8L621.4 2174.5L622.0 2173.2L622.6 2171.9L623.1 2170.7L623.7 2169.4L624.3 2168.1L624.9 2166.7L625.4 2165.4L626.0 2164.1L626.6 2162.8L627.1 2161.5L627.7 2160.2L628.2 2158.9L628.8 2157.6L629.3 2156.3L629.9 2155.0L630.4 2153.7L631.0 2152.4L631.5 2151.1L632.1 2149.7L632.6 2148.4L633.1 2147.1L633.7 2145.8L634.2 2144.5L634.8 2143.2L635.3 2141.9L635.8 2140.5L636.3 2139.2L636.9 2137.9L637.4 2136.6L637.9 2135.3L638.5 2133.9L639.0 2132.6L639.5 2131.3L640.0 2130.0L640.5 2128.7L641.1 2127.3L641.6 2126.0L642.1 2124.7L642.6 2123.4L643.1 2122.0L643.6 2120.7L644.2 2119.4L644.7 2118.1L645.2 2116.7L645.7 2115.4L646.2 2114.1L646.7 2112.8L647.2 2111.4L647.7 2110.1L648.2 2108.8L648.7 2107.4L649.2 2106.1L649.7 2104.8L650.2 2103.4L650.7 2102.1L651.2 2100.8L651.7 2099.5L652.1 2098.1L652.6 2096.8L653.1 2095.5L653.6 2094.1L654.1 2092.8L654.6 2091.4L655.0 2090.1L655.5 2088.8L656.0 2087.4L656.5 2086.1L656.9 2084.8L657.4 2083.4L657.9 2082.1L658.4 2080.7L658.8 2079.4L659.3 2078.1L659.8 2076.7L660.2 2075.4L660.7 2074.0L661.1 2072.7L661.6 2071.4L662.1 2070.0L662.5 2068.7L663.0 2067.3L663.4 2066.0L663.9 2064.6L664.3 2063.3L664.8 2061.9L665.2 2060.6L665.6 2059.2L666.1 2057.9L666.5 2056.6L667.0 2055.2L667.4 2053.9L667.8 2052.5L668.3 2051.2L668.7 2049.8L669.1 2048.5L669.6 2047.1L670.0 2045.8L670.5 2044.4L670.9 2043.1L671.3 2041.7L671.8 2040.4L672.2 2039.0L672.6 2037.7L673.1 2036.3L673.5 2035.0L674.0 2033.6L674.4 2032.3L674.8 2030.9L675.3 2029.6L675.7 2028.3L676.2 2026.9L676.6 2025.6L677.1 2024.2L677.5 2022.9L678.0 2021.5L678.4 2020.2L678.9 2018.9L679.3 2017.5L679.8 2016.2L680.2 2014.8L680.7 2013.5L681.2 2012.2L681.6 2010.8L682.1 2009.5L682.6 2008.2L683.1 2006.8L683.6 2005.5L684.0 2004.2L684.5 2002.8L685.0 2001.5L685.5 2000.2L686.0 1998.9L686.5 1997.5L687.0 1996.2L687.5 1994.9L688.1 1993.6L688.6 1992.2L689.1 1990.9L689.6 1989.6L690.2 1988.3L690.7 1987.0L691.2 1985.7L691.8 1984.4L692.3 1983.1L692.9 1981.8L693.5 1980.5L694.0 1979.2L694.6 1977.9L695.2 1976.6L695.8 1975.3L696.4 1974.0L697.0 1972.7L697.6 1971.4L698.2 1970.1L698.8 1968.8L699.4 1967.5L700.1 1966.2L700.7 1965.0L701.3 1963.7L702.0 1962.4L702.6 1961.1L703.3 1959.9L704.0 1958.6L704.6 1957.3L705.3 1956.1L706.0 1954.8L706.7 1953.5L707.4 1952.3L708.1 1951.0L708.8 1949.8L709.5 1948.5L710.2 1947.3L710.9 1946.0L711.6 1944.8L712.3 1943.5L713.0 1942.3L713.8 1941.1L714.5 1939.8L715.2 1938.6L716.0 1937.4L716.7 1936.1L717.5 1934.9L718.2 1933.7L718.9 1932.4L719.7 1931.2L720.4 1930.0L721.2 1928.8L722.0 1927.6L722.7 1926.4L723.5 1925.1L724.2 1923.9L725.0 1922.7L725.7 1921.5L726.5 1920.3L727.3 1919.1L728.0 1917.9L728.8 1916.7L729.5 1915.5L730.3 1914.3L731.1 1913.1L731.9 1911.9L732.6 1910.7L733.4 1909.6L734.2 1908.4L735.0 1907.2L735.8 1906.0L736.6 1904.9L737.5 1903.7L738.3 1902.5L739.1 1901.4L740.0 1900.2L740.9 1899.1L741.8 1897.9L742.7 1896.8L743.6 1895.7L744.5 1894.5L745.4 1893.4L746.4 1892.3L747.4 1891.2L748.3 1890.1L749.3 1889.0L750.3 1887.9L751.3 1886.9L752.4 1885.8L753.4 1884.8L754.5 1883.7L755.5 1882.7L756.6 1881.7L757.7 1880.7L758.8 1879.7L759.9 1878.7L761.0 1877.8L762.1 1876.8L763.3 1875.9L764.5 1875.0L765.6 1874.1L766.8 1873.2L768.0 1872.3L769.2 1871.5L770.4 1870.7L771.6 1869.8L772.9 1869.0L774.1 1868.3L775.4 1867.5L776.7 1866.8L777.9 1866.1L779.2 1865.4L780.5 1864.7L781.8 1864.0L783.2 1863.4L784.5 1862.8L785.8 1862.2L787.2 1861.7L788.6 1861.1L789.9 1860.6L791.3 1860.1L792.7 1859.7L794.1 1859.2L795.5 1858.8L797.0 1858.4L798.4 1858.1L799.8 1857.7L801.3 1857.4L802.7 1857.1L804.2 1856.8L805.6 1856.5L807.1 1856.3L808.6 1856.0L810.1 1855.8L811.6 1855.5L813.1 1855.3L814.5 1855.1L816.0 1854.9L817.6 1854.8L819.1 1854.6L820.6 1854.4L822.1 1854.3L823.6 1854.1L825.1 1853.9L826.6 1853.8L828.1 1853.6L829.6 1853.5L831.1 1853.3L832.7 1853.1L834.2 1853.0L835.7 1852.8L837.2 1852.7L838.7 1852.5L840.2 1852.3L841.7 1852.1L843.2 1851.9L844.7 1851.7L846.2 1851.5L847.7 1851.2L849.1 1851.0L850.6 1850.7L852.1 1850.4L853.5 1850.1L855.0 1849.8L856.4 1849.5L857.9 1849.1L859.3 1848.8L860.7 1848.4L862.1 1848.0L863.6 1847.5L865.0 1847.1L866.3 1846.6L867.7 1846.1L869.1 1845.5L870.4 1844.9L871.8 1844.4L873.1 1843.7L874.4 1843.1L875.7 1842.4L877.1 1841.7L878.3 1841.0L879.6 1840.3L880.9 1839.6L882.1 1838.8L883.4 1838.0L884.6 1837.2L885.8 1836.4L887.0 1835.5L888.2 1834.6L889.4 1833.8L890.6 1832.9L891.8 1831.9L892.9 1831.0L894.0 1830.1L895.2 1829.1L896.3 1828.1L897.4 1827.2L898.4 1826.2L899.5 1825.1L900.6 1824.1L901.6 1823.1L902.6 1822.1L903.6 1821.0L904.6 1820.0L905.6 1818.9L906.6 1817.8L907.6 1816.7L908.5 1815.6L909.4 1814.5L910.4 1813.4L911.3 1812.3L912.2 1811.2L913.1 1810.1L913.9 1808.9L914.8 1807.8L915.7 1806.6L916.5 1805.5L917.3 1804.3L918.2 1803.2L919.0 1802.0L919.8 1800.8L920.6 1799.6L921.4 1798.4L922.2 1797.2L922.9 1796.0L923.7 1794.8L924.5 1793.6L925.2 1792.4L926.0 1791.2L926.7 1790.0L927.4 1788.8L928.2 1787.5L928.9 1786.3L929.6 1785.1L930.3 1783.8L931.0 1782.6L931.8 1781.3L932.5 1780.1L933.2 1778.8L933.8 1777.6L934.5 1776.3L935.2 1775.1L935.9 1773.8L936.6 1772.6L937.3 1771.3L938.0 1770.1L938.7 1768.8L939.3 1767.6L940.0 1766.3L940.7 1765.0L941.4 1763.8L942.0 1762.5L942.7 1761.3L943.4 1760.0L944.1 1758.7L944.7 1757.5L945.4 1756.2L946.1 1754.9L946.7 1753.7L947.4 1752.4L948.1 1751.1L948.7 1749.9L949.4 1748.6L950.1 1747.3L950.7 1746.1L951.4 1744.8L952.0 1743.5L952.7 1742.3L953.4 1741.0L954.0 1739.7L954.7 1738.5L955.4 1737.2L956.0 1735.9L956.7 1734.7L957.4 1733.4L958.0 1732.1L958.7 1730.9L959.3 1729.6L960.0 1728.3L960.7 1727.1L961.3 1725.8L962.0 1724.5L962.7 1723.3L963.3 1722.0L964.0 1720.7L964.7 1719.5L965.4 1718.2L966.0 1717.0L966.7 1715.7L967.4 1714.4L968.1 1713.2L968.7 1711.9L969.4 1710.7L970.1 1709.4L970.8 1708.2L971.5 1706.9L972.2 1705.7L972.8 1704.4L973.5 1703.2L974.2 1701.9L974.9 1700.7L975.6 1699.4L976.3 1698.2L977.0 1696.9L977.7 1695.7L978.4 1694.5L979.1 1693.2L979.8 1692.0L980.5 1690.7L981.3 1689.5L982.0 1688.3L982.7 1687.1L983.4 1685.8L984.1 1684.6L984.9 1683.4L985.6 1682.2L986.3 1680.9L987.1 1679.7L987.8 1678.5L988.6 1677.3L989.3 1676.1L990.1 1674.9L990.8 1673.7L991.6 1672.4L992.3 1671.2L993.1 1670.0L993.9 1668.8L994.6 1667.6L995.4 1666.4L996.2 1665.2L997.0 1664.0L997.8 1662.9L998.6 1661.7L999.4 1660.5L1000.2 1659.3L1001.0 1658.1L1001.8 1656.9L1002.6 1655.7L1003.4 1654.6L1004.3 1653.4L1005.1 1652.2L1006.0 1651.0L1006.8 1649.9L1007.6 1648.7L1008.5 1647.5L1009.4 1646.4L1010.2 1645.2L1011.1 1644.0L1012.0 1642.9L1012.9 1641.7L1013.8 1640.6L1014.6 1639.4L1015.5 1638.2L1016.5 1637.1L1017.4 1636.0L1018.3 1634.8L1019.2 1633.7L1020.2 1632.6L1021.1 1631.5L1022.1 1630.4L1023.1 1629.3L1024.1 1628.3L1025.1 1627.2L1026.2 1626.2L1027.2 1625.2L1028.3 1624.2L1029.4 1623.3L1030.5 1622.4L1031.6 1621.5L1032.8 1620.6L1034.0 1619.8L1035.2 1619.0L1036.4 1618.2L1037.7 1617.5L1038.9 1616.8L1040.3 1616.1L1041.6 1615.5L1042.9 1614.9L1044.3 1614.4L1045.7 1613.9L1047.1 1613.5L1048.6 1613.1L1050.0 1612.7L1051.5 1612.4L1052.9 1612.2L1054.4 1611.9L1055.9 1611.8L1057.4 1611.7L1058.8 1611.6L1060.3 1611.6L1061.8 1611.6L1063.3 1611.7L1064.8 1611.9L1066.2 1612.1L1067.7 1612.3L1069.2 1612.6L1070.6 1612.9L1072.1 1613.3L1073.5 1613.7L1074.9 1614.2L1076.3 1614.7L1077.6 1615.2L1079.0 1615.8L1080.3 1616.4L1081.6 1617.1L1082.9 1617.7L1084.2 1618.5L1085.4 1619.2L1086.6 1620.0L1087.8 1620.8L1089.0 1621.7L1090.1 1622.6L1091.3 1623.5L1092.4 1624.4L1093.5 1625.3L1094.6 1626.3L1095.6 1627.3L1096.7 1628.3L1097.7 1629.3L1098.8 1630.4L1099.8 1631.4L1100.8 1632.5L1101.8 1633.6L1102.7 1634.7L1103.7 1635.8L1104.7 1636.9L1105.6 1638.0L1106.6 1639.2L1107.5 1640.3L1108.4 1641.4L1109.4 1642.6L1110.3 1643.7L1111.2 1644.9L1112.1 1646.0L1113.0 1647.1L1113.9 1648.3L1114.8 1649.4L1115.7 1650.5L1116.6 1651.7L1117.5 1652.8L1118.4 1654.0L1119.3 1655.1L1120.2 1656.2L1121.1 1657.4L1122.0 1658.5L1122.8 1659.6L1123.7 1660.8L1124.6 1661.9L1125.5 1663.0L1126.3 1664.2L1127.2 1665.3L1128.1 1666.4L1128.9 1667.6L1129.8 1668.7L1130.6 1669.9L1131.5 1671.0L1132.4 1672.1L1133.2 1673.3L1134.1 1674.4L1134.9 1675.6L1135.8 1676.7L1136.6 1677.9L1137.5 1679.0L1138.3 1680.2L1139.2 1681.3L1140.0 1682.5L1140.9 1683.6L1141.7 1684.8L1142.5 1685.9L1143.4 1687.1L1144.2 1688.2L1145.1 1689.4L1145.9 1690.6L1146.8 1691.7L1147.6 1692.9L1148.4 1694.1L1149.3 1695.2L1150.1 1696.4L1151.0 1697.6L1151.8 1698.7L1152.6 1699.9L1153.5 1701.1L1154.3 1702.3L1155.2 1703.4L1156.0 1704.6L1156.8 1705.8L1157.7 1707.0L1158.5 1708.1L1159.3 1709.3L1160.2 1710.5L1161.0 1711.7L1161.8 1712.9L1162.6 1714.0L1163.5 1715.2L1164.3 1716.4L1165.1 1717.6L1166.0 1718.8L1166.8 1719.9L1167.6 1721.1L1168.4 1722.3L1169.3 1723.5L1170.1 1724.7L1170.9 1725.8L1171.7 1727.0L1172.6 1728.2L1173.4 1729.4L1174.2 1730.5L1175.0 1731.7L1175.9 1732.9L1176.7 1734.1L1177.5 1735.3L1178.3 1736.4L1179.2 1737.6L1180.0 1738.8L1180.8 1740.0L1181.7 1741.1L1182.5 1742.3L1183.3 1743.5L1184.2 1744.6L1185.0 1745.8L1185.8 1747.0L1186.7 1748.1L1187.5 1749.3L1188.4 1750.4L1189.2 1751.6L1190.1 1752.7L1190.9 1753.9L1191.8 1755.0L1192.7 1756.2L1193.5 1757.3L1194.4 1758.5L1195.3 1759.6L1196.2 1760.7L1197.1 1761.9L1198.0 1763.0L1198.9 1764.1L1199.8 1765.2L1200.7 1766.3L1201.6 1767.5L1202.5 1768.6L1203.4 1769.7L1204.4 1770.8L1205.3 1771.9L1206.3 1773.0L1207.2 1774.0L1208.2 1775.1L1209.1 1776.2L1210.1 1777.3L1211.1 1778.3L1212.1 1779.4L1213.1 1780.5L1214.1 1781.5L1215.1 1782.6L1216.1 1783.6L1217.1 1784.6L1218.2 1785.6L1219.2 1786.7L1220.3 1787.7L1221.3 1788.7L1222.4 1789.7L1223.4 1790.7L1224.5 1791.6L1225.6 1792.6L1226.7 1793.6L1227.8 1794.5L1228.9 1795.5L1230.1 1796.4L1231.2 1797.3L1232.3 1798.2L1233.5 1799.1L1234.6 1800.0L1235.8 1800.9L1237.0 1801.8L1238.1 1802.6L1239.3 1803.5L1240.5 1804.3L1241.7 1805.2L1243.0 1806.0L1244.2 1806.8L1245.4 1807.6L1246.7 1808.4L1247.9 1809.1L1249.2 1809.9L1250.5 1810.6L1251.8 1811.3L1253.1 1812.1L1254.4 1812.8L1255.7 1813.5L1257.0 1814.1L1258.3 1814.8L1259.6 1815.5L1261.0 1816.1L1262.3 1816.8L1263.7 1817.4L1265.0 1818.0L1266.4 1818.6L1267.7 1819.2L1269.1 1819.8L1270.5 1820.4L1271.8 1821.0L1273.2 1821.5L1274.6 1822.1L1276.0 1822.6L1277.3 1823.2L1278.7 1823.7L1280.1 1824.2L1281.5 1824.7L1282.9 1825.2L1284.3 1825.7L1285.7 1826.2L1287.1 1826.6L1288.6 1827.1L1290.0 1827.5L1291.4 1827.9L1292.8 1828.3L1294.3 1828.7L1295.7 1829.1L1297.1 1829.4L1298.6 1829.8L1300.0 1830.2L1301.5 1830.5L1302.9 1830.8L1304.4 1831.2L1305.9 1831.5L1307.3 1831.8L1308.8 1832.1L1310.2 1832.4L1311.7 1832.7L1313.2 1833.0L1314.6 1833.3L1316.1 1833.6L1317.6 1833.9L1319.1 1834.2L1320.5 1834.4L1322.0 1834.7L1323.5 1835.0L1324.9 1835.3L1326.4 1835.6L1327.9 1835.9L1329.3 1836.2L1330.8 1836.5L1332.3 1836.8L1333.7 1837.1L1335.2 1837.5L1336.7 1837.8L1338.1 1838.1L1339.6 1838.5L1341.0 1838.8L1342.5 1839.2L1343.9 1839.6L1345.4 1840.0L1346.8 1840.4L1348.2 1840.8L1349.7 1841.2L1351.1 1841.6L1352.6 1842.0L1354.0 1842.4L1355.4 1842.8L1356.9 1843.3L1358.3 1843.7L1359.7 1844.2L1361.1 1844.6L1362.6 1845.0L1364.0 1845.5L1365.4 1845.9L1366.8 1846.4L1368.3 1846.8L1369.7 1847.3L1371.1 1847.7L1372.5 1848.2L1374.0 1848.7L1375.4 1849.1L1376.8 1849.6L1378.2 1850.1L1379.6 1850.6L1381.0 1851.1L1382.4 1851.6L1383.8 1852.1L1385.2 1852.6L1386.6 1853.1L1388.0 1853.6L1389.4 1854.1L1390.8 1854.7L1392.2 1855.2L1393.5 1855.8L1394.9 1856.4L1396.2 1857.0L1397.6 1857.5L1398.9 1858.2L1400.3 1858.8L1401.6 1859.4L1402.9 1860.0L1404.3 1860.7L1405.6 1861.3L1406.9 1862.0L1408.2 1862.7L1409.5 1863.4L1410.8 1864.1L1412.0 1864.8L1413.3 1865.5L1414.6 1866.3L1415.9 1867.0L1417.1 1867.8L1418.4 1868.5L1419.6 1869.3L1420.9 1870.1L1422.1 1870.9L1423.3 1871.7L1424.5 1872.5L1425.8 1873.3L1427.0 1874.1L1428.2 1875.0L1429.4 1875.8L1430.6 1876.6L1431.8 1877.5L1433.0 1878.3L1434.2 1879.2L1435.4 1880.0L1436.6 1880.9L1437.8 1881.7L1439.0 1882.6L1440.2 1883.5L1441.4 1884.4L1442.6 1885.2L1443.7 1886.1L1444.9 1887.0L1446.1 1887.8L1447.3 1888.7L1448.5 1889.6L1449.7 1890.5L1450.8 1891.3L1452.0 1892.2L1453.2 1893.1L1454.4 1893.9L1455.6 1894.8L1456.8 1895.6L1458.0 1896.5L1459.2 1897.4L1460.4 1898.2L1461.5 1899.1L1462.7 1899.9L1463.9 1900.8L1465.1 1901.7L1466.2 1902.6L1467.4 1903.5L1468.5 1904.4L1469.7 1905.3L1470.8 1906.2L1471.9 1907.1L1473.0 1908.0L1474.1 1909.0L1475.2 1909.9L1476.3 1910.9L1477.3 1911.9L1478.4 1912.9L1479.4 1913.9L1480.4 1914.9L1481.4 1915.9L1482.4 1917.0L1483.4 1918.0L1484.4 1919.0L1485.4 1920.1L1486.4 1921.2L1487.3 1922.2L1488.3 1923.3L1489.3 1924.4L1490.2 1925.5L1491.2 1926.6L1492.1 1927.6L1493.1 1928.7L1494.1 1929.8L1495.0 1930.9L1496.0 1931.9L1497.0 1933.0L1498.0 1934.1L1499.0 1935.1L1499.9 1936.2L1500.9 1937.3L1501.9 1938.3L1502.9 1939.4L1503.9 1940.4L1504.9 1941.5L1505.9 1942.6L1506.9 1943.6L1507.8 1944.7L1508.8 1945.8L1509.8 1946.8L1510.8 1947.9L1511.7 1949.0L1512.7 1950.0L1513.7 1951.1L1514.6 1952.2L1515.6 1953.3L1516.6 1954.4L1517.5 1955.4L1518.5 1956.5L1519.4 1957.6L1520.4 1958.7L1521.3 1959.8L1522.3 1960.9L1523.2 1962.0L1524.2 1963.0L1525.1 1964.1L1526.1 1965.2L1527.1 1966.3L1528.0 1967.4L1529.0 1968.5L1529.9 1969.6L1530.9 1970.6L1531.9 1971.7L1532.8 1972.8L1533.8 1973.9L1534.8 1974.9L1535.7 1976.0L1536.7 1977.1L1537.7 1978.2L1538.7 1979.2L1539.6 1980.3L1540.6 1981.4L1541.6 1982.4L1542.6 1983.5L1543.6 1984.6L1544.5 1985.6L1545.5 1986.7L1546.5 1987.8L1547.5 1988.8L1548.5 1989.9L1549.5 1990.9L1550.5 1992.0L1551.5 1993.1L1552.5 1994.1L1553.5 1995.2L1554.5 1996.2L1555.5 1997.3L1556.5 1998.3L1557.5 1999.4L1558.5 2000.4L1559.5 2001.4L1560.5 2002.5L1561.5 2003.5L1562.5 2004.6L1563.6 2005.6L1564.6 2006.6L1565.6 2007.7L1566.6 2008.7L1567.7 2009.7L1568.7 2010.8L1569.7 2011.8L1570.7 2012.8L1571.8 2013.8L1572.8 2014.8L1573.8 2015.9L1574.9 2016.9L1575.9 2017.9L1577.0 2018.9L1578.0 2019.9L1579.0 2020.9L1580.1 2021.9L1581.1 2023.0L1582.2 2024.0L1583.3 2025.0L1584.3 2026.0L1585.4 2027.0L1586.4 2028.0L1587.5 2028.9L1588.5 2029.9L1589.6 2030.9L1590.7 2031.9L1591.8 2032.9L1592.8 2033.9L1593.9 2034.9L1595.0 2035.8L1596.1 2036.8L1597.1 2037.8L1598.2 2038.8L1599.3 2039.7L1600.4 2040.7L1601.5 2041.7L1602.6 2042.6L1603.7 2043.6L1604.8 2044.6L1605.9 2045.5L1607.0 2046.5L1608.1 2047.4L1609.2 2048.4L1610.3 2049.3L1611.4 2050.3L1612.5 2051.2L1613.6 2052.2L1614.7 2053.1L1615.9 2054.0L1617.0 2055.0L1618.1 2055.9L1619.2 2056.8L1620.4 2057.8L1621.5 2058.7L1622.6 2059.6L1623.8 2060.5L1624.9 2061.4L1626.0 2062.4L1627.2 2063.3L1628.3 2064.2L1629.5 2065.1L1630.6 2066.0L1631.8 2066.9L1633.0 2067.8L1634.1 2068.7L1635.3 2069.6L1636.4 2070.5L1637.6 2071.4L1638.8 2072.2L1639.9 2073.1L1641.1 2074.0L1642.3 2074.9L1643.5 2075.8L1644.7 2076.6L1645.8 2077.5L1647.0 2078.4L1648.2 2079.2L1649.4 2080.1L1650.6 2080.9L1651.8 2081.8L1653.0 2082.6L1654.2 2083.5L1655.4 2084.3L1656.6 2085.1L1657.9 2086.0L1659.1 2086.8L1660.3 2087.6L1661.5 2088.4L1662.7 2089.2L1664.0 2090.0L1665.2 2090.8L1666.4 2091.6L1667.7 2092.4L1668.9 2093.2L1670.2 2094.0L1671.4 2094.8L1672.7 2095.6L1673.9 2096.3L1675.2 2097.1L1676.4 2097.9L1677.7 2098.6L1679.0 2099.4L1680.2 2100.1L1681.5 2100.9L1682.8 2101.6L1684.1 2102.3L1685.4 2103.1L1686.6 2103.8L1687.9 2104.5L1689.2 2105.2L1690.5 2105.9L1691.8 2106.6L1693.1 2107.3L1694.4 2108.0L1695.7 2108.7L1697.1 2109.4L1698.4 2110.0L1699.7 2110.7L1701.0 2111.4L1702.3 2112.1L1703.6 2112.7L1705.0 2113.4L1706.3 2114.1L1707.6 2114.7L1708.9 2115.4L1710.3 2116.0L1711.6 2116.7L1712.9 2117.3L1714.2 2118.0L1715.6 2118.6L1716.9 2119.3L1718.2 2119.9L1719.6 2120.6L1720.9 2121.2L1722.2 2121.9L1723.6 2122.5L1724.9 2123.2L1726.2 2123.8L1727.6 2124.5L1728.9 2125.1L1730.3 2125.7L1731.6 2126.4L1732.9 2127.0L1734.3 2127.6L1735.7 2128.2L1737.0 2128.8L1738.4 2129.4L1739.7 2130.0L1741.1 2130.5L1742.5 2131.1L1743.8 2131.7L1745.2 2132.2L1746.6 2132.8L1748.0 2133.3L1749.4 2133.9L1750.7 2134.4L1752.1 2134.9L1753.5 2135.5L1754.9 2136.0L1756.3 2136.5L1757.7 2137.0L1759.1 2137.5L1760.5 2138.0L1761.9 2138.5L1763.3 2139.0L1764.7 2139.5L1766.1 2140.0L1767.5 2140.4L1769.0 2140.9L1770.4 2141.4L1771.8 2141.9L1773.2 2142.3L1774.6 2142.8L1776.0 2143.3L1777.5 2143.7L1778.9 2144.2L1780.3 2144.6L1781.7 2145.1L1783.2 2145.5L1784.6 2145.9L1786.0 2146.4L1787.4 2146.8L1788.9 2147.3L1790.3 2147.7L1791.7 2148.1L1793.2 2148.6L1794.6 2149.0L1796.0 2149.4L1797.5 2149.9L1798.9 2150.3L1800.3 2150.7L1801.8 2151.1L1803.2 2151.6L1804.6 2152.0L1806.1 2152.4L1807.5 2152.8L1808.9 2153.3L1810.4 2153.7L1811.8 2154.1L1813.2 2154.6L1814.7 2155.0L1816.1 2155.4L1817.5 2155.8L1819.0 2156.3L1820.4 2156.7L1821.8 2157.1L1823.2 2157.6L1824.7 2158.0L1826.1 2158.4L1827.5 2158.9L1828.9 2159.3L1830.4 2159.8L1831.8 2160.2L1833.2 2160.6L1834.6 2161.1L1836.1 2161.5L1837.5 2162.0L1838.9 2162.5L1840.3 2162.9L1841.7 2163.4L1843.1 2163.8" fill="none" stroke="#000" stroke-width="5.4" stroke-dasharray="5.45 5.45" stroke-linejoin="round"/>
<rect x="345.2" y="1464" width="7.4" height="848.8"/>
<rect x="349" y="2309.3" width="1495" height="7.4"/>
<text transform="translate(284.4 1489.4) scale(1 1.025)" text-anchor="end">7000</text><text transform="translate(284.4 1610.6) scale(1 1.025)" text-anchor="end">6000</text><text transform="translate(284.4 1731.8) scale(1 1.025)" text-anchor="end">5000</text><text transform="translate(284.4 1853.0) scale(1 1.025)" text-anchor="end">4000</text><text transform="translate(284.4 1974.2) scale(1 1.025)" text-anchor="end">3000</text><text transform="translate(284.4 2095.4) scale(1 1.025)" text-anchor="end">2000</text><text transform="translate(284.4 2216.7) scale(1 1.025)" text-anchor="end">1000</text><text transform="translate(284.4 2337.9) scale(1 1.025)" text-anchor="end">0</text>
<text transform="translate(350.0 2430.6) scale(1 1.025)" text-anchor="middle">500</text><text transform="translate(722.8 2430.6) scale(1 1.025)" text-anchor="middle">550</text><text transform="translate(1095.6 2430.6) scale(1 1.025)" text-anchor="middle">600</text><text transform="translate(1468.4 2430.6) scale(1 1.025)" text-anchor="middle">650</text><text transform="translate(1841.2 2430.6) scale(1 1.025)" text-anchor="middle">700</text>
<text transform="translate(803.0 2531.0) scale(1 1.025)">Wavelength (nm)</text>
<text transform="translate(82.6 2276.2) rotate(-90)" letter-spacing="-0.1">Fluorescence intensity</text>
<line x1="1392" y1="1463.1" x2="1494" y2="1463.1" stroke="#000" stroke-width="5.8"/>
<line x1="1392" y1="1545.0" x2="1494" y2="1545.0" stroke="#000" stroke-width="5.6" stroke-dasharray="16.3 5.6"/>
<line x1="1392" y1="1625.4" x2="1488" y2="1625.4" stroke="#000" stroke-width="5.5" stroke-dasharray="5.6 5.56"/>
<text transform="translate(1502.4 1489.4) scale(1 1.025)">Free THP</text>
<text transform="translate(1502.4 1569.7) scale(1 1.025)">HSA-THP2</text>
<text transform="translate(1502.4 1649.6) scale(1 1.025)">HSA-THP4</text>
</svg>
</body></html>
